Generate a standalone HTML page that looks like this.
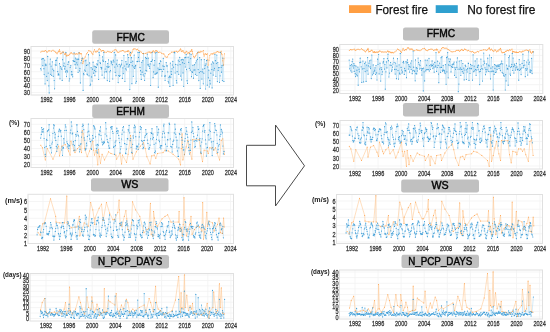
<!DOCTYPE html>
<html><head><meta charset="utf-8"><title>Forest fire vs no forest fire</title>
<style>html,body{margin:0;padding:0;background:#fff;}body{width:550px;height:332px;overflow:hidden;}svg{display:block;}</style>
</head><body>
<svg width="550" height="332" viewBox="0 0 550 332">
<rect x="349" y="5.2" width="22.2" height="7.8" fill="#ff9e42"/>
<text x="375.4" y="13.6" font-size="12.2" textLength="52.6" lengthAdjust="spacingAndGlyphs" fill="#111" stroke="#111" stroke-width="0.25" font-family='"Liberation Sans", Arial, sans-serif'>Forest fire</text>
<rect x="435.7" y="5.2" width="22.1" height="7.8" fill="#2fa0cf"/>
<text x="467.2" y="13.6" font-size="12.2" textLength="68.2" lengthAdjust="spacingAndGlyphs" fill="#111" stroke="#111" stroke-width="0.25" font-family='"Liberation Sans", Arial, sans-serif'>No forest fire</text>
<line x1="31" y1="92.5" x2="233.5" y2="92.5" stroke="#f2f2f2" stroke-width="0.8"/>
<line x1="31" y1="85.58" x2="233.5" y2="85.58" stroke="#f2f2f2" stroke-width="0.8"/>
<line x1="31" y1="78.67" x2="233.5" y2="78.67" stroke="#f2f2f2" stroke-width="0.8"/>
<line x1="31" y1="71.75" x2="233.5" y2="71.75" stroke="#f2f2f2" stroke-width="0.8"/>
<line x1="31" y1="64.83" x2="233.5" y2="64.83" stroke="#f2f2f2" stroke-width="0.8"/>
<line x1="31" y1="57.92" x2="233.5" y2="57.92" stroke="#f2f2f2" stroke-width="0.8"/>
<line x1="31" y1="51" x2="233.5" y2="51" stroke="#f2f2f2" stroke-width="0.8"/>
<line x1="46.5" y1="46.5" x2="46.5" y2="95" stroke="#f2f2f2" stroke-width="0.8"/>
<line x1="69.54" y1="46.5" x2="69.54" y2="95" stroke="#f2f2f2" stroke-width="0.8"/>
<line x1="92.59" y1="46.5" x2="92.59" y2="95" stroke="#f2f2f2" stroke-width="0.8"/>
<line x1="115.63" y1="46.5" x2="115.63" y2="95" stroke="#f2f2f2" stroke-width="0.8"/>
<line x1="138.67" y1="46.5" x2="138.67" y2="95" stroke="#f2f2f2" stroke-width="0.8"/>
<line x1="161.71" y1="46.5" x2="161.71" y2="95" stroke="#f2f2f2" stroke-width="0.8"/>
<line x1="184.76" y1="46.5" x2="184.76" y2="95" stroke="#f2f2f2" stroke-width="0.8"/>
<line x1="207.8" y1="46.5" x2="207.8" y2="95" stroke="#f2f2f2" stroke-width="0.8"/>
<line x1="230.84" y1="46.5" x2="230.84" y2="95" stroke="#f2f2f2" stroke-width="0.8"/>
<polyline points="40.7,68.6 41.2,70.0 41.8,59.2 42.3,58.6 42.8,65.7 43.4,58.6 43.9,68.7 44.2,74.6 44.7,60.0 45.1,83.9 45.4,65.1 45.8,64.1 46.2,65.1 46.6,76.3 47.3,80.6 47.7,56.4 48.2,73.1 48.8,85.8 49.2,92.9 49.9,64.0 50.3,59.1 50.7,74.3 51.1,66.1 51.7,75.5 52.3,61.8 52.8,69.2 53.3,76.3 53.7,70.7 54.2,80.5 54.6,88.8 55.3,64.8 55.7,60.3 56.1,65.2 56.6,60.2 57.2,57.9 57.7,71.6 58.1,75.0 58.4,73.8 58.9,74.9 59.5,63.6 60.0,78.8 60.6,66.6 61.2,68.2 61.8,69.5 62.2,80.4 62.6,59.7 63.1,52.4 63.6,65.9 64.1,63.1 64.6,68.9 65.1,66.5 65.5,71.9 65.9,52.4 66.5,76.6 66.9,70.7 67.4,71.9 67.9,64.3 68.3,62.1 68.8,61.8 69.2,81.0 69.7,78.8 70.2,67.5 70.8,65.7 71.4,74.8 71.7,71.7 72.2,74.7 72.7,76.8 73.1,60.6 73.6,61.2 74.1,52.8 74.7,61.4 75.1,64.7 75.5,58.0 75.9,68.2 76.3,59.0 76.7,62.8 77.3,64.8 77.7,59.2 78.1,72.5 78.6,59.2 79.0,52.6 79.4,70.9 79.9,68.3 80.4,82.9 81.0,62.9 81.5,60.6 82.0,58.7 82.6,58.0 83.1,90.4 83.5,73.3 83.9,74.7 84.5,70.0 85.1,60.8 85.6,71.1 86.0,60.0 86.5,65.4 87.0,74.1 87.5,74.8 87.9,64.8 88.5,54.7 89.0,75.8 89.6,62.9 90.1,85.6 90.6,84.2 91.1,67.7 91.6,76.9 92.1,81.0 92.5,69.2 93.1,62.2 93.6,73.2 94.1,66.1 94.5,70.3 94.9,75.7 95.3,66.7 95.8,71.7 96.4,67.4 96.9,63.8 97.5,64.8 98.0,60.7 98.6,79.5 99.1,52.4 99.6,55.2 100.1,62.7 100.5,63.5 101.0,67.4 101.3,69.0 101.7,67.9 102.1,75.2 102.5,56.8 102.9,60.2 103.3,61.4 103.8,52.4 104.3,77.9 104.7,72.0 105.2,69.0 105.6,61.6 106.1,71.5 106.5,71.8 107.0,66.3 107.3,80.6 107.7,63.5 108.1,67.4 108.5,59.8 109.0,66.7 109.6,81.3 109.9,71.8 110.5,70.6 111.0,61.0 111.3,63.1 111.8,61.9 112.3,64.7 112.7,79.0 113.3,60.2 113.9,61.9 114.3,52.4 114.8,67.1 115.2,72.3 115.6,54.9 116.0,75.7 116.5,64.2 117.1,60.1 117.6,66.0 118.2,82.6 118.7,75.5 119.2,64.3 119.6,76.5 120.0,75.5 120.4,66.8 120.9,65.6 121.4,64.2 121.9,60.3 122.4,78.4 122.9,67.8 123.3,73.6 123.9,55.5 124.3,66.0 124.9,81.5 125.4,68.8 125.9,61.6 126.4,70.0 126.7,64.2 127.1,64.1 127.7,54.7 128.1,67.1 128.6,57.5 129.0,65.9 129.5,64.5 129.8,89.6 130.5,52.4 131.0,62.4 131.5,57.7 131.9,83.7 132.3,65.7 132.7,61.2 133.3,76.3 133.7,67.0 134.2,55.0 134.7,68.4 135.1,66.7 135.6,65.4 135.8,83.1 136.4,81.3 137.0,61.3 137.5,61.6 138.0,52.4 138.5,57.4 139.1,61.3 139.4,52.4 140.0,67.4 140.5,70.7 140.9,74.4 141.3,79.4 141.8,62.3 142.2,72.2 142.8,60.7 143.2,74.9 143.5,53.4 144.1,76.1 144.6,80.3 145.1,73.6 145.5,57.3 145.9,70.3 146.4,58.4 146.7,71.0 147.3,54.1 147.8,64.8 148.2,58.2 148.6,64.9 149.2,66.4 149.7,68.3 150.2,63.8 150.6,85.5 151.0,61.5 151.6,61.3 152.1,52.4 152.5,59.9 153.1,77.7 153.6,71.9 154.1,65.2 154.6,60.5 155.0,74.2 155.4,52.9 156.0,73.8 156.4,73.2 156.9,52.4 157.4,72.8 158.0,68.0 158.3,87.2 159.0,69.7 159.4,63.4 160.0,69.3 160.4,60.8 160.8,61.3 161.2,69.5 161.8,76.0 162.3,71.5 162.9,65.9 163.3,58.3 163.7,69.3 164.1,66.4 164.5,76.1 165.1,80.5 165.6,75.9 166.2,62.6 166.7,65.9 167.3,65.9 167.7,71.8 168.2,81.5 168.7,82.9 169.0,77.4 169.5,76.2 169.9,86.4 170.4,63.1 170.8,77.2 171.2,71.3 171.6,74.4 172.0,68.8 172.4,65.0 172.8,61.3 173.1,85.5 173.6,67.2 174.2,52.4 174.8,52.8 175.2,73.0 175.7,64.4 176.4,80.6 176.8,82.9 177.2,71.7 177.8,65.0 178.3,60.1 178.7,74.3 179.2,61.5 179.7,57.3 180.1,64.6 180.7,76.1 181.2,59.9 181.6,79.9 182.2,59.3 182.6,62.7 183.0,72.9 183.4,59.8 183.7,86.3 184.3,63.5 184.9,57.7 185.3,67.0 185.8,57.4 186.2,54.4 186.5,69.6 187.1,80.7 187.5,83.3 188.1,57.2 188.7,62.3 189.3,68.3 189.7,53.6 190.3,70.2 190.7,58.6 191.1,54.3 191.5,76.7 192.0,71.7 192.5,72.5 192.9,65.3 193.5,78.2 193.9,70.0 194.4,64.7 194.9,69.9 195.4,74.3 195.8,62.8 196.4,60.8 196.9,75.5 197.4,59.4 197.8,52.4 198.2,69.6 198.8,80.6 199.3,72.6 199.7,57.6 200.2,88.4 200.8,71.5 201.3,59.7 201.9,79.1 202.3,71.9 202.8,69.1 203.3,83.8 203.8,73.2 204.3,59.5 204.7,68.6 205.2,65.4 205.6,89.0 206.0,63.9 206.6,60.4 206.9,60.6 207.3,85.2 207.8,66.9 208.4,77.8 208.8,70.2 209.3,87.0 209.8,80.4 210.3,83.9 210.8,73.2 211.4,64.0 211.8,69.6 212.1,87.9 212.7,61.9 213.2,75.1 213.6,63.1 214.0,70.2 214.5,68.3 214.9,54.3 215.4,60.7 215.9,76.3 216.4,63.5 216.8,55.0 217.4,81.6 217.8,62.6 218.2,70.5 218.7,67.6 219.1,67.6 219.5,82.3 220.1,75.8 220.6,52.4 221.2,67.3 221.5,72.2 222.0,65.6 222.4,80.6 222.8,58.1 223.3,65.0 223.9,81.4" fill="none" stroke="#b2dbf2" stroke-width="0.55" stroke-linejoin="round"/>
<polyline points="40.8,52.1 42.0,51.2 43.2,51.3 44.5,51.2 45.7,50.5 46.5,51.8 47.3,52.1 48.5,50.9 49.7,50.8 51.4,51.2 53.0,50.2 54.2,51.2 55.4,52.1 56.2,52.8 57.1,53.8 57.9,52.3 58.7,51.3 59.1,51.1 59.5,49.7 59.9,51.5 60.3,53.8 61.1,53.4 61.9,53.0 62.7,51.9 63.6,52.1 64.4,54.2 65.2,54.6 65.6,53.4 66.0,53.8 66.4,55.6 66.8,56.2 67.7,55.2 68.5,55.4 69.3,54.6 70.1,53.8 70.9,52.8 71.7,53.0 73.0,54.0 74.2,53.8 75.4,54.1 76.6,53.8 77.8,54.1 79.0,53.0 79.4,52.9 79.9,53.8 80.7,53.7 81.5,53.8 82.1,59.2 82.8,63.5 83.4,61.7 83.9,58.7 85.2,57.0 86.4,53.8 87.6,52.7 88.8,50.5 90.1,51.2 91.3,52.1 92.1,53.5 92.9,54.6 93.7,51.8 94.5,49.7 95.3,51.7 96.1,52.1 96.9,51.1 97.8,51.3 98.7,49.2 99.6,48.9 100.5,49.7 101.3,51.3 102.1,50.5 102.9,50.5 103.7,50.7 104.5,52.1 106.2,52.4 107.8,51.3 109.0,51.8 110.2,52.1 111.4,52.5 112.7,51.3 114.3,50.0 115.9,49.7 116.7,50.8 117.5,52.1 118.8,52.4 120.0,51.3 121.2,51.0 122.4,50.5 123.7,50.8 124.9,52.1 126.1,51.6 127.3,51.3 127.7,51.6 128.1,50.5 128.9,51.4 129.8,53.8 130.2,55.4 130.6,55.4 131.4,53.1 132.2,52.1 133.0,49.6 133.8,48.9 135.0,48.8 136.3,49.7 137.5,49.3 138.7,50.5 139.9,51.2 141.2,52.1 142.4,53.5 143.6,53.8 145.3,53.4 146.9,53.0 148.1,52.1 149.3,52.1 150.1,52.1 150.9,53.0 151.7,52.4 152.6,51.3 153.4,50.9 154.2,52.1 155.0,52.1 155.8,50.5 156.6,50.9 157.4,51.3 158.6,52.5 159.9,52.1 161.5,53.2 163.1,53.8 164.0,54.1 165.0,56.2 166.2,57.3 167.4,57.0 168.6,54.5 169.9,53.8 171.5,52.2 173.1,52.1 174.8,51.4 176.4,51.3 177.6,52.1 178.8,51.3 179.7,50.2 180.5,48.9 180.9,49.8 181.3,51.3 182.1,51.6 182.9,50.5 183.7,52.1 184.5,53.0 185.4,52.9 186.2,51.3 187.0,51.9 187.8,53.8 188.6,52.7 189.4,53.0 190.2,51.4 191.1,51.3 191.5,50.0 191.9,49.7 192.3,51.6 192.7,53.8 193.5,56.6 194.3,57.8 195.1,56.6 195.9,55.4 196.8,53.7 197.6,53.0 198.4,52.1 199.2,52.1 200.0,52.6 200.8,51.3 202.0,51.8 203.3,50.5 203.7,54.1 204.1,56.2 204.9,54.2 205.7,53.8 206.5,54.5 207.3,53.8 207.7,59.7 208.2,65.2 209.0,60.3 209.8,55.4 211.0,53.9 212.2,53.8 213.0,54.1 213.9,53.0 215.1,53.0 216.3,52.1 217.5,51.6 218.7,52.1 220.0,52.4 221.2,51.3 221.6,53.6 222.0,54.6 222.8,60.8 223.6,65.2 224.0,58.7 224.4,53.8" fill="none" stroke="#ffc996" stroke-width="0.6" stroke-linejoin="round"/>
<path d="M40.7 68.6h0M41.2 70.0h0M41.8 59.2h0M42.3 58.6h0M42.8 65.7h0M43.4 58.6h0M43.9 68.7h0M44.2 74.6h0M44.7 60.0h0M45.1 83.9h0M45.4 65.1h0M45.8 64.1h0M46.2 65.1h0M46.6 76.3h0M47.3 80.6h0M47.7 56.4h0M48.2 73.1h0M48.8 85.8h0M49.2 92.9h0M49.9 64.0h0M50.3 59.1h0M50.7 74.3h0M51.1 66.1h0M51.7 75.5h0M52.3 61.8h0M52.8 69.2h0M53.3 76.3h0M53.7 70.7h0M54.2 80.5h0M54.6 88.8h0M55.3 64.8h0M55.7 60.3h0M56.1 65.2h0M56.6 60.2h0M57.2 57.9h0M57.7 71.6h0M58.1 75.0h0M58.4 73.8h0M58.9 74.9h0M59.5 63.6h0M60.0 78.8h0M60.6 66.6h0M61.2 68.2h0M61.8 69.5h0M62.2 80.4h0M62.6 59.7h0M63.1 52.4h0M63.6 65.9h0M64.1 63.1h0M64.6 68.9h0M65.1 66.5h0M65.5 71.9h0M65.9 52.4h0M66.5 76.6h0M66.9 70.7h0M67.4 71.9h0M67.9 64.3h0M68.3 62.1h0M68.8 61.8h0M69.2 81.0h0M69.7 78.8h0M70.2 67.5h0M70.8 65.7h0M71.4 74.8h0M71.7 71.7h0M72.2 74.7h0M72.7 76.8h0M73.1 60.6h0M73.6 61.2h0M74.1 52.8h0M74.7 61.4h0M75.1 64.7h0M75.5 58.0h0M75.9 68.2h0M76.3 59.0h0M76.7 62.8h0M77.3 64.8h0M77.7 59.2h0M78.1 72.5h0M78.6 59.2h0M79.0 52.6h0M79.4 70.9h0M79.9 68.3h0M80.4 82.9h0M81.0 62.9h0M81.5 60.6h0M82.0 58.7h0M82.6 58.0h0M83.1 90.4h0M83.5 73.3h0M83.9 74.7h0M84.5 70.0h0M85.1 60.8h0M85.6 71.1h0M86.0 60.0h0M86.5 65.4h0M87.0 74.1h0M87.5 74.8h0M87.9 64.8h0M88.5 54.7h0M89.0 75.8h0M89.6 62.9h0M90.1 85.6h0M90.6 84.2h0M91.1 67.7h0M91.6 76.9h0M92.1 81.0h0M92.5 69.2h0M93.1 62.2h0M93.6 73.2h0M94.1 66.1h0M94.5 70.3h0M94.9 75.7h0M95.3 66.7h0M95.8 71.7h0M96.4 67.4h0M96.9 63.8h0M97.5 64.8h0M98.0 60.7h0M98.6 79.5h0M99.1 52.4h0M99.6 55.2h0M100.1 62.7h0M100.5 63.5h0M101.0 67.4h0M101.3 69.0h0M101.7 67.9h0M102.1 75.2h0M102.5 56.8h0M102.9 60.2h0M103.3 61.4h0M103.8 52.4h0M104.3 77.9h0M104.7 72.0h0M105.2 69.0h0M105.6 61.6h0M106.1 71.5h0M106.5 71.8h0M107.0 66.3h0M107.3 80.6h0M107.7 63.5h0M108.1 67.4h0M108.5 59.8h0M109.0 66.7h0M109.6 81.3h0M109.9 71.8h0M110.5 70.6h0M111.0 61.0h0M111.3 63.1h0M111.8 61.9h0M112.3 64.7h0M112.7 79.0h0M113.3 60.2h0M113.9 61.9h0M114.3 52.4h0M114.8 67.1h0M115.2 72.3h0M115.6 54.9h0M116.0 75.7h0M116.5 64.2h0M117.1 60.1h0M117.6 66.0h0M118.2 82.6h0M118.7 75.5h0M119.2 64.3h0M119.6 76.5h0M120.0 75.5h0M120.4 66.8h0M120.9 65.6h0M121.4 64.2h0M121.9 60.3h0M122.4 78.4h0M122.9 67.8h0M123.3 73.6h0M123.9 55.5h0M124.3 66.0h0M124.9 81.5h0M125.4 68.8h0M125.9 61.6h0M126.4 70.0h0M126.7 64.2h0M127.1 64.1h0M127.7 54.7h0M128.1 67.1h0M128.6 57.5h0M129.0 65.9h0M129.5 64.5h0M129.8 89.6h0M130.5 52.4h0M131.0 62.4h0M131.5 57.7h0M131.9 83.7h0M132.3 65.7h0M132.7 61.2h0M133.3 76.3h0M133.7 67.0h0M134.2 55.0h0M134.7 68.4h0M135.1 66.7h0M135.6 65.4h0M135.8 83.1h0M136.4 81.3h0M137.0 61.3h0M137.5 61.6h0M138.0 52.4h0M138.5 57.4h0M139.1 61.3h0M139.4 52.4h0M140.0 67.4h0M140.5 70.7h0M140.9 74.4h0M141.3 79.4h0M141.8 62.3h0M142.2 72.2h0M142.8 60.7h0M143.2 74.9h0M143.5 53.4h0M144.1 76.1h0M144.6 80.3h0M145.1 73.6h0M145.5 57.3h0M145.9 70.3h0M146.4 58.4h0M146.7 71.0h0M147.3 54.1h0M147.8 64.8h0M148.2 58.2h0M148.6 64.9h0M149.2 66.4h0M149.7 68.3h0M150.2 63.8h0M150.6 85.5h0M151.0 61.5h0M151.6 61.3h0M152.1 52.4h0M152.5 59.9h0M153.1 77.7h0M153.6 71.9h0M154.1 65.2h0M154.6 60.5h0M155.0 74.2h0M155.4 52.9h0M156.0 73.8h0M156.4 73.2h0M156.9 52.4h0M157.4 72.8h0M158.0 68.0h0M158.3 87.2h0M159.0 69.7h0M159.4 63.4h0M160.0 69.3h0M160.4 60.8h0M160.8 61.3h0M161.2 69.5h0M161.8 76.0h0M162.3 71.5h0M162.9 65.9h0M163.3 58.3h0M163.7 69.3h0M164.1 66.4h0M164.5 76.1h0M165.1 80.5h0M165.6 75.9h0M166.2 62.6h0M166.7 65.9h0M167.3 65.9h0M167.7 71.8h0M168.2 81.5h0M168.7 82.9h0M169.0 77.4h0M169.5 76.2h0M169.9 86.4h0M170.4 63.1h0M170.8 77.2h0M171.2 71.3h0M171.6 74.4h0M172.0 68.8h0M172.4 65.0h0M172.8 61.3h0M173.1 85.5h0M173.6 67.2h0M174.2 52.4h0M174.8 52.8h0M175.2 73.0h0M175.7 64.4h0M176.4 80.6h0M176.8 82.9h0M177.2 71.7h0M177.8 65.0h0M178.3 60.1h0M178.7 74.3h0M179.2 61.5h0M179.7 57.3h0M180.1 64.6h0M180.7 76.1h0M181.2 59.9h0M181.6 79.9h0M182.2 59.3h0M182.6 62.7h0M183.0 72.9h0M183.4 59.8h0M183.7 86.3h0M184.3 63.5h0M184.9 57.7h0M185.3 67.0h0M185.8 57.4h0M186.2 54.4h0M186.5 69.6h0M187.1 80.7h0M187.5 83.3h0M188.1 57.2h0M188.7 62.3h0M189.3 68.3h0M189.7 53.6h0M190.3 70.2h0M190.7 58.6h0M191.1 54.3h0M191.5 76.7h0M192.0 71.7h0M192.5 72.5h0M192.9 65.3h0M193.5 78.2h0M193.9 70.0h0M194.4 64.7h0M194.9 69.9h0M195.4 74.3h0M195.8 62.8h0M196.4 60.8h0M196.9 75.5h0M197.4 59.4h0M197.8 52.4h0M198.2 69.6h0M198.8 80.6h0M199.3 72.6h0M199.7 57.6h0M200.2 88.4h0M200.8 71.5h0M201.3 59.7h0M201.9 79.1h0M202.3 71.9h0M202.8 69.1h0M203.3 83.8h0M203.8 73.2h0M204.3 59.5h0M204.7 68.6h0M205.2 65.4h0M205.6 89.0h0M206.0 63.9h0M206.6 60.4h0M206.9 60.6h0M207.3 85.2h0M207.8 66.9h0M208.4 77.8h0M208.8 70.2h0M209.3 87.0h0M209.8 80.4h0M210.3 83.9h0M210.8 73.2h0M211.4 64.0h0M211.8 69.6h0M212.1 87.9h0M212.7 61.9h0M213.2 75.1h0M213.6 63.1h0M214.0 70.2h0M214.5 68.3h0M214.9 54.3h0M215.4 60.7h0M215.9 76.3h0M216.4 63.5h0M216.8 55.0h0M217.4 81.6h0M217.8 62.6h0M218.2 70.5h0M218.7 67.6h0M219.1 67.6h0M219.5 82.3h0M220.1 75.8h0M220.6 52.4h0M221.2 67.3h0M221.5 72.2h0M222.0 65.6h0M222.4 80.6h0M222.8 58.1h0M223.3 65.0h0M223.9 81.4h0" fill="none" stroke="#3f9dd6" stroke-width="1.20" stroke-linecap="round"/>
<path d="M40.8 52.1h0M42.0 51.2h0M43.2 51.3h0M44.5 51.2h0M45.7 50.5h0M46.5 51.8h0M47.3 52.1h0M48.5 50.9h0M49.7 50.8h0M51.4 51.2h0M53.0 50.2h0M54.2 51.2h0M55.4 52.1h0M56.2 52.8h0M57.1 53.8h0M57.9 52.3h0M58.7 51.3h0M59.1 51.1h0M59.5 49.7h0M59.9 51.5h0M60.3 53.8h0M61.1 53.4h0M61.9 53.0h0M62.7 51.9h0M63.6 52.1h0M64.4 54.2h0M65.2 54.6h0M65.6 53.4h0M66.0 53.8h0M66.4 55.6h0M66.8 56.2h0M67.7 55.2h0M68.5 55.4h0M69.3 54.6h0M70.1 53.8h0M70.9 52.8h0M71.7 53.0h0M73.0 54.0h0M74.2 53.8h0M75.4 54.1h0M76.6 53.8h0M77.8 54.1h0M79.0 53.0h0M79.4 52.9h0M79.9 53.8h0M80.7 53.7h0M81.5 53.8h0M82.1 59.2h0M82.8 63.5h0M83.4 61.7h0M83.9 58.7h0M85.2 57.0h0M86.4 53.8h0M87.6 52.7h0M88.8 50.5h0M90.1 51.2h0M91.3 52.1h0M92.1 53.5h0M92.9 54.6h0M93.7 51.8h0M94.5 49.7h0M95.3 51.7h0M96.1 52.1h0M96.9 51.1h0M97.8 51.3h0M98.7 49.2h0M99.6 48.9h0M100.5 49.7h0M101.3 51.3h0M102.1 50.5h0M102.9 50.5h0M103.7 50.7h0M104.5 52.1h0M106.2 52.4h0M107.8 51.3h0M109.0 51.8h0M110.2 52.1h0M111.4 52.5h0M112.7 51.3h0M114.3 50.0h0M115.9 49.7h0M116.7 50.8h0M117.5 52.1h0M118.8 52.4h0M120.0 51.3h0M121.2 51.0h0M122.4 50.5h0M123.7 50.8h0M124.9 52.1h0M126.1 51.6h0M127.3 51.3h0M127.7 51.6h0M128.1 50.5h0M128.9 51.4h0M129.8 53.8h0M130.2 55.4h0M130.6 55.4h0M131.4 53.1h0M132.2 52.1h0M133.0 49.6h0M133.8 48.9h0M135.0 48.8h0M136.3 49.7h0M137.5 49.3h0M138.7 50.5h0M139.9 51.2h0M141.2 52.1h0M142.4 53.5h0M143.6 53.8h0M145.3 53.4h0M146.9 53.0h0M148.1 52.1h0M149.3 52.1h0M150.1 52.1h0M150.9 53.0h0M151.7 52.4h0M152.6 51.3h0M153.4 50.9h0M154.2 52.1h0M155.0 52.1h0M155.8 50.5h0M156.6 50.9h0M157.4 51.3h0M158.6 52.5h0M159.9 52.1h0M161.5 53.2h0M163.1 53.8h0M164.0 54.1h0M165.0 56.2h0M166.2 57.3h0M167.4 57.0h0M168.6 54.5h0M169.9 53.8h0M171.5 52.2h0M173.1 52.1h0M174.8 51.4h0M176.4 51.3h0M177.6 52.1h0M178.8 51.3h0M179.7 50.2h0M180.5 48.9h0M180.9 49.8h0M181.3 51.3h0M182.1 51.6h0M182.9 50.5h0M183.7 52.1h0M184.5 53.0h0M185.4 52.9h0M186.2 51.3h0M187.0 51.9h0M187.8 53.8h0M188.6 52.7h0M189.4 53.0h0M190.2 51.4h0M191.1 51.3h0M191.5 50.0h0M191.9 49.7h0M192.3 51.6h0M192.7 53.8h0M193.5 56.6h0M194.3 57.8h0M195.1 56.6h0M195.9 55.4h0M196.8 53.7h0M197.6 53.0h0M198.4 52.1h0M199.2 52.1h0M200.0 52.6h0M200.8 51.3h0M202.0 51.8h0M203.3 50.5h0M203.7 54.1h0M204.1 56.2h0M204.9 54.2h0M205.7 53.8h0M206.5 54.5h0M207.3 53.8h0M207.7 59.7h0M208.2 65.2h0M209.0 60.3h0M209.8 55.4h0M211.0 53.9h0M212.2 53.8h0M213.0 54.1h0M213.9 53.0h0M215.1 53.0h0M216.3 52.1h0M217.5 51.6h0M218.7 52.1h0M220.0 52.4h0M221.2 51.3h0M221.6 53.6h0M222.0 54.6h0M222.8 60.8h0M223.6 65.2h0M224.0 58.7h0M224.4 53.8h0" fill="none" stroke="#ff9f47" stroke-width="1.00" stroke-linecap="round"/>
<rect x="31" y="46.5" width="202.5" height="48.5" fill="none" stroke="#e0e0e0" stroke-width="1"/>
<text x="0" y="0" transform="translate(30,95.35) scale(0.69,1)" text-anchor="end" font-size="8" fill="#333333" stroke="#333333" stroke-width="0.3" font-family='"Liberation Sans", Arial, sans-serif'>30</text>
<text x="0" y="0" transform="translate(30,88.43) scale(0.69,1)" text-anchor="end" font-size="8" fill="#333333" stroke="#333333" stroke-width="0.3" font-family='"Liberation Sans", Arial, sans-serif'>40</text>
<text x="0" y="0" transform="translate(30,81.52) scale(0.69,1)" text-anchor="end" font-size="8" fill="#333333" stroke="#333333" stroke-width="0.3" font-family='"Liberation Sans", Arial, sans-serif'>50</text>
<text x="0" y="0" transform="translate(30,74.6) scale(0.69,1)" text-anchor="end" font-size="8" fill="#333333" stroke="#333333" stroke-width="0.3" font-family='"Liberation Sans", Arial, sans-serif'>60</text>
<text x="0" y="0" transform="translate(30,67.68) scale(0.69,1)" text-anchor="end" font-size="8" fill="#333333" stroke="#333333" stroke-width="0.3" font-family='"Liberation Sans", Arial, sans-serif'>70</text>
<text x="0" y="0" transform="translate(30,60.77) scale(0.69,1)" text-anchor="end" font-size="8" fill="#333333" stroke="#333333" stroke-width="0.3" font-family='"Liberation Sans", Arial, sans-serif'>80</text>
<text x="0" y="0" transform="translate(30,53.85) scale(0.69,1)" text-anchor="end" font-size="8" fill="#333333" stroke="#333333" stroke-width="0.3" font-family='"Liberation Sans", Arial, sans-serif'>90</text>
<text x="0" y="0" transform="translate(46.5,102.35) scale(0.69,1)" text-anchor="middle" font-size="8" fill="#333333" stroke="#333333" stroke-width="0.3" font-family='"Liberation Sans", Arial, sans-serif'>1992</text>
<text x="0" y="0" transform="translate(69.54,102.35) scale(0.69,1)" text-anchor="middle" font-size="8" fill="#333333" stroke="#333333" stroke-width="0.3" font-family='"Liberation Sans", Arial, sans-serif'>1996</text>
<text x="0" y="0" transform="translate(92.59,102.35) scale(0.69,1)" text-anchor="middle" font-size="8" fill="#333333" stroke="#333333" stroke-width="0.3" font-family='"Liberation Sans", Arial, sans-serif'>2000</text>
<text x="0" y="0" transform="translate(115.63,102.35) scale(0.69,1)" text-anchor="middle" font-size="8" fill="#333333" stroke="#333333" stroke-width="0.3" font-family='"Liberation Sans", Arial, sans-serif'>2004</text>
<text x="0" y="0" transform="translate(138.67,102.35) scale(0.69,1)" text-anchor="middle" font-size="8" fill="#333333" stroke="#333333" stroke-width="0.3" font-family='"Liberation Sans", Arial, sans-serif'>2008</text>
<text x="0" y="0" transform="translate(161.71,102.35) scale(0.69,1)" text-anchor="middle" font-size="8" fill="#333333" stroke="#333333" stroke-width="0.3" font-family='"Liberation Sans", Arial, sans-serif'>2012</text>
<text x="0" y="0" transform="translate(184.76,102.35) scale(0.69,1)" text-anchor="middle" font-size="8" fill="#333333" stroke="#333333" stroke-width="0.3" font-family='"Liberation Sans", Arial, sans-serif'>2016</text>
<text x="0" y="0" transform="translate(207.8,102.35) scale(0.69,1)" text-anchor="middle" font-size="8" fill="#333333" stroke="#333333" stroke-width="0.3" font-family='"Liberation Sans", Arial, sans-serif'>2020</text>
<text x="0" y="0" transform="translate(230.84,102.35) scale(0.69,1)" text-anchor="middle" font-size="8" fill="#333333" stroke="#333333" stroke-width="0.3" font-family='"Liberation Sans", Arial, sans-serif'>2024</text>
<rect x="92.2" y="30.2" width="76.8" height="13.6" rx="2.2" fill="#c0c0c0"/>
<text x="130.6" y="40.6" text-anchor="middle" font-size="10.6" textLength="28.4" lengthAdjust="spacingAndGlyphs" fill="#050505" stroke="#050505" stroke-width="0.42" font-family='"Liberation Sans", Arial, sans-serif'>FFMC</text>
<line x1="31" y1="164.6" x2="233.5" y2="164.6" stroke="#f2f2f2" stroke-width="0.8"/>
<line x1="31" y1="156.54" x2="233.5" y2="156.54" stroke="#f2f2f2" stroke-width="0.8"/>
<line x1="31" y1="148.48" x2="233.5" y2="148.48" stroke="#f2f2f2" stroke-width="0.8"/>
<line x1="31" y1="140.42" x2="233.5" y2="140.42" stroke="#f2f2f2" stroke-width="0.8"/>
<line x1="31" y1="132.36" x2="233.5" y2="132.36" stroke="#f2f2f2" stroke-width="0.8"/>
<line x1="31" y1="124.3" x2="233.5" y2="124.3" stroke="#f2f2f2" stroke-width="0.8"/>
<line x1="46.5" y1="118.5" x2="46.5" y2="167.5" stroke="#f2f2f2" stroke-width="0.8"/>
<line x1="69.54" y1="118.5" x2="69.54" y2="167.5" stroke="#f2f2f2" stroke-width="0.8"/>
<line x1="92.59" y1="118.5" x2="92.59" y2="167.5" stroke="#f2f2f2" stroke-width="0.8"/>
<line x1="115.63" y1="118.5" x2="115.63" y2="167.5" stroke="#f2f2f2" stroke-width="0.8"/>
<line x1="138.67" y1="118.5" x2="138.67" y2="167.5" stroke="#f2f2f2" stroke-width="0.8"/>
<line x1="161.71" y1="118.5" x2="161.71" y2="167.5" stroke="#f2f2f2" stroke-width="0.8"/>
<line x1="184.76" y1="118.5" x2="184.76" y2="167.5" stroke="#f2f2f2" stroke-width="0.8"/>
<line x1="207.8" y1="118.5" x2="207.8" y2="167.5" stroke="#f2f2f2" stroke-width="0.8"/>
<line x1="230.84" y1="118.5" x2="230.84" y2="167.5" stroke="#f2f2f2" stroke-width="0.8"/>
<polyline points="40.7,138.1 41.3,134.4 41.7,127.6 42.1,131.9 42.6,129.5 43.1,131.9 43.6,128.8 44.1,138.5 44.7,147.6 45.2,154.4 45.6,156.5 46.2,146.4 46.6,139.3 47.0,140.3 47.4,131.2 47.9,130.6 48.2,130.6 48.7,129.5 49.1,124.7 49.6,135.1 49.9,145.6 50.3,147.9 50.9,147.3 51.5,152.8 51.9,143.9 52.3,142.1 52.9,133.5 53.5,128.0 53.8,124.7 54.2,125.7 54.6,132.3 55.0,137.9 55.3,134.1 55.8,140.4 56.3,146.4 56.8,151.3 57.2,147.9 57.7,144.7 58.3,136.3 58.8,131.2 59.3,129.0 59.8,129.9 60.3,131.8 60.8,130.5 61.3,136.2 61.7,150.0 62.1,146.8 62.5,155.3 63.0,148.5 63.4,147.7 63.8,138.7 64.2,143.0 64.8,130.5 65.3,124.8 65.8,126.9 66.3,130.3 66.9,141.8 67.4,143.7 67.8,146.9 68.3,144.8 68.8,148.7 69.2,145.9 69.7,145.7 70.3,132.9 70.8,130.1 71.3,121.9 71.8,126.1 72.2,133.9 72.7,133.0 73.1,144.6 73.4,141.7 73.9,150.7 74.5,145.3 75.0,150.2 75.3,140.6 75.8,134.4 76.3,136.1 76.7,124.8 77.1,124.8 77.5,131.4 78.0,135.1 78.6,136.0 79.0,145.4 79.5,151.8 80.0,149.3 80.6,144.1 81.1,143.8 81.5,137.1 81.9,132.2 82.3,126.3 82.9,124.1 83.3,125.5 83.8,129.7 84.2,137.9 84.7,140.1 85.2,150.1 85.5,148.9 86.0,148.9 86.5,143.2 86.8,145.8 87.4,136.4 87.8,132.0 88.4,124.0 88.8,131.2 89.2,135.1 89.7,138.9 90.2,141.6 90.7,141.6 91.1,148.6 91.5,149.3 92.1,140.2 92.6,135.5 93.2,138.4 93.7,125.7 94.2,126.6 94.7,127.9 95.0,129.1 95.6,136.8 96.1,145.1 96.4,148.7 96.9,152.1 97.4,144.3 97.7,153.1 98.3,145.2 98.9,134.0 99.3,134.8 99.7,130.6 100.1,131.2 100.5,126.9 101.0,135.5 101.5,139.0 102.0,142.0 102.6,144.8 103.1,142.3 103.6,143.7 104.0,141.5 104.5,142.6 105.1,134.0 105.7,122.7 106.2,128.8 106.7,135.9 107.2,139.5 107.7,141.9 108.2,142.6 108.7,145.8 109.1,148.2 109.7,148.1 110.1,138.3 110.7,127.3 111.3,126.9 111.7,128.9 112.1,126.6 112.6,131.5 113.0,133.3 113.5,147.3 114.0,146.4 114.5,154.3 115.1,142.0 115.5,145.7 115.9,140.8 116.5,131.3 116.8,128.2 117.2,133.3 117.8,130.7 118.2,130.9 118.7,135.5 119.0,138.3 119.6,142.6 120.0,152.9 120.5,149.0 121.0,146.5 121.6,139.0 122.0,134.2 122.4,130.1 123.0,127.5 123.5,126.5 124.0,132.0 124.5,143.5 125.0,143.8 125.5,153.1 125.9,153.7 126.4,149.1 126.8,144.5 127.3,138.6 127.8,138.9 128.2,129.7 128.7,131.0 129.1,125.4 129.7,132.8 130.2,140.7 130.7,138.5 131.1,147.3 131.7,152.3 132.2,153.1 132.6,144.3 133.1,135.8 133.5,138.0 134.0,127.7 134.6,125.2 134.9,132.1 135.3,126.9 135.8,136.7 136.3,148.9 136.6,146.2 137.1,146.9 137.7,146.0 138.2,149.5 138.8,144.0 139.2,136.9 139.7,132.4 140.3,126.4 140.8,129.5 141.3,127.7 141.7,140.5 142.2,141.3 142.7,144.2 143.0,148.7 143.5,147.3 143.9,140.5 144.3,140.5 144.8,137.2 145.3,135.6 145.8,129.6 146.4,134.5 146.9,133.5 147.4,140.1 147.9,143.4 148.5,149.0 149.1,149.1 149.6,147.6 150.1,145.1 150.6,138.8 151.1,132.6 151.5,133.4 152.0,128.7 152.5,139.1 152.9,133.9 153.5,137.6 154.1,144.3 154.6,152.5 155.1,153.0 155.5,151.1 155.9,143.1 156.5,139.3 156.9,126.7 157.5,135.0 158.0,132.7 158.6,129.2 159.0,140.2 159.5,141.7 160.1,147.5 160.5,145.9 160.9,148.8 161.2,145.6 161.8,145.8 162.3,137.2 162.6,133.8 163.1,131.3 163.6,125.9 164.0,124.1 164.5,133.2 164.9,137.1 165.5,144.2 166.1,150.9 166.5,150.4 167.1,146.3 167.5,139.7 167.9,139.8 168.2,132.7 168.7,133.0 169.2,123.2 169.6,124.4 170.2,138.9 170.8,146.6 171.2,146.8 171.8,147.0 172.2,152.0 172.7,144.4 173.1,141.5 173.7,140.2 174.3,132.9 174.9,124.2 175.4,129.2 175.7,134.2 176.1,137.2 176.7,147.0 177.0,140.2 177.4,150.9 178.0,156.5 178.5,156.4 178.9,147.8 179.4,133.6 179.9,134.5 180.5,129.5 180.9,130.2 181.3,128.5 181.7,137.3 182.1,140.2 182.5,144.6 182.9,147.2 183.3,150.0 183.8,149.8 184.4,154.6 184.8,141.2 185.2,138.5 185.6,133.8 186.1,127.5 186.7,131.2 187.1,134.4 187.7,137.2 188.2,141.7 188.6,147.3 189.0,150.6 189.5,154.0 189.9,144.3 190.4,150.4 190.9,140.0 191.4,132.3 191.8,121.9 192.3,131.2 192.9,127.3 193.3,133.5 193.8,136.7 194.2,141.2 194.8,147.2 195.4,146.5 195.8,140.5 196.4,138.3 196.9,141.1 197.5,135.2 198.0,126.6 198.5,129.4 198.9,128.8 199.4,140.2 199.9,138.3 200.4,145.9 200.8,152.2 201.2,153.6 201.7,142.1 202.2,138.8 202.7,131.1 203.1,126.3 203.5,125.4 204.0,124.6 204.5,132.1 204.9,130.5 205.5,139.8 205.9,143.9 206.4,156.1 207.0,147.8 207.4,147.4 208.0,135.0 208.4,134.7 209.0,139.9 209.3,130.1 209.9,122.6 210.3,131.3 210.8,138.6 211.4,141.9 211.8,148.8 212.2,155.6 212.6,147.5 213.2,141.3 213.6,149.8 214.2,132.6 214.7,123.6 215.1,125.9 215.7,130.1 216.3,130.5 216.9,134.9 217.2,143.3 217.7,152.6 218.1,149.6 218.7,145.9 219.2,144.5 219.6,139.6 220.0,136.2 220.4,124.9 220.8,134.5 221.3,129.4 221.9,131.0 222.4,132.8 222.9,146.0 223.4,153.9 224.0,151.4" fill="none" stroke="#b2dbf2" stroke-width="0.55" stroke-linejoin="round"/>
<polyline points="40.8,145.3 42.4,147.8 45.3,160.0 47.3,148.6 53.0,159.2 58.7,146.1 59.5,155.9 61.9,146.1 65.2,144.5 68.5,151.0 70.1,155.1 70.9,141.2 74.2,150.2 75.0,152.6 77.4,148.6 79.9,146.1 81.5,152.6 82.3,130.7 83.1,133.9 84.7,148.6 87.2,156.7 89.6,151.0 92.9,141.4 93.7,150.2 94.5,155.1 96.1,150.2 97.8,164.9 98.6,149.4 99.6,156.7 100.4,163.2 102.1,154.3 104.5,160.0 108.6,151.8 111.0,153.5 115.9,155.1 116.7,159.2 120.0,153.5 121.6,164.0 122.4,155.1 126.5,162.4 128.1,154.3 130.6,135.5 132.2,153.5 133.0,159.2 136.3,151.8 140.3,146.1 143.6,142.9 145.2,148.6 146.9,156.7 150.1,164.0 151.7,155.9 154.2,155.1 155.8,158.3 157.4,153.5 163.1,152.6 165.0,150.2 168.3,151.0 173.1,154.3 178.8,159.2 180.5,164.9 181.3,148.6 182.1,133.9 182.9,160.0 184.5,154.3 186.2,146.9 187.8,140.4 190.2,152.6 191.9,159.2 192.7,139.6 199.2,139.6 200.8,153.5 202.5,161.6 204.1,150.2 207.3,151.0 208.2,153.5 209.8,147.8 212.2,147.8 213.9,150.2 215.5,147.8 217.1,153.5 219.6,160.0 221.2,140.4 222.8,138.8 224.4,154.3" fill="none" stroke="#ffc996" stroke-width="0.6" stroke-linejoin="round"/>
<path d="M40.7 138.1h0M41.3 134.4h0M41.7 127.6h0M42.1 131.9h0M42.6 129.5h0M43.1 131.9h0M43.6 128.8h0M44.1 138.5h0M44.7 147.6h0M45.2 154.4h0M45.6 156.5h0M46.2 146.4h0M46.6 139.3h0M47.0 140.3h0M47.4 131.2h0M47.9 130.6h0M48.2 130.6h0M48.7 129.5h0M49.1 124.7h0M49.6 135.1h0M49.9 145.6h0M50.3 147.9h0M50.9 147.3h0M51.5 152.8h0M51.9 143.9h0M52.3 142.1h0M52.9 133.5h0M53.5 128.0h0M53.8 124.7h0M54.2 125.7h0M54.6 132.3h0M55.0 137.9h0M55.3 134.1h0M55.8 140.4h0M56.3 146.4h0M56.8 151.3h0M57.2 147.9h0M57.7 144.7h0M58.3 136.3h0M58.8 131.2h0M59.3 129.0h0M59.8 129.9h0M60.3 131.8h0M60.8 130.5h0M61.3 136.2h0M61.7 150.0h0M62.1 146.8h0M62.5 155.3h0M63.0 148.5h0M63.4 147.7h0M63.8 138.7h0M64.2 143.0h0M64.8 130.5h0M65.3 124.8h0M65.8 126.9h0M66.3 130.3h0M66.9 141.8h0M67.4 143.7h0M67.8 146.9h0M68.3 144.8h0M68.8 148.7h0M69.2 145.9h0M69.7 145.7h0M70.3 132.9h0M70.8 130.1h0M71.3 121.9h0M71.8 126.1h0M72.2 133.9h0M72.7 133.0h0M73.1 144.6h0M73.4 141.7h0M73.9 150.7h0M74.5 145.3h0M75.0 150.2h0M75.3 140.6h0M75.8 134.4h0M76.3 136.1h0M76.7 124.8h0M77.1 124.8h0M77.5 131.4h0M78.0 135.1h0M78.6 136.0h0M79.0 145.4h0M79.5 151.8h0M80.0 149.3h0M80.6 144.1h0M81.1 143.8h0M81.5 137.1h0M81.9 132.2h0M82.3 126.3h0M82.9 124.1h0M83.3 125.5h0M83.8 129.7h0M84.2 137.9h0M84.7 140.1h0M85.2 150.1h0M85.5 148.9h0M86.0 148.9h0M86.5 143.2h0M86.8 145.8h0M87.4 136.4h0M87.8 132.0h0M88.4 124.0h0M88.8 131.2h0M89.2 135.1h0M89.7 138.9h0M90.2 141.6h0M90.7 141.6h0M91.1 148.6h0M91.5 149.3h0M92.1 140.2h0M92.6 135.5h0M93.2 138.4h0M93.7 125.7h0M94.2 126.6h0M94.7 127.9h0M95.0 129.1h0M95.6 136.8h0M96.1 145.1h0M96.4 148.7h0M96.9 152.1h0M97.4 144.3h0M97.7 153.1h0M98.3 145.2h0M98.9 134.0h0M99.3 134.8h0M99.7 130.6h0M100.1 131.2h0M100.5 126.9h0M101.0 135.5h0M101.5 139.0h0M102.0 142.0h0M102.6 144.8h0M103.1 142.3h0M103.6 143.7h0M104.0 141.5h0M104.5 142.6h0M105.1 134.0h0M105.7 122.7h0M106.2 128.8h0M106.7 135.9h0M107.2 139.5h0M107.7 141.9h0M108.2 142.6h0M108.7 145.8h0M109.1 148.2h0M109.7 148.1h0M110.1 138.3h0M110.7 127.3h0M111.3 126.9h0M111.7 128.9h0M112.1 126.6h0M112.6 131.5h0M113.0 133.3h0M113.5 147.3h0M114.0 146.4h0M114.5 154.3h0M115.1 142.0h0M115.5 145.7h0M115.9 140.8h0M116.5 131.3h0M116.8 128.2h0M117.2 133.3h0M117.8 130.7h0M118.2 130.9h0M118.7 135.5h0M119.0 138.3h0M119.6 142.6h0M120.0 152.9h0M120.5 149.0h0M121.0 146.5h0M121.6 139.0h0M122.0 134.2h0M122.4 130.1h0M123.0 127.5h0M123.5 126.5h0M124.0 132.0h0M124.5 143.5h0M125.0 143.8h0M125.5 153.1h0M125.9 153.7h0M126.4 149.1h0M126.8 144.5h0M127.3 138.6h0M127.8 138.9h0M128.2 129.7h0M128.7 131.0h0M129.1 125.4h0M129.7 132.8h0M130.2 140.7h0M130.7 138.5h0M131.1 147.3h0M131.7 152.3h0M132.2 153.1h0M132.6 144.3h0M133.1 135.8h0M133.5 138.0h0M134.0 127.7h0M134.6 125.2h0M134.9 132.1h0M135.3 126.9h0M135.8 136.7h0M136.3 148.9h0M136.6 146.2h0M137.1 146.9h0M137.7 146.0h0M138.2 149.5h0M138.8 144.0h0M139.2 136.9h0M139.7 132.4h0M140.3 126.4h0M140.8 129.5h0M141.3 127.7h0M141.7 140.5h0M142.2 141.3h0M142.7 144.2h0M143.0 148.7h0M143.5 147.3h0M143.9 140.5h0M144.3 140.5h0M144.8 137.2h0M145.3 135.6h0M145.8 129.6h0M146.4 134.5h0M146.9 133.5h0M147.4 140.1h0M147.9 143.4h0M148.5 149.0h0M149.1 149.1h0M149.6 147.6h0M150.1 145.1h0M150.6 138.8h0M151.1 132.6h0M151.5 133.4h0M152.0 128.7h0M152.5 139.1h0M152.9 133.9h0M153.5 137.6h0M154.1 144.3h0M154.6 152.5h0M155.1 153.0h0M155.5 151.1h0M155.9 143.1h0M156.5 139.3h0M156.9 126.7h0M157.5 135.0h0M158.0 132.7h0M158.6 129.2h0M159.0 140.2h0M159.5 141.7h0M160.1 147.5h0M160.5 145.9h0M160.9 148.8h0M161.2 145.6h0M161.8 145.8h0M162.3 137.2h0M162.6 133.8h0M163.1 131.3h0M163.6 125.9h0M164.0 124.1h0M164.5 133.2h0M164.9 137.1h0M165.5 144.2h0M166.1 150.9h0M166.5 150.4h0M167.1 146.3h0M167.5 139.7h0M167.9 139.8h0M168.2 132.7h0M168.7 133.0h0M169.2 123.2h0M169.6 124.4h0M170.2 138.9h0M170.8 146.6h0M171.2 146.8h0M171.8 147.0h0M172.2 152.0h0M172.7 144.4h0M173.1 141.5h0M173.7 140.2h0M174.3 132.9h0M174.9 124.2h0M175.4 129.2h0M175.7 134.2h0M176.1 137.2h0M176.7 147.0h0M177.0 140.2h0M177.4 150.9h0M178.0 156.5h0M178.5 156.4h0M178.9 147.8h0M179.4 133.6h0M179.9 134.5h0M180.5 129.5h0M180.9 130.2h0M181.3 128.5h0M181.7 137.3h0M182.1 140.2h0M182.5 144.6h0M182.9 147.2h0M183.3 150.0h0M183.8 149.8h0M184.4 154.6h0M184.8 141.2h0M185.2 138.5h0M185.6 133.8h0M186.1 127.5h0M186.7 131.2h0M187.1 134.4h0M187.7 137.2h0M188.2 141.7h0M188.6 147.3h0M189.0 150.6h0M189.5 154.0h0M189.9 144.3h0M190.4 150.4h0M190.9 140.0h0M191.4 132.3h0M191.8 121.9h0M192.3 131.2h0M192.9 127.3h0M193.3 133.5h0M193.8 136.7h0M194.2 141.2h0M194.8 147.2h0M195.4 146.5h0M195.8 140.5h0M196.4 138.3h0M196.9 141.1h0M197.5 135.2h0M198.0 126.6h0M198.5 129.4h0M198.9 128.8h0M199.4 140.2h0M199.9 138.3h0M200.4 145.9h0M200.8 152.2h0M201.2 153.6h0M201.7 142.1h0M202.2 138.8h0M202.7 131.1h0M203.1 126.3h0M203.5 125.4h0M204.0 124.6h0M204.5 132.1h0M204.9 130.5h0M205.5 139.8h0M205.9 143.9h0M206.4 156.1h0M207.0 147.8h0M207.4 147.4h0M208.0 135.0h0M208.4 134.7h0M209.0 139.9h0M209.3 130.1h0M209.9 122.6h0M210.3 131.3h0M210.8 138.6h0M211.4 141.9h0M211.8 148.8h0M212.2 155.6h0M212.6 147.5h0M213.2 141.3h0M213.6 149.8h0M214.2 132.6h0M214.7 123.6h0M215.1 125.9h0M215.7 130.1h0M216.3 130.5h0M216.9 134.9h0M217.2 143.3h0M217.7 152.6h0M218.1 149.6h0M218.7 145.9h0M219.2 144.5h0M219.6 139.6h0M220.0 136.2h0M220.4 124.9h0M220.8 134.5h0M221.3 129.4h0M221.9 131.0h0M222.4 132.8h0M222.9 146.0h0M223.4 153.9h0M224.0 151.4h0" fill="none" stroke="#3f9dd6" stroke-width="1.20" stroke-linecap="round"/>
<path d="M40.8 145.3h0M42.4 147.8h0M45.3 160.0h0M47.3 148.6h0M53.0 159.2h0M58.7 146.1h0M59.5 155.9h0M61.9 146.1h0M65.2 144.5h0M68.5 151.0h0M70.1 155.1h0M70.9 141.2h0M74.2 150.2h0M75.0 152.6h0M77.4 148.6h0M79.9 146.1h0M81.5 152.6h0M82.3 130.7h0M83.1 133.9h0M84.7 148.6h0M87.2 156.7h0M89.6 151.0h0M92.9 141.4h0M93.7 150.2h0M94.5 155.1h0M96.1 150.2h0M97.8 164.9h0M98.6 149.4h0M99.6 156.7h0M100.4 163.2h0M102.1 154.3h0M104.5 160.0h0M108.6 151.8h0M111.0 153.5h0M115.9 155.1h0M116.7 159.2h0M120.0 153.5h0M121.6 164.0h0M122.4 155.1h0M126.5 162.4h0M128.1 154.3h0M130.6 135.5h0M132.2 153.5h0M133.0 159.2h0M136.3 151.8h0M140.3 146.1h0M143.6 142.9h0M145.2 148.6h0M146.9 156.7h0M150.1 164.0h0M151.7 155.9h0M154.2 155.1h0M155.8 158.3h0M157.4 153.5h0M163.1 152.6h0M165.0 150.2h0M168.3 151.0h0M173.1 154.3h0M178.8 159.2h0M180.5 164.9h0M181.3 148.6h0M182.1 133.9h0M182.9 160.0h0M184.5 154.3h0M186.2 146.9h0M187.8 140.4h0M190.2 152.6h0M191.9 159.2h0M192.7 139.6h0M199.2 139.6h0M200.8 153.5h0M202.5 161.6h0M204.1 150.2h0M207.3 151.0h0M208.2 153.5h0M209.8 147.8h0M212.2 147.8h0M213.9 150.2h0M215.5 147.8h0M217.1 153.5h0M219.6 160.0h0M221.2 140.4h0M222.8 138.8h0M224.4 154.3h0" fill="none" stroke="#ff9f47" stroke-width="1.00" stroke-linecap="round"/>
<rect x="31" y="118.5" width="202.5" height="49" fill="none" stroke="#e0e0e0" stroke-width="1"/>
<text x="0" y="0" transform="translate(30,167.45) scale(0.69,1)" text-anchor="end" font-size="8" fill="#333333" stroke="#333333" stroke-width="0.3" font-family='"Liberation Sans", Arial, sans-serif'>20</text>
<text x="0" y="0" transform="translate(30,159.39) scale(0.69,1)" text-anchor="end" font-size="8" fill="#333333" stroke="#333333" stroke-width="0.3" font-family='"Liberation Sans", Arial, sans-serif'>30</text>
<text x="0" y="0" transform="translate(30,151.33) scale(0.69,1)" text-anchor="end" font-size="8" fill="#333333" stroke="#333333" stroke-width="0.3" font-family='"Liberation Sans", Arial, sans-serif'>40</text>
<text x="0" y="0" transform="translate(30,143.27) scale(0.69,1)" text-anchor="end" font-size="8" fill="#333333" stroke="#333333" stroke-width="0.3" font-family='"Liberation Sans", Arial, sans-serif'>50</text>
<text x="0" y="0" transform="translate(30,135.21) scale(0.69,1)" text-anchor="end" font-size="8" fill="#333333" stroke="#333333" stroke-width="0.3" font-family='"Liberation Sans", Arial, sans-serif'>60</text>
<text x="0" y="0" transform="translate(30,127.15) scale(0.69,1)" text-anchor="end" font-size="8" fill="#333333" stroke="#333333" stroke-width="0.3" font-family='"Liberation Sans", Arial, sans-serif'>70</text>
<text x="0" y="0" transform="translate(46.5,174.85) scale(0.69,1)" text-anchor="middle" font-size="8" fill="#333333" stroke="#333333" stroke-width="0.3" font-family='"Liberation Sans", Arial, sans-serif'>1992</text>
<text x="0" y="0" transform="translate(69.54,174.85) scale(0.69,1)" text-anchor="middle" font-size="8" fill="#333333" stroke="#333333" stroke-width="0.3" font-family='"Liberation Sans", Arial, sans-serif'>1996</text>
<text x="0" y="0" transform="translate(92.59,174.85) scale(0.69,1)" text-anchor="middle" font-size="8" fill="#333333" stroke="#333333" stroke-width="0.3" font-family='"Liberation Sans", Arial, sans-serif'>2000</text>
<text x="0" y="0" transform="translate(115.63,174.85) scale(0.69,1)" text-anchor="middle" font-size="8" fill="#333333" stroke="#333333" stroke-width="0.3" font-family='"Liberation Sans", Arial, sans-serif'>2004</text>
<text x="0" y="0" transform="translate(138.67,174.85) scale(0.69,1)" text-anchor="middle" font-size="8" fill="#333333" stroke="#333333" stroke-width="0.3" font-family='"Liberation Sans", Arial, sans-serif'>2008</text>
<text x="0" y="0" transform="translate(161.71,174.85) scale(0.69,1)" text-anchor="middle" font-size="8" fill="#333333" stroke="#333333" stroke-width="0.3" font-family='"Liberation Sans", Arial, sans-serif'>2012</text>
<text x="0" y="0" transform="translate(184.76,174.85) scale(0.69,1)" text-anchor="middle" font-size="8" fill="#333333" stroke="#333333" stroke-width="0.3" font-family='"Liberation Sans", Arial, sans-serif'>2016</text>
<text x="0" y="0" transform="translate(207.8,174.85) scale(0.69,1)" text-anchor="middle" font-size="8" fill="#333333" stroke="#333333" stroke-width="0.3" font-family='"Liberation Sans", Arial, sans-serif'>2020</text>
<text x="0" y="0" transform="translate(230.84,174.85) scale(0.69,1)" text-anchor="middle" font-size="8" fill="#333333" stroke="#333333" stroke-width="0.3" font-family='"Liberation Sans", Arial, sans-serif'>2024</text>
<rect x="92.2" y="104.5" width="76.8" height="13.5" rx="2.2" fill="#c0c0c0"/>
<text x="130.6" y="114.8" text-anchor="middle" font-size="10.6" textLength="28.6" lengthAdjust="spacingAndGlyphs" fill="#050505" stroke="#050505" stroke-width="0.42" font-family='"Liberation Sans", Arial, sans-serif'>EFHM</text>
<text x="9" y="125.3" textLength="10.4" lengthAdjust="spacingAndGlyphs" font-size="7.8" font-weight="bold" fill="#1a1a1a" font-family='"Liberation Sans", Arial, sans-serif'>(%)</text>
<line x1="28" y1="235.1" x2="233.5" y2="235.1" stroke="#f2f2f2" stroke-width="0.8"/>
<line x1="28" y1="226.7" x2="233.5" y2="226.7" stroke="#f2f2f2" stroke-width="0.8"/>
<line x1="28" y1="218.3" x2="233.5" y2="218.3" stroke="#f2f2f2" stroke-width="0.8"/>
<line x1="28" y1="209.9" x2="233.5" y2="209.9" stroke="#f2f2f2" stroke-width="0.8"/>
<line x1="28" y1="201.5" x2="233.5" y2="201.5" stroke="#f2f2f2" stroke-width="0.8"/>
<line x1="43" y1="194.3" x2="43" y2="243.5" stroke="#f2f2f2" stroke-width="0.8"/>
<line x1="66.43" y1="194.3" x2="66.43" y2="243.5" stroke="#f2f2f2" stroke-width="0.8"/>
<line x1="89.86" y1="194.3" x2="89.86" y2="243.5" stroke="#f2f2f2" stroke-width="0.8"/>
<line x1="113.29" y1="194.3" x2="113.29" y2="243.5" stroke="#f2f2f2" stroke-width="0.8"/>
<line x1="136.71" y1="194.3" x2="136.71" y2="243.5" stroke="#f2f2f2" stroke-width="0.8"/>
<line x1="160.14" y1="194.3" x2="160.14" y2="243.5" stroke="#f2f2f2" stroke-width="0.8"/>
<line x1="183.57" y1="194.3" x2="183.57" y2="243.5" stroke="#f2f2f2" stroke-width="0.8"/>
<line x1="207" y1="194.3" x2="207" y2="243.5" stroke="#f2f2f2" stroke-width="0.8"/>
<line x1="230.43" y1="194.3" x2="230.43" y2="243.5" stroke="#f2f2f2" stroke-width="0.8"/>
<polyline points="37.1,234.8 37.6,229.4 38.1,227.3 38.5,227.0 39.0,227.0 39.4,226.1 39.9,225.7 40.5,232.0 41.0,232.6 41.6,238.1 42.1,238.7 42.6,237.4 43.1,232.1 43.6,229.6 44.2,223.8 44.7,223.0 45.0,222.7 45.6,223.1 46.2,226.3 46.8,233.9 47.3,234.2 47.9,233.9 48.3,234.8 48.8,233.6 49.2,231.7 49.6,231.3 50.1,227.9 50.6,222.5 51.1,224.8 51.8,227.3 52.3,228.7 52.9,236.2 53.4,236.1 53.9,240.1 54.2,236.7 54.7,236.2 55.3,231.4 55.7,228.5 56.3,223.1 56.8,225.2 57.3,225.7 57.9,228.0 58.4,233.6 58.8,234.1 59.2,236.0 59.6,239.3 60.1,236.3 60.5,233.6 61.1,227.3 61.4,227.7 61.9,226.2 62.4,222.6 63.0,222.5 63.4,226.3 63.8,228.3 64.2,232.8 64.6,231.7 65.2,235.8 65.6,237.8 66.2,236.7 66.8,230.7 67.4,224.0 67.9,221.7 68.5,223.1 69.0,225.5 69.4,225.9 69.7,228.3 70.2,234.1 70.6,233.0 71.1,239.4 71.6,235.9 72.0,234.7 72.3,233.1 72.7,224.9 73.1,224.9 73.6,221.2 74.2,219.6 74.5,220.4 75.1,227.0 75.7,232.5 76.2,236.8 76.7,235.5 77.1,239.2 77.6,235.8 78.2,226.2 78.6,229.0 79.1,227.3 79.6,221.6 80.1,219.5 80.6,222.3 81.1,227.9 81.6,231.6 82.0,229.4 82.5,235.1 82.9,235.1 83.3,236.1 83.8,231.5 84.3,229.7 84.8,227.3 85.3,215.2 85.8,219.1 86.3,217.2 86.8,224.0 87.2,226.9 87.6,231.1 88.1,235.2 88.7,239.4 89.2,239.6 89.6,236.2 90.2,229.9 90.6,225.3 91.1,222.3 91.6,218.9 92.0,218.6 92.3,223.5 92.9,222.5 93.4,234.3 93.9,235.2 94.4,234.8 95.0,236.5 95.5,235.5 95.9,229.5 96.4,224.2 96.8,220.7 97.2,220.3 97.8,220.8 98.2,217.2 98.7,222.8 99.1,230.0 99.6,236.0 100.0,233.0 100.4,237.1 100.8,234.9 101.3,235.3 101.8,227.5 102.2,225.3 102.6,219.8 103.1,217.7 103.6,219.0 104.0,220.4 104.5,222.8 105.0,225.7 105.6,229.5 106.2,236.6 106.8,233.3 107.3,228.1 107.8,230.9 108.3,224.4 108.9,219.1 109.5,214.9 110.1,222.1 110.6,227.2 111.1,234.0 111.5,236.4 112.0,238.0 112.5,237.4 112.9,237.0 113.4,230.4 114.0,223.0 114.7,219.4 115.2,221.2 115.7,214.8 116.3,226.8 116.6,230.2 117.2,229.7 117.8,235.5 118.2,237.1 118.7,237.1 119.2,229.0 119.7,223.4 120.3,225.6 120.9,222.9 121.4,225.0 121.8,222.0 122.3,229.7 122.8,234.6 123.3,235.9 123.8,240.1 124.4,237.4 125.0,232.2 125.6,225.5 125.9,222.7 126.4,224.8 126.8,220.9 127.3,223.9 127.8,225.8 128.2,229.7 128.6,231.6 129.0,237.4 129.4,234.0 130.0,234.9 130.4,237.2 130.9,233.0 131.4,229.0 131.9,225.0 132.4,219.5 132.8,220.4 133.4,220.8 133.9,225.4 134.4,233.5 134.9,234.4 135.5,240.1 135.9,237.3 136.4,234.0 136.8,225.2 137.3,228.8 137.8,226.7 138.2,220.5 138.7,222.8 139.3,219.8 139.8,225.1 140.3,234.4 140.7,236.0 141.1,235.3 141.7,237.7 142.1,237.4 142.5,232.4 143.1,230.7 143.7,225.9 144.2,222.3 144.6,222.0 145.1,223.9 145.5,227.6 145.9,229.0 146.3,234.0 146.9,231.2 147.5,238.1 148.1,232.2 148.5,235.4 149.0,229.1 149.3,230.1 149.8,222.7 150.4,225.0 151.0,222.2 151.5,229.5 151.9,230.7 152.3,234.6 152.7,236.0 153.3,238.6 153.7,235.0 154.2,231.1 154.7,232.8 155.2,226.4 155.7,226.8 156.1,221.5 156.6,223.3 157.0,227.6 157.4,228.9 158.0,236.6 158.3,234.6 158.8,236.6 159.3,235.3 159.8,238.2 160.4,234.1 161.0,226.6 161.6,222.7 162.1,226.3 162.6,223.9 163.2,231.6 163.6,232.2 164.1,235.7 164.6,235.7 165.1,239.5 165.6,234.1 166.1,231.9 166.6,230.4 167.2,226.0 167.8,227.0 168.2,225.5 168.7,221.7 169.3,232.4 169.8,231.0 170.2,237.6 170.7,236.0 171.2,235.6 171.8,230.9 172.2,234.2 172.6,227.5 173.2,221.0 173.6,223.7 174.2,225.3 174.6,227.2 175.0,228.4 175.5,234.8 176.0,238.2 176.4,240.1 177.0,235.7 177.5,237.3 177.9,230.2 178.4,227.4 178.9,229.1 179.5,224.2 179.9,224.3 180.3,228.4 180.8,231.4 181.4,229.9 181.9,237.5 182.5,240.1 182.8,234.2 183.3,239.8 183.7,234.7 184.2,229.0 184.7,227.4 185.2,221.5 185.7,222.3 186.2,229.5 186.7,231.1 187.1,228.8 187.8,231.0 188.1,236.6 188.6,240.1 189.1,233.8 189.5,231.8 189.9,229.1 190.5,223.4 191.0,226.3 191.4,227.2 191.9,226.6 192.3,228.5 192.9,226.3 193.5,235.7 193.9,237.1 194.4,236.6 194.9,237.9 195.3,234.1 195.8,232.8 196.3,227.3 196.7,223.1 197.3,222.0 197.8,226.5 198.3,225.2 198.9,232.3 199.2,235.6 199.8,237.2 200.1,234.9 200.7,238.2 201.2,231.8 201.6,227.7 202.0,225.1 202.4,224.3 203.0,227.5 203.6,226.0 203.9,228.0 204.3,229.0 204.9,231.9 205.3,235.3 205.7,237.0 206.1,238.8 206.6,233.3 207.2,230.8 207.6,228.6 208.1,224.1 208.5,222.8 208.9,221.1 209.4,224.8 210.0,228.7 210.5,232.5 211.1,234.5 211.5,237.3 212.0,239.7 212.6,228.7 212.9,232.3 213.3,228.2 213.8,226.9 214.3,225.2 214.8,222.5 215.2,223.6 215.6,228.4 216.0,230.2 216.5,234.7 217.1,237.1 217.7,237.1 218.1,240.1 218.5,233.4 219.1,233.1 219.7,224.9 220.0,223.6 220.6,223.0 221.0,225.0 221.4,229.7 221.9,228.6 222.5,233.4 222.9,226.3 223.4,237.8" fill="none" stroke="#b2dbf2" stroke-width="0.55" stroke-linejoin="round"/>
<polyline points="38.1,232.7 40.2,235.2 42.7,223.8 44.3,222.9 50.5,198.8 55.7,216.4 56.0,222.1 59.8,222.9 64.6,222.9 66.8,196.1 67.1,222.9 71.2,227.8 76.9,227.0 79.3,216.4 79.8,236.0 84.2,222.9 88.3,226.2 90.7,202.6 92.8,209.9 94.8,224.6 95.0,218.1 99.1,208.3 101.5,204.2 103.1,220.5 106.4,202.6 109.7,213.2 112.9,219.7 114.5,219.7 117.8,212.4 119.1,200.1 119.4,209.9 120.2,224.6 121.9,226.2 124.3,216.4 125.9,210.7 126.8,218.9 127.6,229.5 130.0,231.1 131.6,222.9 132.5,201.8 135.7,209.9 139.8,216.4 143.9,232.7 147.1,229.5 148.7,228.6 150.4,203.4 151.2,234.3 152.8,236.0 153.6,211.5 154.4,218.1 155.6,224.6 157.7,226.2 162.0,218.9 165.0,216.4 167.7,214.8 171.0,222.1 178.3,222.1 179.1,211.5 179.9,231.1 181.2,227.8 182.4,236.0 183.2,224.6 184.0,197.7 184.8,219.7 186.4,236.0 188.1,229.5 189.7,224.6 191.0,216.4 192.1,234.3 194.6,229.5 197.0,226.2 199.5,227.0 201.9,231.1 202.7,202.6 203.5,239.2 205.2,229.5 206.8,212.4 207.6,226.2 209.2,221.3 212.5,222.9 214.1,231.1 217.4,224.6 219.0,218.1 219.8,223.8 220.6,232.7 222.3,233.5 223.6,218.1 224.2,227.0" fill="none" stroke="#ffc996" stroke-width="0.6" stroke-linejoin="round"/>
<path d="M37.1 234.8h0M37.6 229.4h0M38.1 227.3h0M38.5 227.0h0M39.0 227.0h0M39.4 226.1h0M39.9 225.7h0M40.5 232.0h0M41.0 232.6h0M41.6 238.1h0M42.1 238.7h0M42.6 237.4h0M43.1 232.1h0M43.6 229.6h0M44.2 223.8h0M44.7 223.0h0M45.0 222.7h0M45.6 223.1h0M46.2 226.3h0M46.8 233.9h0M47.3 234.2h0M47.9 233.9h0M48.3 234.8h0M48.8 233.6h0M49.2 231.7h0M49.6 231.3h0M50.1 227.9h0M50.6 222.5h0M51.1 224.8h0M51.8 227.3h0M52.3 228.7h0M52.9 236.2h0M53.4 236.1h0M53.9 240.1h0M54.2 236.7h0M54.7 236.2h0M55.3 231.4h0M55.7 228.5h0M56.3 223.1h0M56.8 225.2h0M57.3 225.7h0M57.9 228.0h0M58.4 233.6h0M58.8 234.1h0M59.2 236.0h0M59.6 239.3h0M60.1 236.3h0M60.5 233.6h0M61.1 227.3h0M61.4 227.7h0M61.9 226.2h0M62.4 222.6h0M63.0 222.5h0M63.4 226.3h0M63.8 228.3h0M64.2 232.8h0M64.6 231.7h0M65.2 235.8h0M65.6 237.8h0M66.2 236.7h0M66.8 230.7h0M67.4 224.0h0M67.9 221.7h0M68.5 223.1h0M69.0 225.5h0M69.4 225.9h0M69.7 228.3h0M70.2 234.1h0M70.6 233.0h0M71.1 239.4h0M71.6 235.9h0M72.0 234.7h0M72.3 233.1h0M72.7 224.9h0M73.1 224.9h0M73.6 221.2h0M74.2 219.6h0M74.5 220.4h0M75.1 227.0h0M75.7 232.5h0M76.2 236.8h0M76.7 235.5h0M77.1 239.2h0M77.6 235.8h0M78.2 226.2h0M78.6 229.0h0M79.1 227.3h0M79.6 221.6h0M80.1 219.5h0M80.6 222.3h0M81.1 227.9h0M81.6 231.6h0M82.0 229.4h0M82.5 235.1h0M82.9 235.1h0M83.3 236.1h0M83.8 231.5h0M84.3 229.7h0M84.8 227.3h0M85.3 215.2h0M85.8 219.1h0M86.3 217.2h0M86.8 224.0h0M87.2 226.9h0M87.6 231.1h0M88.1 235.2h0M88.7 239.4h0M89.2 239.6h0M89.6 236.2h0M90.2 229.9h0M90.6 225.3h0M91.1 222.3h0M91.6 218.9h0M92.0 218.6h0M92.3 223.5h0M92.9 222.5h0M93.4 234.3h0M93.9 235.2h0M94.4 234.8h0M95.0 236.5h0M95.5 235.5h0M95.9 229.5h0M96.4 224.2h0M96.8 220.7h0M97.2 220.3h0M97.8 220.8h0M98.2 217.2h0M98.7 222.8h0M99.1 230.0h0M99.6 236.0h0M100.0 233.0h0M100.4 237.1h0M100.8 234.9h0M101.3 235.3h0M101.8 227.5h0M102.2 225.3h0M102.6 219.8h0M103.1 217.7h0M103.6 219.0h0M104.0 220.4h0M104.5 222.8h0M105.0 225.7h0M105.6 229.5h0M106.2 236.6h0M106.8 233.3h0M107.3 228.1h0M107.8 230.9h0M108.3 224.4h0M108.9 219.1h0M109.5 214.9h0M110.1 222.1h0M110.6 227.2h0M111.1 234.0h0M111.5 236.4h0M112.0 238.0h0M112.5 237.4h0M112.9 237.0h0M113.4 230.4h0M114.0 223.0h0M114.7 219.4h0M115.2 221.2h0M115.7 214.8h0M116.3 226.8h0M116.6 230.2h0M117.2 229.7h0M117.8 235.5h0M118.2 237.1h0M118.7 237.1h0M119.2 229.0h0M119.7 223.4h0M120.3 225.6h0M120.9 222.9h0M121.4 225.0h0M121.8 222.0h0M122.3 229.7h0M122.8 234.6h0M123.3 235.9h0M123.8 240.1h0M124.4 237.4h0M125.0 232.2h0M125.6 225.5h0M125.9 222.7h0M126.4 224.8h0M126.8 220.9h0M127.3 223.9h0M127.8 225.8h0M128.2 229.7h0M128.6 231.6h0M129.0 237.4h0M129.4 234.0h0M130.0 234.9h0M130.4 237.2h0M130.9 233.0h0M131.4 229.0h0M131.9 225.0h0M132.4 219.5h0M132.8 220.4h0M133.4 220.8h0M133.9 225.4h0M134.4 233.5h0M134.9 234.4h0M135.5 240.1h0M135.9 237.3h0M136.4 234.0h0M136.8 225.2h0M137.3 228.8h0M137.8 226.7h0M138.2 220.5h0M138.7 222.8h0M139.3 219.8h0M139.8 225.1h0M140.3 234.4h0M140.7 236.0h0M141.1 235.3h0M141.7 237.7h0M142.1 237.4h0M142.5 232.4h0M143.1 230.7h0M143.7 225.9h0M144.2 222.3h0M144.6 222.0h0M145.1 223.9h0M145.5 227.6h0M145.9 229.0h0M146.3 234.0h0M146.9 231.2h0M147.5 238.1h0M148.1 232.2h0M148.5 235.4h0M149.0 229.1h0M149.3 230.1h0M149.8 222.7h0M150.4 225.0h0M151.0 222.2h0M151.5 229.5h0M151.9 230.7h0M152.3 234.6h0M152.7 236.0h0M153.3 238.6h0M153.7 235.0h0M154.2 231.1h0M154.7 232.8h0M155.2 226.4h0M155.7 226.8h0M156.1 221.5h0M156.6 223.3h0M157.0 227.6h0M157.4 228.9h0M158.0 236.6h0M158.3 234.6h0M158.8 236.6h0M159.3 235.3h0M159.8 238.2h0M160.4 234.1h0M161.0 226.6h0M161.6 222.7h0M162.1 226.3h0M162.6 223.9h0M163.2 231.6h0M163.6 232.2h0M164.1 235.7h0M164.6 235.7h0M165.1 239.5h0M165.6 234.1h0M166.1 231.9h0M166.6 230.4h0M167.2 226.0h0M167.8 227.0h0M168.2 225.5h0M168.7 221.7h0M169.3 232.4h0M169.8 231.0h0M170.2 237.6h0M170.7 236.0h0M171.2 235.6h0M171.8 230.9h0M172.2 234.2h0M172.6 227.5h0M173.2 221.0h0M173.6 223.7h0M174.2 225.3h0M174.6 227.2h0M175.0 228.4h0M175.5 234.8h0M176.0 238.2h0M176.4 240.1h0M177.0 235.7h0M177.5 237.3h0M177.9 230.2h0M178.4 227.4h0M178.9 229.1h0M179.5 224.2h0M179.9 224.3h0M180.3 228.4h0M180.8 231.4h0M181.4 229.9h0M181.9 237.5h0M182.5 240.1h0M182.8 234.2h0M183.3 239.8h0M183.7 234.7h0M184.2 229.0h0M184.7 227.4h0M185.2 221.5h0M185.7 222.3h0M186.2 229.5h0M186.7 231.1h0M187.1 228.8h0M187.8 231.0h0M188.1 236.6h0M188.6 240.1h0M189.1 233.8h0M189.5 231.8h0M189.9 229.1h0M190.5 223.4h0M191.0 226.3h0M191.4 227.2h0M191.9 226.6h0M192.3 228.5h0M192.9 226.3h0M193.5 235.7h0M193.9 237.1h0M194.4 236.6h0M194.9 237.9h0M195.3 234.1h0M195.8 232.8h0M196.3 227.3h0M196.7 223.1h0M197.3 222.0h0M197.8 226.5h0M198.3 225.2h0M198.9 232.3h0M199.2 235.6h0M199.8 237.2h0M200.1 234.9h0M200.7 238.2h0M201.2 231.8h0M201.6 227.7h0M202.0 225.1h0M202.4 224.3h0M203.0 227.5h0M203.6 226.0h0M203.9 228.0h0M204.3 229.0h0M204.9 231.9h0M205.3 235.3h0M205.7 237.0h0M206.1 238.8h0M206.6 233.3h0M207.2 230.8h0M207.6 228.6h0M208.1 224.1h0M208.5 222.8h0M208.9 221.1h0M209.4 224.8h0M210.0 228.7h0M210.5 232.5h0M211.1 234.5h0M211.5 237.3h0M212.0 239.7h0M212.6 228.7h0M212.9 232.3h0M213.3 228.2h0M213.8 226.9h0M214.3 225.2h0M214.8 222.5h0M215.2 223.6h0M215.6 228.4h0M216.0 230.2h0M216.5 234.7h0M217.1 237.1h0M217.7 237.1h0M218.1 240.1h0M218.5 233.4h0M219.1 233.1h0M219.7 224.9h0M220.0 223.6h0M220.6 223.0h0M221.0 225.0h0M221.4 229.7h0M221.9 228.6h0M222.5 233.4h0M222.9 226.3h0M223.4 237.8h0" fill="none" stroke="#3f9dd6" stroke-width="1.20" stroke-linecap="round"/>
<path d="M38.1 232.7h0M40.2 235.2h0M42.7 223.8h0M44.3 222.9h0M50.5 198.8h0M55.7 216.4h0M56.0 222.1h0M59.8 222.9h0M64.6 222.9h0M66.8 196.1h0M67.1 222.9h0M71.2 227.8h0M76.9 227.0h0M79.3 216.4h0M79.8 236.0h0M84.2 222.9h0M88.3 226.2h0M90.7 202.6h0M92.8 209.9h0M94.8 224.6h0M95.0 218.1h0M99.1 208.3h0M101.5 204.2h0M103.1 220.5h0M106.4 202.6h0M109.7 213.2h0M112.9 219.7h0M114.5 219.7h0M117.8 212.4h0M119.1 200.1h0M119.4 209.9h0M120.2 224.6h0M121.9 226.2h0M124.3 216.4h0M125.9 210.7h0M126.8 218.9h0M127.6 229.5h0M130.0 231.1h0M131.6 222.9h0M132.5 201.8h0M135.7 209.9h0M139.8 216.4h0M143.9 232.7h0M147.1 229.5h0M148.7 228.6h0M150.4 203.4h0M151.2 234.3h0M152.8 236.0h0M153.6 211.5h0M154.4 218.1h0M155.6 224.6h0M157.7 226.2h0M162.0 218.9h0M165.0 216.4h0M167.7 214.8h0M171.0 222.1h0M178.3 222.1h0M179.1 211.5h0M179.9 231.1h0M181.2 227.8h0M182.4 236.0h0M183.2 224.6h0M184.0 197.7h0M184.8 219.7h0M186.4 236.0h0M188.1 229.5h0M189.7 224.6h0M191.0 216.4h0M192.1 234.3h0M194.6 229.5h0M197.0 226.2h0M199.5 227.0h0M201.9 231.1h0M202.7 202.6h0M203.5 239.2h0M205.2 229.5h0M206.8 212.4h0M207.6 226.2h0M209.2 221.3h0M212.5 222.9h0M214.1 231.1h0M217.4 224.6h0M219.0 218.1h0M219.8 223.8h0M220.6 232.7h0M222.3 233.5h0M223.6 218.1h0M224.2 227.0h0" fill="none" stroke="#ff9f47" stroke-width="1.00" stroke-linecap="round"/>
<rect x="28" y="194.3" width="205.5" height="49.2" fill="none" stroke="#e0e0e0" stroke-width="1"/>
<text x="0" y="0" transform="translate(27,246.35) scale(0.69,1)" text-anchor="end" font-size="8" fill="#333333" stroke="#333333" stroke-width="0.3" font-family='"Liberation Sans", Arial, sans-serif'>1</text>
<text x="0" y="0" transform="translate(27,237.95) scale(0.69,1)" text-anchor="end" font-size="8" fill="#333333" stroke="#333333" stroke-width="0.3" font-family='"Liberation Sans", Arial, sans-serif'>2</text>
<text x="0" y="0" transform="translate(27,229.55) scale(0.69,1)" text-anchor="end" font-size="8" fill="#333333" stroke="#333333" stroke-width="0.3" font-family='"Liberation Sans", Arial, sans-serif'>3</text>
<text x="0" y="0" transform="translate(27,221.15) scale(0.69,1)" text-anchor="end" font-size="8" fill="#333333" stroke="#333333" stroke-width="0.3" font-family='"Liberation Sans", Arial, sans-serif'>4</text>
<text x="0" y="0" transform="translate(27,212.75) scale(0.69,1)" text-anchor="end" font-size="8" fill="#333333" stroke="#333333" stroke-width="0.3" font-family='"Liberation Sans", Arial, sans-serif'>5</text>
<text x="0" y="0" transform="translate(27,204.35) scale(0.69,1)" text-anchor="end" font-size="8" fill="#333333" stroke="#333333" stroke-width="0.3" font-family='"Liberation Sans", Arial, sans-serif'>6</text>
<text x="0" y="0" transform="translate(43,250.85) scale(0.69,1)" text-anchor="middle" font-size="8" fill="#333333" stroke="#333333" stroke-width="0.3" font-family='"Liberation Sans", Arial, sans-serif'>1992</text>
<text x="0" y="0" transform="translate(66.43,250.85) scale(0.69,1)" text-anchor="middle" font-size="8" fill="#333333" stroke="#333333" stroke-width="0.3" font-family='"Liberation Sans", Arial, sans-serif'>1996</text>
<text x="0" y="0" transform="translate(89.86,250.85) scale(0.69,1)" text-anchor="middle" font-size="8" fill="#333333" stroke="#333333" stroke-width="0.3" font-family='"Liberation Sans", Arial, sans-serif'>2000</text>
<text x="0" y="0" transform="translate(113.29,250.85) scale(0.69,1)" text-anchor="middle" font-size="8" fill="#333333" stroke="#333333" stroke-width="0.3" font-family='"Liberation Sans", Arial, sans-serif'>2004</text>
<text x="0" y="0" transform="translate(136.71,250.85) scale(0.69,1)" text-anchor="middle" font-size="8" fill="#333333" stroke="#333333" stroke-width="0.3" font-family='"Liberation Sans", Arial, sans-serif'>2008</text>
<text x="0" y="0" transform="translate(160.14,250.85) scale(0.69,1)" text-anchor="middle" font-size="8" fill="#333333" stroke="#333333" stroke-width="0.3" font-family='"Liberation Sans", Arial, sans-serif'>2012</text>
<text x="0" y="0" transform="translate(183.57,250.85) scale(0.69,1)" text-anchor="middle" font-size="8" fill="#333333" stroke="#333333" stroke-width="0.3" font-family='"Liberation Sans", Arial, sans-serif'>2016</text>
<text x="0" y="0" transform="translate(207,250.85) scale(0.69,1)" text-anchor="middle" font-size="8" fill="#333333" stroke="#333333" stroke-width="0.3" font-family='"Liberation Sans", Arial, sans-serif'>2020</text>
<text x="0" y="0" transform="translate(230.43,250.85) scale(0.69,1)" text-anchor="middle" font-size="8" fill="#333333" stroke="#333333" stroke-width="0.3" font-family='"Liberation Sans", Arial, sans-serif'>2024</text>
<rect x="91" y="178.2" width="77.5" height="13.3" rx="2.2" fill="#c0c0c0"/>
<text x="129.75" y="188.3" text-anchor="middle" font-size="10.6" textLength="17.2" lengthAdjust="spacingAndGlyphs" fill="#050505" stroke="#050505" stroke-width="0.42" font-family='"Liberation Sans", Arial, sans-serif'>WS</text>
<text x="5" y="203.3" textLength="17.5" lengthAdjust="spacingAndGlyphs" font-size="7.8" font-weight="bold" fill="#1a1a1a" font-family='"Liberation Sans", Arial, sans-serif'>(m/s)</text>
<line x1="30" y1="318.5" x2="233.5" y2="318.5" stroke="#f2f2f2" stroke-width="0.8"/>
<line x1="30" y1="313.06" x2="233.5" y2="313.06" stroke="#f2f2f2" stroke-width="0.8"/>
<line x1="30" y1="307.62" x2="233.5" y2="307.62" stroke="#f2f2f2" stroke-width="0.8"/>
<line x1="30" y1="302.19" x2="233.5" y2="302.19" stroke="#f2f2f2" stroke-width="0.8"/>
<line x1="30" y1="296.75" x2="233.5" y2="296.75" stroke="#f2f2f2" stroke-width="0.8"/>
<line x1="30" y1="291.31" x2="233.5" y2="291.31" stroke="#f2f2f2" stroke-width="0.8"/>
<line x1="30" y1="285.88" x2="233.5" y2="285.88" stroke="#f2f2f2" stroke-width="0.8"/>
<line x1="30" y1="280.44" x2="233.5" y2="280.44" stroke="#f2f2f2" stroke-width="0.8"/>
<line x1="30" y1="275" x2="233.5" y2="275" stroke="#f2f2f2" stroke-width="0.8"/>
<line x1="46" y1="273.5" x2="46" y2="321" stroke="#f2f2f2" stroke-width="0.8"/>
<line x1="69.11" y1="273.5" x2="69.11" y2="321" stroke="#f2f2f2" stroke-width="0.8"/>
<line x1="92.23" y1="273.5" x2="92.23" y2="321" stroke="#f2f2f2" stroke-width="0.8"/>
<line x1="115.34" y1="273.5" x2="115.34" y2="321" stroke="#f2f2f2" stroke-width="0.8"/>
<line x1="138.46" y1="273.5" x2="138.46" y2="321" stroke="#f2f2f2" stroke-width="0.8"/>
<line x1="161.57" y1="273.5" x2="161.57" y2="321" stroke="#f2f2f2" stroke-width="0.8"/>
<line x1="184.69" y1="273.5" x2="184.69" y2="321" stroke="#f2f2f2" stroke-width="0.8"/>
<line x1="207.8" y1="273.5" x2="207.8" y2="321" stroke="#f2f2f2" stroke-width="0.8"/>
<line x1="230.91" y1="273.5" x2="230.91" y2="321" stroke="#f2f2f2" stroke-width="0.8"/>
<polyline points="40.2,316.6 40.7,310.7 41.1,311.6 41.6,313.6 42.1,312.1 42.5,312.8 43.1,315.1 43.5,317.6 43.9,314.8 44.3,314.2 44.8,311.3 45.0,298.5 45.5,311.9 45.9,315.5 46.5,312.7 47.0,315.5 47.4,313.7 47.9,316.8 48.5,313.0 49.0,312.9 49.6,311.8 50.0,309.2 50.4,314.9 50.9,315.1 51.4,313.2 51.8,313.4 52.3,314.9 52.8,314.0 53.4,314.5 53.9,316.2 54.3,315.2 54.7,314.5 55.2,314.7 55.8,313.7 56.1,308.3 56.9,310.9 57.4,314.0 57.9,314.2 58.4,315.6 59.0,311.8 59.6,315.5 60.0,309.3 60.5,311.6 61.0,313.0 61.3,310.2 61.9,316.3 62.4,313.0 62.7,311.6 63.2,316.0 63.8,313.6 64.3,311.3 64.8,314.2 65.2,317.1 65.6,311.3 66.2,315.5 66.5,314.1 66.9,315.5 67.3,315.2 67.9,311.0 68.4,313.3 68.8,308.6 69.1,304.2 69.7,314.5 70.2,312.1 70.5,311.2 70.9,317.4 71.5,317.7 71.9,314.9 72.5,312.9 72.9,312.8 73.5,317.8 73.9,311.0 74.5,318.4 75.0,312.0 75.4,311.4 76.0,313.2 76.4,314.7 77.0,315.7 77.5,313.7 77.9,313.0 78.2,313.9 78.7,313.8 79.3,318.2 79.9,306.7 80.4,316.7 80.8,308.2 81.3,312.3 81.8,316.4 82.3,314.3 82.7,315.1 83.3,311.7 83.8,316.5 84.4,312.0 84.8,315.5 85.3,318.0 85.8,311.6 86.2,288.7 86.8,316.3 87.2,309.0 87.8,317.6 88.3,315.0 88.7,315.3 89.2,318.1 89.7,314.5 90.3,310.1 90.7,316.2 91.1,318.4 91.9,301.0 92.2,314.2 92.6,311.4 93.1,312.3 93.5,312.2 93.9,317.8 94.5,315.0 94.9,316.7 95.4,313.6 95.8,314.2 96.2,318.4 96.6,317.0 97.2,309.7 97.5,316.1 98.0,314.4 98.4,314.8 99.0,312.0 99.6,308.5 100.0,315.0 100.6,312.3 100.9,313.8 101.5,313.7 102.1,315.6 102.5,309.9 103.1,317.8 103.6,318.4 104.0,312.2 104.4,317.2 105.0,312.3 105.4,313.9 105.9,314.6 106.4,312.5 106.8,313.8 107.4,312.5 108.0,308.7 108.4,296.1 109.0,313.6 109.5,314.8 109.9,315.4 110.4,312.8 110.7,315.8 111.2,312.4 111.6,310.4 112.0,315.2 112.5,316.6 113.0,316.7 113.4,313.9 113.9,315.7 114.5,315.6 115.2,296.1 115.5,313.4 115.9,317.3 116.2,312.5 116.7,314.1 117.1,311.1 117.7,314.1 118.1,313.4 118.6,315.9 119.1,316.0 119.4,311.1 120.0,318.5 120.4,316.3 120.7,309.3 121.1,315.0 121.6,311.8 122.0,313.5 122.6,314.4 123.2,314.5 123.5,316.5 123.9,308.3 124.4,313.6 124.8,314.2 125.4,311.5 126.0,300.9 126.2,311.2 126.7,318.2 127.2,318.0 127.5,310.5 128.1,315.7 128.7,315.3 129.1,311.4 129.7,315.0 130.0,313.5 130.5,315.4 131.0,312.8 131.6,311.2 132.1,315.1 132.6,312.9 132.9,317.0 133.4,315.5 133.9,313.5 134.4,311.9 134.8,314.9 135.2,313.4 135.6,312.7 136.2,310.6 136.8,317.1 137.3,314.8 137.7,300.1 138.3,315.4 138.7,315.0 139.3,313.9 139.9,315.1 140.5,310.3 141.0,315.6 141.5,310.9 141.9,312.4 142.3,310.8 142.8,316.4 143.4,315.9 143.8,316.9 144.2,293.6 144.8,315.1 145.3,314.3 145.8,310.2 146.4,312.7 146.9,314.2 147.4,315.6 147.8,316.6 148.3,318.5 148.7,315.2 149.3,309.4 149.9,309.6 150.5,311.8 150.9,318.0 151.3,314.0 151.8,315.0 152.2,317.2 152.8,316.8 153.1,314.6 153.5,311.7 154.0,309.7 154.6,309.5 155.1,314.8 155.6,302.6 156.1,314.0 156.5,315.9 156.9,313.4 157.4,318.0 158.0,313.1 158.4,315.4 158.9,312.4 159.4,315.3 159.8,311.5 160.3,310.6 160.7,314.2 161.1,313.9 161.8,308.3 162.0,315.2 162.5,313.9 163.1,312.4 163.7,313.0 164.0,314.7 164.6,317.2 165.1,316.6 165.6,312.5 166.1,318.0 166.4,313.6 166.9,307.2 167.3,313.3 167.7,315.7 168.2,316.4 168.7,316.2 169.3,314.2 169.8,318.4 170.3,314.8 170.6,316.3 171.1,314.9 171.7,316.3 172.1,311.4 172.5,311.1 173.1,316.9 173.6,314.4 174.0,316.3 174.4,315.6 175.0,315.6 175.4,315.1 176.0,311.2 176.6,315.6 177.2,314.6 177.5,314.8 177.9,317.4 178.3,314.3 178.7,299.3 179.2,314.2 179.6,311.4 180.2,313.8 180.7,316.9 181.3,312.1 181.8,308.7 182.2,315.0 182.6,316.5 183.1,311.9 183.5,312.9 184.0,312.6 184.4,291.2 184.8,312.6 185.3,315.6 185.8,313.1 186.3,313.6 186.7,315.2 187.1,314.2 187.5,313.7 188.0,315.5 188.5,316.8 189.0,314.1 189.5,317.1 190.0,307.4 190.5,314.1 190.9,312.5 191.3,311.5 191.7,313.1 192.2,313.0 192.8,315.5 193.4,311.8 193.9,313.6 194.4,314.5 194.8,311.4 195.3,318.2 195.8,294.4 196.1,312.2 196.6,310.8 197.2,317.0 197.6,314.3 198.2,297.7 198.7,314.0 199.1,315.2 199.6,309.3 200.2,310.9 200.8,313.9 201.2,313.0 201.5,305.0 202.1,315.0 202.6,309.4 203.1,315.6 203.5,313.7 203.9,310.6 204.4,315.9 204.9,311.6 205.4,314.2 205.9,309.2 206.3,313.5 206.7,315.0 207.2,315.5 207.7,316.9 208.1,314.6 208.6,311.0 209.2,318.3 209.6,307.9 210.0,311.5 210.4,315.5 211.0,312.5 211.5,312.3 212.0,314.1 212.5,290.4 213.1,312.3 213.7,314.6 214.2,316.2 214.6,314.1 215.2,313.5 215.8,309.4 216.2,315.5 216.7,311.6 217.1,318.0 217.5,313.5 218.1,314.7 218.7,312.0 219.1,315.0 219.4,299.3 220.0,316.3 220.5,313.8 221.0,318.4 221.4,314.8 222.0,316.0 222.5,310.7 222.9,312.7 223.3,314.5 223.8,318.0 224.6,299.3" fill="none" stroke="#b2dbf2" stroke-width="0.55" stroke-linejoin="round"/>
<polyline points="40.6,309.9 42.2,302.6 44.7,298.5 46.3,312.3 47.9,314.0 51.2,312.7 54.4,312.0 56.9,313.2 59.3,310.7 61.8,314.0 64.2,309.1 65.5,302.6 66.6,314.0 69.1,310.7 69.6,287.1 70.4,310.7 72.3,314.0 75.6,309.1 78.9,296.9 80.5,302.6 82.1,309.1 84.6,314.0 87.0,296.9 88.6,307.5 91.1,309.1 91.9,296.9 92.7,302.6 94.3,312.3 96.0,309.1 97.0,304.2 98.6,309.1 99.4,315.6 101.1,313.2 103.5,312.3 104.3,288.7 105.1,312.3 106.8,311.5 108.4,300.1 110.0,301.8 114.9,305.0 116.2,293.6 117.4,309.1 119.0,314.0 121.4,305.0 123.1,309.9 126.3,299.3 127.9,302.6 129.6,312.3 132.8,309.1 134.5,310.7 139.3,307.5 144.2,305.0 145.9,312.3 149.1,298.5 150.7,302.6 153.2,311.5 155.6,286.3 156.4,302.6 158.1,309.1 160.5,310.7 163.8,314.0 167.3,313.2 172.1,310.7 175.4,300.1 178.7,276.5 180.3,312.3 181.1,292.8 181.9,307.5 183.2,309.1 184.4,274.9 185.2,307.5 186.8,295.2 188.4,310.7 190.1,305.8 191.7,309.1 192.5,303.4 193.3,313.2 196.6,314.0 201.5,314.8 203.9,313.2 207.2,303.4 208.8,318.0 209.6,311.5 212.9,307.5 213.7,292.0 216.1,313.2 217.7,310.7 219.4,283.8 220.2,307.5 221.3,287.9 222.6,313.2 224.3,314.0" fill="none" stroke="#ffc996" stroke-width="0.6" stroke-linejoin="round"/>
<path d="M40.2 316.6h0M40.7 310.7h0M41.1 311.6h0M41.6 313.6h0M42.1 312.1h0M42.5 312.8h0M43.1 315.1h0M43.5 317.6h0M43.9 314.8h0M44.3 314.2h0M44.8 311.3h0M45.0 298.5h0M45.5 311.9h0M45.9 315.5h0M46.5 312.7h0M47.0 315.5h0M47.4 313.7h0M47.9 316.8h0M48.5 313.0h0M49.0 312.9h0M49.6 311.8h0M50.0 309.2h0M50.4 314.9h0M50.9 315.1h0M51.4 313.2h0M51.8 313.4h0M52.3 314.9h0M52.8 314.0h0M53.4 314.5h0M53.9 316.2h0M54.3 315.2h0M54.7 314.5h0M55.2 314.7h0M55.8 313.7h0M56.1 308.3h0M56.9 310.9h0M57.4 314.0h0M57.9 314.2h0M58.4 315.6h0M59.0 311.8h0M59.6 315.5h0M60.0 309.3h0M60.5 311.6h0M61.0 313.0h0M61.3 310.2h0M61.9 316.3h0M62.4 313.0h0M62.7 311.6h0M63.2 316.0h0M63.8 313.6h0M64.3 311.3h0M64.8 314.2h0M65.2 317.1h0M65.6 311.3h0M66.2 315.5h0M66.5 314.1h0M66.9 315.5h0M67.3 315.2h0M67.9 311.0h0M68.4 313.3h0M68.8 308.6h0M69.1 304.2h0M69.7 314.5h0M70.2 312.1h0M70.5 311.2h0M70.9 317.4h0M71.5 317.7h0M71.9 314.9h0M72.5 312.9h0M72.9 312.8h0M73.5 317.8h0M73.9 311.0h0M74.5 318.4h0M75.0 312.0h0M75.4 311.4h0M76.0 313.2h0M76.4 314.7h0M77.0 315.7h0M77.5 313.7h0M77.9 313.0h0M78.2 313.9h0M78.7 313.8h0M79.3 318.2h0M79.9 306.7h0M80.4 316.7h0M80.8 308.2h0M81.3 312.3h0M81.8 316.4h0M82.3 314.3h0M82.7 315.1h0M83.3 311.7h0M83.8 316.5h0M84.4 312.0h0M84.8 315.5h0M85.3 318.0h0M85.8 311.6h0M86.2 288.7h0M86.8 316.3h0M87.2 309.0h0M87.8 317.6h0M88.3 315.0h0M88.7 315.3h0M89.2 318.1h0M89.7 314.5h0M90.3 310.1h0M90.7 316.2h0M91.1 318.4h0M91.9 301.0h0M92.2 314.2h0M92.6 311.4h0M93.1 312.3h0M93.5 312.2h0M93.9 317.8h0M94.5 315.0h0M94.9 316.7h0M95.4 313.6h0M95.8 314.2h0M96.2 318.4h0M96.6 317.0h0M97.2 309.7h0M97.5 316.1h0M98.0 314.4h0M98.4 314.8h0M99.0 312.0h0M99.6 308.5h0M100.0 315.0h0M100.6 312.3h0M100.9 313.8h0M101.5 313.7h0M102.1 315.6h0M102.5 309.9h0M103.1 317.8h0M103.6 318.4h0M104.0 312.2h0M104.4 317.2h0M105.0 312.3h0M105.4 313.9h0M105.9 314.6h0M106.4 312.5h0M106.8 313.8h0M107.4 312.5h0M108.0 308.7h0M108.4 296.1h0M109.0 313.6h0M109.5 314.8h0M109.9 315.4h0M110.4 312.8h0M110.7 315.8h0M111.2 312.4h0M111.6 310.4h0M112.0 315.2h0M112.5 316.6h0M113.0 316.7h0M113.4 313.9h0M113.9 315.7h0M114.5 315.6h0M115.2 296.1h0M115.5 313.4h0M115.9 317.3h0M116.2 312.5h0M116.7 314.1h0M117.1 311.1h0M117.7 314.1h0M118.1 313.4h0M118.6 315.9h0M119.1 316.0h0M119.4 311.1h0M120.0 318.5h0M120.4 316.3h0M120.7 309.3h0M121.1 315.0h0M121.6 311.8h0M122.0 313.5h0M122.6 314.4h0M123.2 314.5h0M123.5 316.5h0M123.9 308.3h0M124.4 313.6h0M124.8 314.2h0M125.4 311.5h0M126.0 300.9h0M126.2 311.2h0M126.7 318.2h0M127.2 318.0h0M127.5 310.5h0M128.1 315.7h0M128.7 315.3h0M129.1 311.4h0M129.7 315.0h0M130.0 313.5h0M130.5 315.4h0M131.0 312.8h0M131.6 311.2h0M132.1 315.1h0M132.6 312.9h0M132.9 317.0h0M133.4 315.5h0M133.9 313.5h0M134.4 311.9h0M134.8 314.9h0M135.2 313.4h0M135.6 312.7h0M136.2 310.6h0M136.8 317.1h0M137.3 314.8h0M137.7 300.1h0M138.3 315.4h0M138.7 315.0h0M139.3 313.9h0M139.9 315.1h0M140.5 310.3h0M141.0 315.6h0M141.5 310.9h0M141.9 312.4h0M142.3 310.8h0M142.8 316.4h0M143.4 315.9h0M143.8 316.9h0M144.2 293.6h0M144.8 315.1h0M145.3 314.3h0M145.8 310.2h0M146.4 312.7h0M146.9 314.2h0M147.4 315.6h0M147.8 316.6h0M148.3 318.5h0M148.7 315.2h0M149.3 309.4h0M149.9 309.6h0M150.5 311.8h0M150.9 318.0h0M151.3 314.0h0M151.8 315.0h0M152.2 317.2h0M152.8 316.8h0M153.1 314.6h0M153.5 311.7h0M154.0 309.7h0M154.6 309.5h0M155.1 314.8h0M155.6 302.6h0M156.1 314.0h0M156.5 315.9h0M156.9 313.4h0M157.4 318.0h0M158.0 313.1h0M158.4 315.4h0M158.9 312.4h0M159.4 315.3h0M159.8 311.5h0M160.3 310.6h0M160.7 314.2h0M161.1 313.9h0M161.8 308.3h0M162.0 315.2h0M162.5 313.9h0M163.1 312.4h0M163.7 313.0h0M164.0 314.7h0M164.6 317.2h0M165.1 316.6h0M165.6 312.5h0M166.1 318.0h0M166.4 313.6h0M166.9 307.2h0M167.3 313.3h0M167.7 315.7h0M168.2 316.4h0M168.7 316.2h0M169.3 314.2h0M169.8 318.4h0M170.3 314.8h0M170.6 316.3h0M171.1 314.9h0M171.7 316.3h0M172.1 311.4h0M172.5 311.1h0M173.1 316.9h0M173.6 314.4h0M174.0 316.3h0M174.4 315.6h0M175.0 315.6h0M175.4 315.1h0M176.0 311.2h0M176.6 315.6h0M177.2 314.6h0M177.5 314.8h0M177.9 317.4h0M178.3 314.3h0M178.7 299.3h0M179.2 314.2h0M179.6 311.4h0M180.2 313.8h0M180.7 316.9h0M181.3 312.1h0M181.8 308.7h0M182.2 315.0h0M182.6 316.5h0M183.1 311.9h0M183.5 312.9h0M184.0 312.6h0M184.4 291.2h0M184.8 312.6h0M185.3 315.6h0M185.8 313.1h0M186.3 313.6h0M186.7 315.2h0M187.1 314.2h0M187.5 313.7h0M188.0 315.5h0M188.5 316.8h0M189.0 314.1h0M189.5 317.1h0M190.0 307.4h0M190.5 314.1h0M190.9 312.5h0M191.3 311.5h0M191.7 313.1h0M192.2 313.0h0M192.8 315.5h0M193.4 311.8h0M193.9 313.6h0M194.4 314.5h0M194.8 311.4h0M195.3 318.2h0M195.8 294.4h0M196.1 312.2h0M196.6 310.8h0M197.2 317.0h0M197.6 314.3h0M198.2 297.7h0M198.7 314.0h0M199.1 315.2h0M199.6 309.3h0M200.2 310.9h0M200.8 313.9h0M201.2 313.0h0M201.5 305.0h0M202.1 315.0h0M202.6 309.4h0M203.1 315.6h0M203.5 313.7h0M203.9 310.6h0M204.4 315.9h0M204.9 311.6h0M205.4 314.2h0M205.9 309.2h0M206.3 313.5h0M206.7 315.0h0M207.2 315.5h0M207.7 316.9h0M208.1 314.6h0M208.6 311.0h0M209.2 318.3h0M209.6 307.9h0M210.0 311.5h0M210.4 315.5h0M211.0 312.5h0M211.5 312.3h0M212.0 314.1h0M212.5 290.4h0M213.1 312.3h0M213.7 314.6h0M214.2 316.2h0M214.6 314.1h0M215.2 313.5h0M215.8 309.4h0M216.2 315.5h0M216.7 311.6h0M217.1 318.0h0M217.5 313.5h0M218.1 314.7h0M218.7 312.0h0M219.1 315.0h0M219.4 299.3h0M220.0 316.3h0M220.5 313.8h0M221.0 318.4h0M221.4 314.8h0M222.0 316.0h0M222.5 310.7h0M222.9 312.7h0M223.3 314.5h0M223.8 318.0h0M224.6 299.3h0" fill="none" stroke="#3f9dd6" stroke-width="1.20" stroke-linecap="round"/>
<path d="M40.6 309.9h0M42.2 302.6h0M44.7 298.5h0M46.3 312.3h0M47.9 314.0h0M51.2 312.7h0M54.4 312.0h0M56.9 313.2h0M59.3 310.7h0M61.8 314.0h0M64.2 309.1h0M65.5 302.6h0M66.6 314.0h0M69.1 310.7h0M69.6 287.1h0M70.4 310.7h0M72.3 314.0h0M75.6 309.1h0M78.9 296.9h0M80.5 302.6h0M82.1 309.1h0M84.6 314.0h0M87.0 296.9h0M88.6 307.5h0M91.1 309.1h0M91.9 296.9h0M92.7 302.6h0M94.3 312.3h0M96.0 309.1h0M97.0 304.2h0M98.6 309.1h0M99.4 315.6h0M101.1 313.2h0M103.5 312.3h0M104.3 288.7h0M105.1 312.3h0M106.8 311.5h0M108.4 300.1h0M110.0 301.8h0M114.9 305.0h0M116.2 293.6h0M117.4 309.1h0M119.0 314.0h0M121.4 305.0h0M123.1 309.9h0M126.3 299.3h0M127.9 302.6h0M129.6 312.3h0M132.8 309.1h0M134.5 310.7h0M139.3 307.5h0M144.2 305.0h0M145.9 312.3h0M149.1 298.5h0M150.7 302.6h0M153.2 311.5h0M155.6 286.3h0M156.4 302.6h0M158.1 309.1h0M160.5 310.7h0M163.8 314.0h0M167.3 313.2h0M172.1 310.7h0M175.4 300.1h0M178.7 276.5h0M180.3 312.3h0M181.1 292.8h0M181.9 307.5h0M183.2 309.1h0M184.4 274.9h0M185.2 307.5h0M186.8 295.2h0M188.4 310.7h0M190.1 305.8h0M191.7 309.1h0M192.5 303.4h0M193.3 313.2h0M196.6 314.0h0M201.5 314.8h0M203.9 313.2h0M207.2 303.4h0M208.8 318.0h0M209.6 311.5h0M212.9 307.5h0M213.7 292.0h0M216.1 313.2h0M217.7 310.7h0M219.4 283.8h0M220.2 307.5h0M221.3 287.9h0M222.6 313.2h0M224.3 314.0h0" fill="none" stroke="#ff9f47" stroke-width="1.00" stroke-linecap="round"/>
<rect x="30" y="273.5" width="203.5" height="47.5" fill="none" stroke="#e0e0e0" stroke-width="1"/>
<text x="0" y="0" transform="translate(29,321.35) scale(0.69,1)" text-anchor="end" font-size="8" fill="#333333" stroke="#333333" stroke-width="0.3" font-family='"Liberation Sans", Arial, sans-serif'>0</text>
<text x="0" y="0" transform="translate(29,315.91) scale(0.69,1)" text-anchor="end" font-size="8" fill="#333333" stroke="#333333" stroke-width="0.3" font-family='"Liberation Sans", Arial, sans-serif'>5</text>
<text x="0" y="0" transform="translate(29,310.48) scale(0.69,1)" text-anchor="end" font-size="8" fill="#333333" stroke="#333333" stroke-width="0.3" font-family='"Liberation Sans", Arial, sans-serif'>10</text>
<text x="0" y="0" transform="translate(29,305.04) scale(0.69,1)" text-anchor="end" font-size="8" fill="#333333" stroke="#333333" stroke-width="0.3" font-family='"Liberation Sans", Arial, sans-serif'>15</text>
<text x="0" y="0" transform="translate(29,299.6) scale(0.69,1)" text-anchor="end" font-size="8" fill="#333333" stroke="#333333" stroke-width="0.3" font-family='"Liberation Sans", Arial, sans-serif'>20</text>
<text x="0" y="0" transform="translate(29,294.16) scale(0.69,1)" text-anchor="end" font-size="8" fill="#333333" stroke="#333333" stroke-width="0.3" font-family='"Liberation Sans", Arial, sans-serif'>25</text>
<text x="0" y="0" transform="translate(29,288.73) scale(0.69,1)" text-anchor="end" font-size="8" fill="#333333" stroke="#333333" stroke-width="0.3" font-family='"Liberation Sans", Arial, sans-serif'>30</text>
<text x="0" y="0" transform="translate(29,283.29) scale(0.69,1)" text-anchor="end" font-size="8" fill="#333333" stroke="#333333" stroke-width="0.3" font-family='"Liberation Sans", Arial, sans-serif'>35</text>
<text x="0" y="0" transform="translate(29,277.85) scale(0.69,1)" text-anchor="end" font-size="8" fill="#333333" stroke="#333333" stroke-width="0.3" font-family='"Liberation Sans", Arial, sans-serif'>40</text>
<text x="0" y="0" transform="translate(46,327.85) scale(0.69,1)" text-anchor="middle" font-size="8" fill="#333333" stroke="#333333" stroke-width="0.3" font-family='"Liberation Sans", Arial, sans-serif'>1992</text>
<text x="0" y="0" transform="translate(69.11,327.85) scale(0.69,1)" text-anchor="middle" font-size="8" fill="#333333" stroke="#333333" stroke-width="0.3" font-family='"Liberation Sans", Arial, sans-serif'>1996</text>
<text x="0" y="0" transform="translate(92.23,327.85) scale(0.69,1)" text-anchor="middle" font-size="8" fill="#333333" stroke="#333333" stroke-width="0.3" font-family='"Liberation Sans", Arial, sans-serif'>2000</text>
<text x="0" y="0" transform="translate(115.34,327.85) scale(0.69,1)" text-anchor="middle" font-size="8" fill="#333333" stroke="#333333" stroke-width="0.3" font-family='"Liberation Sans", Arial, sans-serif'>2004</text>
<text x="0" y="0" transform="translate(138.46,327.85) scale(0.69,1)" text-anchor="middle" font-size="8" fill="#333333" stroke="#333333" stroke-width="0.3" font-family='"Liberation Sans", Arial, sans-serif'>2008</text>
<text x="0" y="0" transform="translate(161.57,327.85) scale(0.69,1)" text-anchor="middle" font-size="8" fill="#333333" stroke="#333333" stroke-width="0.3" font-family='"Liberation Sans", Arial, sans-serif'>2012</text>
<text x="0" y="0" transform="translate(184.69,327.85) scale(0.69,1)" text-anchor="middle" font-size="8" fill="#333333" stroke="#333333" stroke-width="0.3" font-family='"Liberation Sans", Arial, sans-serif'>2016</text>
<text x="0" y="0" transform="translate(207.8,327.85) scale(0.69,1)" text-anchor="middle" font-size="8" fill="#333333" stroke="#333333" stroke-width="0.3" font-family='"Liberation Sans", Arial, sans-serif'>2020</text>
<text x="0" y="0" transform="translate(230.91,327.85) scale(0.69,1)" text-anchor="middle" font-size="8" fill="#333333" stroke="#333333" stroke-width="0.3" font-family='"Liberation Sans", Arial, sans-serif'>2024</text>
<rect x="91.2" y="255" width="77.8" height="13.5" rx="2.2" fill="#c0c0c0"/>
<text x="130.1" y="265.3" text-anchor="middle" font-size="10.6" textLength="64.2" lengthAdjust="spacingAndGlyphs" fill="#050505" stroke="#050505" stroke-width="0.42" font-family='"Liberation Sans", Arial, sans-serif'>N_PCP_DAYS</text>
<text x="3" y="276.8" textLength="18.5" lengthAdjust="spacingAndGlyphs" font-size="7.8" font-weight="bold" fill="#1a1a1a" font-family='"Liberation Sans", Arial, sans-serif'>(days)</text>
<line x1="339.8" y1="90.5" x2="542.8" y2="90.5" stroke="#f2f2f2" stroke-width="0.8"/>
<line x1="339.8" y1="84.64" x2="542.8" y2="84.64" stroke="#f2f2f2" stroke-width="0.8"/>
<line x1="339.8" y1="78.79" x2="542.8" y2="78.79" stroke="#f2f2f2" stroke-width="0.8"/>
<line x1="339.8" y1="72.93" x2="542.8" y2="72.93" stroke="#f2f2f2" stroke-width="0.8"/>
<line x1="339.8" y1="67.07" x2="542.8" y2="67.07" stroke="#f2f2f2" stroke-width="0.8"/>
<line x1="339.8" y1="61.21" x2="542.8" y2="61.21" stroke="#f2f2f2" stroke-width="0.8"/>
<line x1="339.8" y1="55.36" x2="542.8" y2="55.36" stroke="#f2f2f2" stroke-width="0.8"/>
<line x1="339.8" y1="49.5" x2="542.8" y2="49.5" stroke="#f2f2f2" stroke-width="0.8"/>
<line x1="355" y1="44.5" x2="355" y2="93.5" stroke="#f2f2f2" stroke-width="0.8"/>
<line x1="378.07" y1="44.5" x2="378.07" y2="93.5" stroke="#f2f2f2" stroke-width="0.8"/>
<line x1="401.14" y1="44.5" x2="401.14" y2="93.5" stroke="#f2f2f2" stroke-width="0.8"/>
<line x1="424.21" y1="44.5" x2="424.21" y2="93.5" stroke="#f2f2f2" stroke-width="0.8"/>
<line x1="447.29" y1="44.5" x2="447.29" y2="93.5" stroke="#f2f2f2" stroke-width="0.8"/>
<line x1="470.36" y1="44.5" x2="470.36" y2="93.5" stroke="#f2f2f2" stroke-width="0.8"/>
<line x1="493.43" y1="44.5" x2="493.43" y2="93.5" stroke="#f2f2f2" stroke-width="0.8"/>
<line x1="516.5" y1="44.5" x2="516.5" y2="93.5" stroke="#f2f2f2" stroke-width="0.8"/>
<line x1="539.57" y1="44.5" x2="539.57" y2="93.5" stroke="#f2f2f2" stroke-width="0.8"/>
<polyline points="349.2,60.1 349.7,68.8 350.3,65.5 350.8,70.8 351.4,64.6 351.9,72.1 352.2,61.6 352.7,59.0 353.0,65.9 353.5,68.0 353.9,63.6 354.2,71.4 354.8,65.3 355.2,73.7 355.6,76.6 356.0,66.1 356.5,74.8 356.9,70.2 357.5,75.8 357.9,67.1 358.2,85.2 359.0,69.2 359.4,71.8 359.8,62.6 360.2,58.2 360.7,62.2 361.2,66.8 361.8,82.4 362.3,68.9 362.9,61.0 363.6,81.9 364.0,68.6 364.6,63.3 365.2,71.6 365.6,62.0 366.1,81.4 366.6,65.0 367.1,70.8 367.6,57.6 368.1,74.2 368.4,65.9 369.0,63.2 369.6,60.8 370.1,66.9 370.5,68.6 370.9,60.0 371.3,78.6 371.8,55.0 372.6,74.8 373.2,64.9 373.6,73.2 374.1,71.5 374.6,70.2 375.0,67.8 375.5,74.5 376.0,65.5 376.6,72.9 377.0,80.0 377.6,59.2 378.0,64.5 378.6,54.5 379.1,73.9 379.6,69.0 380.0,63.2 380.7,81.1 381.1,67.7 381.6,69.5 382.0,74.6 382.6,71.8 383.1,62.9 383.4,61.7 383.9,58.6 384.5,69.1 384.9,64.5 385.3,89.2 385.9,71.8 386.4,61.9 386.9,67.9 387.4,58.6 388.0,54.2 388.5,60.7 388.9,77.0 389.5,73.1 390.0,65.1 390.6,62.5 391.2,65.3 391.6,71.2 392.1,69.8 392.5,67.1 392.9,64.0 393.5,58.2 394.1,62.5 394.6,69.3 395.2,74.1 395.6,63.0 396.1,69.3 396.5,78.7 396.9,66.1 397.5,58.7 398.0,70.6 398.5,79.1 399.1,64.8 399.5,73.1 400.0,74.2 400.3,53.4 401.1,67.4 401.6,70.0 402.0,73.1 402.4,71.8 403.0,62.5 403.5,61.4 403.8,63.0 404.3,74.4 404.6,68.3 405.1,70.7 405.6,70.9 406.0,61.7 406.5,77.7 407.0,62.9 407.4,59.9 407.7,62.5 408.3,69.1 408.8,64.7 409.2,66.3 409.6,72.1 410.2,67.1 410.7,63.0 411.2,69.5 411.7,60.8 412.2,73.7 412.7,70.9 413.2,51.0 413.6,67.2 414.0,70.4 414.6,71.5 415.2,80.8 415.5,59.9 415.9,73.6 416.3,67.6 416.7,73.9 417.1,68.3 417.5,71.0 418.1,58.0 418.6,62.6 419.1,64.3 419.6,69.0 420.0,65.5 420.5,60.7 421.1,68.4 421.5,70.2 421.9,75.1 422.5,68.7 423.3,90.9 423.6,68.1 424.1,71.8 424.6,80.9 425.2,60.1 425.8,70.9 426.3,69.6 426.6,65.2 427.2,60.2 427.7,69.6 428.3,69.6 429.0,58.3 429.3,71.1 429.8,65.5 430.4,69.5 431.0,64.3 431.5,65.9 432.1,60.9 432.5,65.4 432.9,68.6 433.4,64.0 433.8,67.0 434.2,72.2 434.8,62.4 435.2,67.0 435.7,65.9 436.0,52.6 436.6,71.4 437.2,67.5 437.6,61.2 438.1,65.4 438.5,74.1 438.8,82.7 439.6,63.1 440.1,67.3 440.6,72.3 441.1,57.7 441.5,67.4 442.0,56.7 442.3,70.2 442.7,71.3 443.2,65.3 443.6,70.2 444.2,70.4 444.6,71.9 445.1,73.6 445.4,64.7 446.1,84.3 446.5,57.6 446.9,71.9 447.3,56.9 447.7,52.6 448.2,77.8 448.6,64.9 448.9,58.8 449.4,61.6 450.0,65.6 450.5,59.0 451.0,71.9 451.6,66.7 452.2,64.7 452.7,67.4 453.1,63.8 453.7,64.2 454.1,62.0 454.5,75.3 455.0,67.7 455.5,69.3 456.1,77.4 456.5,62.0 456.9,67.3 457.4,57.9 458.0,69.2 458.3,91.7 458.9,84.1 459.3,61.0 459.9,69.3 460.3,67.9 460.8,75.5 461.2,60.6 461.7,69.4 462.3,71.7 462.8,63.5 463.3,73.2 463.8,68.1 464.2,79.9 464.8,70.0 465.2,65.2 465.7,66.2 466.4,79.5 466.7,69.8 467.2,72.0 467.6,68.7 468.2,63.0 468.5,63.4 469.0,80.4 469.5,68.1 470.0,73.5 470.6,64.4 470.9,68.6 471.5,68.7 472.0,65.3 472.5,80.2 473.1,54.8 473.7,71.7 474.2,66.1 474.8,70.8 475.2,60.9 475.5,69.5 476.1,75.3 476.6,70.0 477.0,58.8 477.4,67.4 477.8,65.8 478.2,69.8 478.6,65.1 479.2,71.8 479.7,84.6 480.2,71.4 480.6,69.6 480.9,59.1 481.3,66.0 481.8,68.3 482.5,81.1 482.8,69.1 483.2,64.8 483.7,53.0 484.1,61.2 484.6,63.2 485.0,67.8 485.5,74.7 485.9,69.4 486.3,71.8 486.6,63.9 487.2,69.8 487.7,58.2 488.3,71.3 488.7,65.1 489.2,65.9 489.5,55.0 490.0,71.6 490.5,78.9 490.9,68.2 491.4,57.7 491.8,71.6 492.2,71.2 492.8,66.8 493.2,90.0 493.6,71.2 494.1,74.4 494.5,64.5 494.9,68.3 495.4,72.5 495.8,65.2 496.3,72.0 496.7,66.2 497.1,69.6 497.7,65.8 498.1,64.8 498.5,66.2 499.1,68.6 499.5,66.0 499.9,64.5 500.4,70.7 500.8,64.0 501.2,63.3 501.7,61.1 502.2,72.6 502.7,63.8 503.1,73.5 503.7,75.2 504.2,76.2 504.9,54.2 505.3,90.0 505.7,74.7 506.1,80.9 506.6,65.1 507.2,68.9 507.6,68.4 507.9,69.1 508.2,85.2 508.7,57.5 509.1,66.2 509.5,55.9 510.1,74.0 510.5,75.3 510.8,67.5 511.4,66.4 511.8,64.4 512.3,53.4 512.7,70.5 513.1,58.0 513.6,66.6 513.9,73.1 514.4,64.2 514.9,65.7 515.4,70.1 515.9,67.8 516.4,63.4 516.9,66.9 517.4,69.4 517.8,70.0 518.2,69.0 518.7,80.2 519.2,59.6 519.6,70.5 520.0,64.6 520.5,69.2 521.1,74.6 521.6,68.0 522.1,63.4 522.9,54.2 523.2,67.7 523.7,65.7 524.2,60.5 524.8,65.0 525.3,76.7 525.8,68.6 526.3,70.2 526.7,62.0 527.3,68.8 527.7,75.1 528.1,60.0 528.6,51.8 528.8,64.2 529.3,62.2 529.8,72.0 530.2,69.9 530.6,72.2 531.2,70.7 531.6,58.3 532.1,73.6 533.4,51.8" fill="none" stroke="#b2dbf2" stroke-width="0.55" stroke-linejoin="round"/>
<polyline points="349.3,50.4 350.5,49.6 351.7,49.8 352.9,49.7 354.2,49.1 355.0,50.1 355.8,50.4 357.0,49.4 358.2,49.3 359.9,49.7 361.5,48.8 362.7,49.7 363.9,50.4 364.8,51.1 365.6,51.9 366.4,50.6 367.2,49.8 367.6,49.6 368.0,48.4 368.4,49.9 368.8,51.9 369.6,51.5 370.4,51.2 371.3,50.3 372.1,50.4 372.9,52.1 373.7,52.4 374.1,51.5 374.5,51.9 374.9,52.6 375.3,52.4 376.2,52.0 377.0,52.4 377.8,52.1 378.6,51.9 379.4,51.0 380.2,51.2 381.5,52.0 382.7,51.9 383.9,52.1 385.1,51.9 386.3,52.2 387.5,51.2 388.0,51.1 388.4,51.9 389.2,51.8 390.0,51.9 390.7,52.6 391.3,52.4 391.9,52.9 392.4,52.4 393.7,52.8 394.9,51.9 396.2,50.9 397.4,49.1 398.6,49.7 399.9,50.4 400.7,51.5 401.5,52.4 402.3,50.1 403.1,48.4 403.9,50.1 404.7,50.4 405.5,49.6 406.4,49.8 407.3,48.0 408.2,47.7 409.0,48.4 409.9,49.8 410.7,49.0 411.5,49.1 412.3,49.2 413.1,50.4 414.7,50.7 416.4,49.8 417.6,50.2 418.8,50.4 420.0,50.7 421.3,49.8 422.9,48.6 424.5,48.4 425.3,49.4 426.1,50.4 427.3,50.7 428.6,49.8 429.8,49.5 431.0,49.1 432.2,49.3 433.5,50.4 434.7,50.0 435.9,49.8 436.3,50.0 436.7,49.1 437.6,49.8 438.4,51.9 438.8,52.8 439.2,52.4 440.0,50.9 440.8,50.4 441.6,48.4 442.4,47.7 443.7,47.7 444.9,48.4 446.1,48.1 447.3,49.1 448.6,49.7 449.8,50.4 451.0,51.6 452.2,51.9 453.9,51.6 455.5,51.2 456.7,50.4 457.9,50.4 458.7,50.4 459.5,51.2 460.4,50.6 461.2,49.8 462.0,49.4 462.8,50.4 463.6,50.5 464.4,49.1 465.2,49.4 466.0,49.8 467.3,50.8 468.5,50.4 470.1,51.4 471.7,51.9 472.7,51.4 473.6,52.4 474.8,53.0 476.0,52.4 477.3,51.4 478.6,51.9 480.2,50.5 481.8,50.4 483.4,49.8 485.1,49.8 486.3,50.4 487.5,49.8 488.3,48.8 489.2,47.7 489.6,48.4 490.0,49.8 490.8,50.0 491.6,49.1 492.4,50.4 493.2,51.2 494.0,51.1 494.9,49.8 495.7,50.3 496.5,51.9 497.3,50.9 498.1,51.2 498.9,49.8 499.8,49.8 500.2,48.7 500.6,48.4 501.0,50.0 501.4,51.9 502.2,52.8 503.0,52.4 503.8,52.5 504.6,52.4 505.4,51.4 506.3,51.2 507.1,50.4 507.9,50.4 508.7,50.8 509.5,49.8 510.7,50.2 512.0,49.1 512.4,51.4 512.8,52.4 513.6,51.5 514.4,51.9 515.2,52.5 516.0,51.9 516.4,52.3 516.9,52.4 517.7,52.5 518.5,52.4 519.7,51.6 520.9,51.9 521.8,52.1 522.6,51.2 523.8,51.2 525.0,50.4 526.2,50.0 527.4,50.4 528.7,50.7 529.9,49.8 530.3,51.6 530.7,52.4 531.5,53.2 532.3,52.4 532.7,51.5 533.1,51.9" fill="none" stroke="#ffc996" stroke-width="0.6" stroke-linejoin="round"/>
<path d="M349.2 60.1h0M349.7 68.8h0M350.3 65.5h0M350.8 70.8h0M351.4 64.6h0M351.9 72.1h0M352.2 61.6h0M352.7 59.0h0M353.0 65.9h0M353.5 68.0h0M353.9 63.6h0M354.2 71.4h0M354.8 65.3h0M355.2 73.7h0M355.6 76.6h0M356.0 66.1h0M356.5 74.8h0M356.9 70.2h0M357.5 75.8h0M357.9 67.1h0M358.2 85.2h0M359.0 69.2h0M359.4 71.8h0M359.8 62.6h0M360.2 58.2h0M360.7 62.2h0M361.2 66.8h0M361.8 82.4h0M362.3 68.9h0M362.9 61.0h0M363.6 81.9h0M364.0 68.6h0M364.6 63.3h0M365.2 71.6h0M365.6 62.0h0M366.1 81.4h0M366.6 65.0h0M367.1 70.8h0M367.6 57.6h0M368.1 74.2h0M368.4 65.9h0M369.0 63.2h0M369.6 60.8h0M370.1 66.9h0M370.5 68.6h0M370.9 60.0h0M371.3 78.6h0M371.8 55.0h0M372.6 74.8h0M373.2 64.9h0M373.6 73.2h0M374.1 71.5h0M374.6 70.2h0M375.0 67.8h0M375.5 74.5h0M376.0 65.5h0M376.6 72.9h0M377.0 80.0h0M377.6 59.2h0M378.0 64.5h0M378.6 54.5h0M379.1 73.9h0M379.6 69.0h0M380.0 63.2h0M380.7 81.1h0M381.1 67.7h0M381.6 69.5h0M382.0 74.6h0M382.6 71.8h0M383.1 62.9h0M383.4 61.7h0M383.9 58.6h0M384.5 69.1h0M384.9 64.5h0M385.3 89.2h0M385.9 71.8h0M386.4 61.9h0M386.9 67.9h0M387.4 58.6h0M388.0 54.2h0M388.5 60.7h0M388.9 77.0h0M389.5 73.1h0M390.0 65.1h0M390.6 62.5h0M391.2 65.3h0M391.6 71.2h0M392.1 69.8h0M392.5 67.1h0M392.9 64.0h0M393.5 58.2h0M394.1 62.5h0M394.6 69.3h0M395.2 74.1h0M395.6 63.0h0M396.1 69.3h0M396.5 78.7h0M396.9 66.1h0M397.5 58.7h0M398.0 70.6h0M398.5 79.1h0M399.1 64.8h0M399.5 73.1h0M400.0 74.2h0M400.3 53.4h0M401.1 67.4h0M401.6 70.0h0M402.0 73.1h0M402.4 71.8h0M403.0 62.5h0M403.5 61.4h0M403.8 63.0h0M404.3 74.4h0M404.6 68.3h0M405.1 70.7h0M405.6 70.9h0M406.0 61.7h0M406.5 77.7h0M407.0 62.9h0M407.4 59.9h0M407.7 62.5h0M408.3 69.1h0M408.8 64.7h0M409.2 66.3h0M409.6 72.1h0M410.2 67.1h0M410.7 63.0h0M411.2 69.5h0M411.7 60.8h0M412.2 73.7h0M412.7 70.9h0M413.2 51.0h0M413.6 67.2h0M414.0 70.4h0M414.6 71.5h0M415.2 80.8h0M415.5 59.9h0M415.9 73.6h0M416.3 67.6h0M416.7 73.9h0M417.1 68.3h0M417.5 71.0h0M418.1 58.0h0M418.6 62.6h0M419.1 64.3h0M419.6 69.0h0M420.0 65.5h0M420.5 60.7h0M421.1 68.4h0M421.5 70.2h0M421.9 75.1h0M422.5 68.7h0M423.3 90.9h0M423.6 68.1h0M424.1 71.8h0M424.6 80.9h0M425.2 60.1h0M425.8 70.9h0M426.3 69.6h0M426.6 65.2h0M427.2 60.2h0M427.7 69.6h0M428.3 69.6h0M429.0 58.3h0M429.3 71.1h0M429.8 65.5h0M430.4 69.5h0M431.0 64.3h0M431.5 65.9h0M432.1 60.9h0M432.5 65.4h0M432.9 68.6h0M433.4 64.0h0M433.8 67.0h0M434.2 72.2h0M434.8 62.4h0M435.2 67.0h0M435.7 65.9h0M436.0 52.6h0M436.6 71.4h0M437.2 67.5h0M437.6 61.2h0M438.1 65.4h0M438.5 74.1h0M438.8 82.7h0M439.6 63.1h0M440.1 67.3h0M440.6 72.3h0M441.1 57.7h0M441.5 67.4h0M442.0 56.7h0M442.3 70.2h0M442.7 71.3h0M443.2 65.3h0M443.6 70.2h0M444.2 70.4h0M444.6 71.9h0M445.1 73.6h0M445.4 64.7h0M446.1 84.3h0M446.5 57.6h0M446.9 71.9h0M447.3 56.9h0M447.7 52.6h0M448.2 77.8h0M448.6 64.9h0M448.9 58.8h0M449.4 61.6h0M450.0 65.6h0M450.5 59.0h0M451.0 71.9h0M451.6 66.7h0M452.2 64.7h0M452.7 67.4h0M453.1 63.8h0M453.7 64.2h0M454.1 62.0h0M454.5 75.3h0M455.0 67.7h0M455.5 69.3h0M456.1 77.4h0M456.5 62.0h0M456.9 67.3h0M457.4 57.9h0M458.0 69.2h0M458.3 91.7h0M458.9 84.1h0M459.3 61.0h0M459.9 69.3h0M460.3 67.9h0M460.8 75.5h0M461.2 60.6h0M461.7 69.4h0M462.3 71.7h0M462.8 63.5h0M463.3 73.2h0M463.8 68.1h0M464.2 79.9h0M464.8 70.0h0M465.2 65.2h0M465.7 66.2h0M466.4 79.5h0M466.7 69.8h0M467.2 72.0h0M467.6 68.7h0M468.2 63.0h0M468.5 63.4h0M469.0 80.4h0M469.5 68.1h0M470.0 73.5h0M470.6 64.4h0M470.9 68.6h0M471.5 68.7h0M472.0 65.3h0M472.5 80.2h0M473.1 54.8h0M473.7 71.7h0M474.2 66.1h0M474.8 70.8h0M475.2 60.9h0M475.5 69.5h0M476.1 75.3h0M476.6 70.0h0M477.0 58.8h0M477.4 67.4h0M477.8 65.8h0M478.2 69.8h0M478.6 65.1h0M479.2 71.8h0M479.7 84.6h0M480.2 71.4h0M480.6 69.6h0M480.9 59.1h0M481.3 66.0h0M481.8 68.3h0M482.5 81.1h0M482.8 69.1h0M483.2 64.8h0M483.7 53.0h0M484.1 61.2h0M484.6 63.2h0M485.0 67.8h0M485.5 74.7h0M485.9 69.4h0M486.3 71.8h0M486.6 63.9h0M487.2 69.8h0M487.7 58.2h0M488.3 71.3h0M488.7 65.1h0M489.2 65.9h0M489.5 55.0h0M490.0 71.6h0M490.5 78.9h0M490.9 68.2h0M491.4 57.7h0M491.8 71.6h0M492.2 71.2h0M492.8 66.8h0M493.2 90.0h0M493.6 71.2h0M494.1 74.4h0M494.5 64.5h0M494.9 68.3h0M495.4 72.5h0M495.8 65.2h0M496.3 72.0h0M496.7 66.2h0M497.1 69.6h0M497.7 65.8h0M498.1 64.8h0M498.5 66.2h0M499.1 68.6h0M499.5 66.0h0M499.9 64.5h0M500.4 70.7h0M500.8 64.0h0M501.2 63.3h0M501.7 61.1h0M502.2 72.6h0M502.7 63.8h0M503.1 73.5h0M503.7 75.2h0M504.2 76.2h0M504.9 54.2h0M505.3 90.0h0M505.7 74.7h0M506.1 80.9h0M506.6 65.1h0M507.2 68.9h0M507.6 68.4h0M507.9 69.1h0M508.2 85.2h0M508.7 57.5h0M509.1 66.2h0M509.5 55.9h0M510.1 74.0h0M510.5 75.3h0M510.8 67.5h0M511.4 66.4h0M511.8 64.4h0M512.3 53.4h0M512.7 70.5h0M513.1 58.0h0M513.6 66.6h0M513.9 73.1h0M514.4 64.2h0M514.9 65.7h0M515.4 70.1h0M515.9 67.8h0M516.4 63.4h0M516.9 66.9h0M517.4 69.4h0M517.8 70.0h0M518.2 69.0h0M518.7 80.2h0M519.2 59.6h0M519.6 70.5h0M520.0 64.6h0M520.5 69.2h0M521.1 74.6h0M521.6 68.0h0M522.1 63.4h0M522.9 54.2h0M523.2 67.7h0M523.7 65.7h0M524.2 60.5h0M524.8 65.0h0M525.3 76.7h0M525.8 68.6h0M526.3 70.2h0M526.7 62.0h0M527.3 68.8h0M527.7 75.1h0M528.1 60.0h0M528.6 51.8h0M528.8 64.2h0M529.3 62.2h0M529.8 72.0h0M530.2 69.9h0M530.6 72.2h0M531.2 70.7h0M531.6 58.3h0M532.1 73.6h0M533.4 51.8h0" fill="none" stroke="#3f9dd6" stroke-width="1.20" stroke-linecap="round"/>
<path d="M349.3 50.4h0M350.5 49.6h0M351.7 49.8h0M352.9 49.7h0M354.2 49.1h0M355.0 50.1h0M355.8 50.4h0M357.0 49.4h0M358.2 49.3h0M359.9 49.7h0M361.5 48.8h0M362.7 49.7h0M363.9 50.4h0M364.8 51.1h0M365.6 51.9h0M366.4 50.6h0M367.2 49.8h0M367.6 49.6h0M368.0 48.4h0M368.4 49.9h0M368.8 51.9h0M369.6 51.5h0M370.4 51.2h0M371.3 50.3h0M372.1 50.4h0M372.9 52.1h0M373.7 52.4h0M374.1 51.5h0M374.5 51.9h0M374.9 52.6h0M375.3 52.4h0M376.2 52.0h0M377.0 52.4h0M377.8 52.1h0M378.6 51.9h0M379.4 51.0h0M380.2 51.2h0M381.5 52.0h0M382.7 51.9h0M383.9 52.1h0M385.1 51.9h0M386.3 52.2h0M387.5 51.2h0M388.0 51.1h0M388.4 51.9h0M389.2 51.8h0M390.0 51.9h0M390.7 52.6h0M391.3 52.4h0M391.9 52.9h0M392.4 52.4h0M393.7 52.8h0M394.9 51.9h0M396.2 50.9h0M397.4 49.1h0M398.6 49.7h0M399.9 50.4h0M400.7 51.5h0M401.5 52.4h0M402.3 50.1h0M403.1 48.4h0M403.9 50.1h0M404.7 50.4h0M405.5 49.6h0M406.4 49.8h0M407.3 48.0h0M408.2 47.7h0M409.0 48.4h0M409.9 49.8h0M410.7 49.0h0M411.5 49.1h0M412.3 49.2h0M413.1 50.4h0M414.7 50.7h0M416.4 49.8h0M417.6 50.2h0M418.8 50.4h0M420.0 50.7h0M421.3 49.8h0M422.9 48.6h0M424.5 48.4h0M425.3 49.4h0M426.1 50.4h0M427.3 50.7h0M428.6 49.8h0M429.8 49.5h0M431.0 49.1h0M432.2 49.3h0M433.5 50.4h0M434.7 50.0h0M435.9 49.8h0M436.3 50.0h0M436.7 49.1h0M437.6 49.8h0M438.4 51.9h0M438.8 52.8h0M439.2 52.4h0M440.0 50.9h0M440.8 50.4h0M441.6 48.4h0M442.4 47.7h0M443.7 47.7h0M444.9 48.4h0M446.1 48.1h0M447.3 49.1h0M448.6 49.7h0M449.8 50.4h0M451.0 51.6h0M452.2 51.9h0M453.9 51.6h0M455.5 51.2h0M456.7 50.4h0M457.9 50.4h0M458.7 50.4h0M459.5 51.2h0M460.4 50.6h0M461.2 49.8h0M462.0 49.4h0M462.8 50.4h0M463.6 50.5h0M464.4 49.1h0M465.2 49.4h0M466.0 49.8h0M467.3 50.8h0M468.5 50.4h0M470.1 51.4h0M471.7 51.9h0M472.7 51.4h0M473.6 52.4h0M474.8 53.0h0M476.0 52.4h0M477.3 51.4h0M478.6 51.9h0M480.2 50.5h0M481.8 50.4h0M483.4 49.8h0M485.1 49.8h0M486.3 50.4h0M487.5 49.8h0M488.3 48.8h0M489.2 47.7h0M489.6 48.4h0M490.0 49.8h0M490.8 50.0h0M491.6 49.1h0M492.4 50.4h0M493.2 51.2h0M494.0 51.1h0M494.9 49.8h0M495.7 50.3h0M496.5 51.9h0M497.3 50.9h0M498.1 51.2h0M498.9 49.8h0M499.8 49.8h0M500.2 48.7h0M500.6 48.4h0M501.0 50.0h0M501.4 51.9h0M502.2 52.8h0M503.0 52.4h0M503.8 52.5h0M504.6 52.4h0M505.4 51.4h0M506.3 51.2h0M507.1 50.4h0M507.9 50.4h0M508.7 50.8h0M509.5 49.8h0M510.7 50.2h0M512.0 49.1h0M512.4 51.4h0M512.8 52.4h0M513.6 51.5h0M514.4 51.9h0M515.2 52.5h0M516.0 51.9h0M516.4 52.3h0M516.9 52.4h0M517.7 52.5h0M518.5 52.4h0M519.7 51.6h0M520.9 51.9h0M521.8 52.1h0M522.6 51.2h0M523.8 51.2h0M525.0 50.4h0M526.2 50.0h0M527.4 50.4h0M528.7 50.7h0M529.9 49.8h0M530.3 51.6h0M530.7 52.4h0M531.5 53.2h0M532.3 52.4h0M532.7 51.5h0M533.1 51.9h0" fill="none" stroke="#ff9f47" stroke-width="1.00" stroke-linecap="round"/>
<rect x="339.8" y="44.5" width="203" height="49" fill="none" stroke="#e0e0e0" stroke-width="1"/>
<text x="0" y="0" transform="translate(338.8,93.35) scale(0.69,1)" text-anchor="end" font-size="8" fill="#333333" stroke="#333333" stroke-width="0.3" font-family='"Liberation Sans", Arial, sans-serif'>20</text>
<text x="0" y="0" transform="translate(338.8,87.49) scale(0.69,1)" text-anchor="end" font-size="8" fill="#333333" stroke="#333333" stroke-width="0.3" font-family='"Liberation Sans", Arial, sans-serif'>30</text>
<text x="0" y="0" transform="translate(338.8,81.64) scale(0.69,1)" text-anchor="end" font-size="8" fill="#333333" stroke="#333333" stroke-width="0.3" font-family='"Liberation Sans", Arial, sans-serif'>40</text>
<text x="0" y="0" transform="translate(338.8,75.78) scale(0.69,1)" text-anchor="end" font-size="8" fill="#333333" stroke="#333333" stroke-width="0.3" font-family='"Liberation Sans", Arial, sans-serif'>50</text>
<text x="0" y="0" transform="translate(338.8,69.92) scale(0.69,1)" text-anchor="end" font-size="8" fill="#333333" stroke="#333333" stroke-width="0.3" font-family='"Liberation Sans", Arial, sans-serif'>60</text>
<text x="0" y="0" transform="translate(338.8,64.06) scale(0.69,1)" text-anchor="end" font-size="8" fill="#333333" stroke="#333333" stroke-width="0.3" font-family='"Liberation Sans", Arial, sans-serif'>70</text>
<text x="0" y="0" transform="translate(338.8,58.21) scale(0.69,1)" text-anchor="end" font-size="8" fill="#333333" stroke="#333333" stroke-width="0.3" font-family='"Liberation Sans", Arial, sans-serif'>80</text>
<text x="0" y="0" transform="translate(338.8,52.35) scale(0.69,1)" text-anchor="end" font-size="8" fill="#333333" stroke="#333333" stroke-width="0.3" font-family='"Liberation Sans", Arial, sans-serif'>90</text>
<text x="0" y="0" transform="translate(355,100.65) scale(0.69,1)" text-anchor="middle" font-size="8" fill="#333333" stroke="#333333" stroke-width="0.3" font-family='"Liberation Sans", Arial, sans-serif'>1992</text>
<text x="0" y="0" transform="translate(378.07,100.65) scale(0.69,1)" text-anchor="middle" font-size="8" fill="#333333" stroke="#333333" stroke-width="0.3" font-family='"Liberation Sans", Arial, sans-serif'>1996</text>
<text x="0" y="0" transform="translate(401.14,100.65) scale(0.69,1)" text-anchor="middle" font-size="8" fill="#333333" stroke="#333333" stroke-width="0.3" font-family='"Liberation Sans", Arial, sans-serif'>2000</text>
<text x="0" y="0" transform="translate(424.21,100.65) scale(0.69,1)" text-anchor="middle" font-size="8" fill="#333333" stroke="#333333" stroke-width="0.3" font-family='"Liberation Sans", Arial, sans-serif'>2004</text>
<text x="0" y="0" transform="translate(447.29,100.65) scale(0.69,1)" text-anchor="middle" font-size="8" fill="#333333" stroke="#333333" stroke-width="0.3" font-family='"Liberation Sans", Arial, sans-serif'>2008</text>
<text x="0" y="0" transform="translate(470.36,100.65) scale(0.69,1)" text-anchor="middle" font-size="8" fill="#333333" stroke="#333333" stroke-width="0.3" font-family='"Liberation Sans", Arial, sans-serif'>2012</text>
<text x="0" y="0" transform="translate(493.43,100.65) scale(0.69,1)" text-anchor="middle" font-size="8" fill="#333333" stroke="#333333" stroke-width="0.3" font-family='"Liberation Sans", Arial, sans-serif'>2016</text>
<text x="0" y="0" transform="translate(516.5,100.65) scale(0.69,1)" text-anchor="middle" font-size="8" fill="#333333" stroke="#333333" stroke-width="0.3" font-family='"Liberation Sans", Arial, sans-serif'>2020</text>
<text x="0" y="0" transform="translate(539.57,100.65) scale(0.69,1)" text-anchor="middle" font-size="8" fill="#333333" stroke="#333333" stroke-width="0.3" font-family='"Liberation Sans", Arial, sans-serif'>2024</text>
<rect x="403" y="27.5" width="76" height="13" rx="2.2" fill="#c0c0c0"/>
<text x="441" y="37.3" text-anchor="middle" font-size="10.6" textLength="28.4" lengthAdjust="spacingAndGlyphs" fill="#050505" stroke="#050505" stroke-width="0.42" font-family='"Liberation Sans", Arial, sans-serif'>FFMC</text>
<line x1="340" y1="166" x2="542.5" y2="166" stroke="#f2f2f2" stroke-width="0.8"/>
<line x1="340" y1="157.8" x2="542.5" y2="157.8" stroke="#f2f2f2" stroke-width="0.8"/>
<line x1="340" y1="149.6" x2="542.5" y2="149.6" stroke="#f2f2f2" stroke-width="0.8"/>
<line x1="340" y1="141.4" x2="542.5" y2="141.4" stroke="#f2f2f2" stroke-width="0.8"/>
<line x1="340" y1="133.2" x2="542.5" y2="133.2" stroke="#f2f2f2" stroke-width="0.8"/>
<line x1="340" y1="125" x2="542.5" y2="125" stroke="#f2f2f2" stroke-width="0.8"/>
<line x1="355" y1="120.5" x2="355" y2="169" stroke="#f2f2f2" stroke-width="0.8"/>
<line x1="378.07" y1="120.5" x2="378.07" y2="169" stroke="#f2f2f2" stroke-width="0.8"/>
<line x1="401.14" y1="120.5" x2="401.14" y2="169" stroke="#f2f2f2" stroke-width="0.8"/>
<line x1="424.21" y1="120.5" x2="424.21" y2="169" stroke="#f2f2f2" stroke-width="0.8"/>
<line x1="447.29" y1="120.5" x2="447.29" y2="169" stroke="#f2f2f2" stroke-width="0.8"/>
<line x1="470.36" y1="120.5" x2="470.36" y2="169" stroke="#f2f2f2" stroke-width="0.8"/>
<line x1="493.43" y1="120.5" x2="493.43" y2="169" stroke="#f2f2f2" stroke-width="0.8"/>
<line x1="516.5" y1="120.5" x2="516.5" y2="169" stroke="#f2f2f2" stroke-width="0.8"/>
<line x1="539.57" y1="120.5" x2="539.57" y2="169" stroke="#f2f2f2" stroke-width="0.8"/>
<polyline points="349.2,135.1 349.8,135.1 350.3,126.5 350.8,127.0 351.3,129.2 351.8,130.7 352.4,136.1 352.8,140.5 353.3,141.9 353.7,141.7 354.1,140.5 354.7,138.0 355.2,138.4 355.8,129.6 356.3,130.0 356.9,127.3 357.4,127.0 357.9,133.8 358.4,138.6 358.9,135.5 359.5,142.6 360.0,143.1 360.4,139.1 360.8,142.8 361.4,137.9 361.9,130.0 362.3,130.2 362.6,127.2 363.0,122.5 363.5,127.9 363.9,134.8 364.3,135.7 364.8,143.9 365.3,142.2 365.7,144.8 366.3,139.1 366.7,135.5 367.1,127.2 367.6,131.9 368.1,133.1 368.6,127.5 369.2,128.9 369.7,133.1 370.3,139.7 370.6,136.9 371.1,141.9 371.6,139.4 372.2,139.5 372.7,137.4 373.3,129.2 373.7,128.1 374.3,128.4 374.8,130.6 375.4,129.3 375.9,134.8 376.5,140.2 377.0,140.7 377.4,138.8 378.0,134.7 378.4,131.7 378.9,131.2 379.3,129.1 379.9,128.8 380.3,129.6 380.8,129.8 381.3,135.7 381.8,138.7 382.2,141.9 382.7,142.3 383.1,142.0 383.6,143.8 384.1,134.6 384.6,126.7 385.0,132.4 385.5,122.8 386.1,124.0 386.6,132.6 387.1,131.7 387.7,137.6 388.1,139.2 388.5,145.8 389.0,139.9 389.5,142.8 390.1,144.3 390.6,127.6 391.0,129.3 391.5,126.0 392.1,128.1 392.5,134.9 393.0,137.2 393.6,139.5 393.9,143.8 394.4,146.7 395.0,143.2 395.6,139.1 396.0,131.5 396.5,126.8 397.0,126.7 397.3,124.0 397.9,126.2 398.4,139.3 398.7,137.4 399.2,140.9 399.6,136.6 400.0,143.1 400.4,142.8 400.8,141.8 401.2,141.1 401.6,135.7 402.1,130.4 402.6,134.0 403.2,131.6 403.8,135.7 404.3,139.4 404.8,138.9 405.3,135.7 405.9,143.4 406.4,144.9 406.9,140.0 407.3,128.5 407.8,130.5 408.2,127.0 408.7,123.9 409.1,130.4 409.6,132.8 410.1,133.1 410.5,140.0 410.9,141.6 411.5,139.3 411.9,144.1 412.4,141.6 412.9,138.1 413.4,128.4 413.8,137.2 414.2,129.0 414.6,125.5 415.1,128.0 415.6,130.9 416.0,132.8 416.6,140.8 417.1,142.0 417.5,142.5 418.1,139.8 418.5,136.5 419.1,129.3 419.6,133.6 420.2,123.1 420.6,125.8 421.0,130.9 421.5,132.5 421.9,130.4 422.5,138.3 423.1,139.8 423.6,146.2 424.0,137.9 424.5,133.7 425.0,132.6 425.6,127.9 426.0,129.3 426.4,131.2 426.8,129.3 427.3,137.6 427.8,136.9 428.4,141.4 428.7,138.4 429.2,139.6 429.8,139.7 430.2,138.5 430.6,134.0 431.1,122.5 431.5,123.5 432.0,125.9 432.5,129.3 432.9,127.3 433.2,136.8 433.7,135.8 434.2,147.5 434.8,142.2 435.4,138.8 436.0,135.9 436.3,136.5 436.9,128.7 437.4,123.9 437.9,127.8 438.5,127.5 439.1,134.5 439.7,133.4 440.2,142.1 440.6,148.0 441.2,142.0 441.7,134.2 442.1,129.7 442.5,125.2 443.1,126.2 443.5,127.6 444.1,131.9 444.7,128.0 445.3,139.4 445.8,142.2 446.2,143.8 446.6,148.0 447.2,136.4 447.6,136.5 448.2,133.4 448.7,127.3 449.0,129.6 449.5,127.5 450.0,131.2 450.6,136.0 451.1,140.4 451.5,145.0 452.0,142.3 452.5,141.6 452.9,137.3 453.5,133.2 454.0,128.3 454.4,130.2 455.0,123.9 455.5,131.1 456.0,131.4 456.5,134.4 457.0,140.3 457.5,143.3 457.8,148.0 458.3,143.5 458.7,142.3 459.3,133.9 459.8,131.5 460.2,122.6 460.8,127.1 461.3,126.1 461.6,134.2 462.2,137.0 462.6,141.8 463.0,142.8 463.6,142.4 464.1,143.7 464.6,135.3 465.2,128.3 465.5,134.5 466.0,122.5 466.4,132.3 466.8,128.9 467.2,125.1 467.7,138.8 468.1,137.1 468.5,146.9 468.9,142.6 469.4,143.1 470.0,144.8 470.5,137.2 471.0,136.3 471.6,128.2 472.0,127.6 472.4,122.5 472.9,129.4 473.3,127.8 473.7,139.0 474.2,143.4 474.7,139.6 475.3,148.0 475.7,144.4 476.1,140.2 476.6,139.2 477.0,135.3 477.5,123.4 478.1,124.0 478.7,131.0 479.1,130.7 479.5,139.1 480.0,142.3 480.5,142.6 480.9,138.2 481.5,141.1 481.9,140.0 482.5,131.3 483.1,129.1 483.6,126.3 484.1,125.9 484.6,128.3 485.2,132.2 485.7,139.3 486.1,143.0 486.6,140.2 487.2,146.9 487.8,139.3 488.1,134.7 488.7,134.3 489.2,127.7 489.7,130.3 490.3,127.3 490.7,136.1 491.1,141.5 491.5,142.9 492.0,142.8 492.4,146.2 492.8,140.5 493.3,135.8 493.6,131.2 494.0,132.9 494.6,126.1 495.0,130.0 495.4,128.3 495.8,128.5 496.2,130.9 496.8,134.2 497.3,137.2 497.6,136.6 498.2,146.0 498.6,141.4 499.1,137.7 499.5,133.2 500.0,134.8 500.4,128.5 500.9,122.5 501.3,127.5 501.8,129.5 502.4,135.7 502.7,141.9 503.4,143.7 503.8,141.6 504.4,141.2 504.8,137.2 505.2,138.4 505.6,133.9 506.2,127.4 506.8,131.6 507.3,130.0 507.8,134.1 508.4,143.1 508.9,135.3 509.4,141.6 509.9,145.9 510.4,137.3 511.0,135.2 511.5,132.1 512.0,129.6 512.4,127.8 512.9,129.2 513.4,129.9 514.0,131.6 514.6,137.9 515.2,146.0 515.8,138.4 516.2,140.5 516.7,142.2 517.3,134.0 517.6,131.4 518.0,122.9 518.6,128.3 519.1,131.3 519.7,134.2 520.1,141.4 520.4,137.5 521.0,145.2 521.5,143.0 522.0,137.7 522.6,140.4 522.9,134.0 523.3,131.0 523.7,126.6 524.3,129.8 524.7,131.1 525.0,126.8 525.5,132.3 526.0,138.7 526.5,137.9 527.0,144.2 527.4,138.5 527.9,134.7 528.5,136.2 528.9,130.2 529.3,128.5 529.6,123.8 530.2,124.4 530.7,130.6 531.3,136.8 531.8,138.3 532.4,142.8" fill="none" stroke="#b2dbf2" stroke-width="0.55" stroke-linejoin="round"/>
<polyline points="349.3,146.4 350.9,148.9 353.8,161.3 355.8,149.7 361.5,160.5 367.2,147.2 368.0,157.1 370.4,147.2 373.7,145.6 377.0,152.2 378.6,156.3 379.4,142.2 382.7,151.3 383.5,153.8 385.9,149.7 388.4,147.2 390.0,153.8 393.2,149.7 395.8,158.0 398.2,152.2 401.5,142.4 402.3,151.3 403.1,156.3 404.7,151.3 406.4,166.3 407.2,150.5 408.2,158.0 409.0,164.6 410.7,155.5 413.1,161.3 417.2,153.0 419.6,154.7 424.5,156.3 425.3,160.5 428.6,154.7 430.2,165.4 431.0,156.3 435.1,163.8 436.7,155.5 440.8,154.7 441.6,160.5 444.9,153.0 448.9,147.2 452.2,143.9 453.8,149.7 455.5,158.0 458.7,165.4 460.3,157.1 462.8,156.3 464.4,159.6 466.0,154.7 471.7,153.8 473.6,151.3 477.0,152.2 481.8,155.5 487.5,160.5 489.2,166.3 490.0,149.7 490.8,134.8 491.6,161.3 493.2,155.5 494.9,148.0 496.5,141.4 498.9,153.8 500.6,160.5 501.4,140.6 507.9,140.6 509.5,154.7 511.2,162.9 512.8,151.3 516.0,152.2 516.9,154.7 518.5,148.9 520.9,148.9 522.6,151.3 524.2,148.9 525.8,154.7 528.3,161.3 529.9,141.4 531.5,139.8 533.1,155.5" fill="none" stroke="#ffc996" stroke-width="0.6" stroke-linejoin="round"/>
<path d="M349.2 135.1h0M349.8 135.1h0M350.3 126.5h0M350.8 127.0h0M351.3 129.2h0M351.8 130.7h0M352.4 136.1h0M352.8 140.5h0M353.3 141.9h0M353.7 141.7h0M354.1 140.5h0M354.7 138.0h0M355.2 138.4h0M355.8 129.6h0M356.3 130.0h0M356.9 127.3h0M357.4 127.0h0M357.9 133.8h0M358.4 138.6h0M358.9 135.5h0M359.5 142.6h0M360.0 143.1h0M360.4 139.1h0M360.8 142.8h0M361.4 137.9h0M361.9 130.0h0M362.3 130.2h0M362.6 127.2h0M363.0 122.5h0M363.5 127.9h0M363.9 134.8h0M364.3 135.7h0M364.8 143.9h0M365.3 142.2h0M365.7 144.8h0M366.3 139.1h0M366.7 135.5h0M367.1 127.2h0M367.6 131.9h0M368.1 133.1h0M368.6 127.5h0M369.2 128.9h0M369.7 133.1h0M370.3 139.7h0M370.6 136.9h0M371.1 141.9h0M371.6 139.4h0M372.2 139.5h0M372.7 137.4h0M373.3 129.2h0M373.7 128.1h0M374.3 128.4h0M374.8 130.6h0M375.4 129.3h0M375.9 134.8h0M376.5 140.2h0M377.0 140.7h0M377.4 138.8h0M378.0 134.7h0M378.4 131.7h0M378.9 131.2h0M379.3 129.1h0M379.9 128.8h0M380.3 129.6h0M380.8 129.8h0M381.3 135.7h0M381.8 138.7h0M382.2 141.9h0M382.7 142.3h0M383.1 142.0h0M383.6 143.8h0M384.1 134.6h0M384.6 126.7h0M385.0 132.4h0M385.5 122.8h0M386.1 124.0h0M386.6 132.6h0M387.1 131.7h0M387.7 137.6h0M388.1 139.2h0M388.5 145.8h0M389.0 139.9h0M389.5 142.8h0M390.1 144.3h0M390.6 127.6h0M391.0 129.3h0M391.5 126.0h0M392.1 128.1h0M392.5 134.9h0M393.0 137.2h0M393.6 139.5h0M393.9 143.8h0M394.4 146.7h0M395.0 143.2h0M395.6 139.1h0M396.0 131.5h0M396.5 126.8h0M397.0 126.7h0M397.3 124.0h0M397.9 126.2h0M398.4 139.3h0M398.7 137.4h0M399.2 140.9h0M399.6 136.6h0M400.0 143.1h0M400.4 142.8h0M400.8 141.8h0M401.2 141.1h0M401.6 135.7h0M402.1 130.4h0M402.6 134.0h0M403.2 131.6h0M403.8 135.7h0M404.3 139.4h0M404.8 138.9h0M405.3 135.7h0M405.9 143.4h0M406.4 144.9h0M406.9 140.0h0M407.3 128.5h0M407.8 130.5h0M408.2 127.0h0M408.7 123.9h0M409.1 130.4h0M409.6 132.8h0M410.1 133.1h0M410.5 140.0h0M410.9 141.6h0M411.5 139.3h0M411.9 144.1h0M412.4 141.6h0M412.9 138.1h0M413.4 128.4h0M413.8 137.2h0M414.2 129.0h0M414.6 125.5h0M415.1 128.0h0M415.6 130.9h0M416.0 132.8h0M416.6 140.8h0M417.1 142.0h0M417.5 142.5h0M418.1 139.8h0M418.5 136.5h0M419.1 129.3h0M419.6 133.6h0M420.2 123.1h0M420.6 125.8h0M421.0 130.9h0M421.5 132.5h0M421.9 130.4h0M422.5 138.3h0M423.1 139.8h0M423.6 146.2h0M424.0 137.9h0M424.5 133.7h0M425.0 132.6h0M425.6 127.9h0M426.0 129.3h0M426.4 131.2h0M426.8 129.3h0M427.3 137.6h0M427.8 136.9h0M428.4 141.4h0M428.7 138.4h0M429.2 139.6h0M429.8 139.7h0M430.2 138.5h0M430.6 134.0h0M431.1 122.5h0M431.5 123.5h0M432.0 125.9h0M432.5 129.3h0M432.9 127.3h0M433.2 136.8h0M433.7 135.8h0M434.2 147.5h0M434.8 142.2h0M435.4 138.8h0M436.0 135.9h0M436.3 136.5h0M436.9 128.7h0M437.4 123.9h0M437.9 127.8h0M438.5 127.5h0M439.1 134.5h0M439.7 133.4h0M440.2 142.1h0M440.6 148.0h0M441.2 142.0h0M441.7 134.2h0M442.1 129.7h0M442.5 125.2h0M443.1 126.2h0M443.5 127.6h0M444.1 131.9h0M444.7 128.0h0M445.3 139.4h0M445.8 142.2h0M446.2 143.8h0M446.6 148.0h0M447.2 136.4h0M447.6 136.5h0M448.2 133.4h0M448.7 127.3h0M449.0 129.6h0M449.5 127.5h0M450.0 131.2h0M450.6 136.0h0M451.1 140.4h0M451.5 145.0h0M452.0 142.3h0M452.5 141.6h0M452.9 137.3h0M453.5 133.2h0M454.0 128.3h0M454.4 130.2h0M455.0 123.9h0M455.5 131.1h0M456.0 131.4h0M456.5 134.4h0M457.0 140.3h0M457.5 143.3h0M457.8 148.0h0M458.3 143.5h0M458.7 142.3h0M459.3 133.9h0M459.8 131.5h0M460.2 122.6h0M460.8 127.1h0M461.3 126.1h0M461.6 134.2h0M462.2 137.0h0M462.6 141.8h0M463.0 142.8h0M463.6 142.4h0M464.1 143.7h0M464.6 135.3h0M465.2 128.3h0M465.5 134.5h0M466.0 122.5h0M466.4 132.3h0M466.8 128.9h0M467.2 125.1h0M467.7 138.8h0M468.1 137.1h0M468.5 146.9h0M468.9 142.6h0M469.4 143.1h0M470.0 144.8h0M470.5 137.2h0M471.0 136.3h0M471.6 128.2h0M472.0 127.6h0M472.4 122.5h0M472.9 129.4h0M473.3 127.8h0M473.7 139.0h0M474.2 143.4h0M474.7 139.6h0M475.3 148.0h0M475.7 144.4h0M476.1 140.2h0M476.6 139.2h0M477.0 135.3h0M477.5 123.4h0M478.1 124.0h0M478.7 131.0h0M479.1 130.7h0M479.5 139.1h0M480.0 142.3h0M480.5 142.6h0M480.9 138.2h0M481.5 141.1h0M481.9 140.0h0M482.5 131.3h0M483.1 129.1h0M483.6 126.3h0M484.1 125.9h0M484.6 128.3h0M485.2 132.2h0M485.7 139.3h0M486.1 143.0h0M486.6 140.2h0M487.2 146.9h0M487.8 139.3h0M488.1 134.7h0M488.7 134.3h0M489.2 127.7h0M489.7 130.3h0M490.3 127.3h0M490.7 136.1h0M491.1 141.5h0M491.5 142.9h0M492.0 142.8h0M492.4 146.2h0M492.8 140.5h0M493.3 135.8h0M493.6 131.2h0M494.0 132.9h0M494.6 126.1h0M495.0 130.0h0M495.4 128.3h0M495.8 128.5h0M496.2 130.9h0M496.8 134.2h0M497.3 137.2h0M497.6 136.6h0M498.2 146.0h0M498.6 141.4h0M499.1 137.7h0M499.5 133.2h0M500.0 134.8h0M500.4 128.5h0M500.9 122.5h0M501.3 127.5h0M501.8 129.5h0M502.4 135.7h0M502.7 141.9h0M503.4 143.7h0M503.8 141.6h0M504.4 141.2h0M504.8 137.2h0M505.2 138.4h0M505.6 133.9h0M506.2 127.4h0M506.8 131.6h0M507.3 130.0h0M507.8 134.1h0M508.4 143.1h0M508.9 135.3h0M509.4 141.6h0M509.9 145.9h0M510.4 137.3h0M511.0 135.2h0M511.5 132.1h0M512.0 129.6h0M512.4 127.8h0M512.9 129.2h0M513.4 129.9h0M514.0 131.6h0M514.6 137.9h0M515.2 146.0h0M515.8 138.4h0M516.2 140.5h0M516.7 142.2h0M517.3 134.0h0M517.6 131.4h0M518.0 122.9h0M518.6 128.3h0M519.1 131.3h0M519.7 134.2h0M520.1 141.4h0M520.4 137.5h0M521.0 145.2h0M521.5 143.0h0M522.0 137.7h0M522.6 140.4h0M522.9 134.0h0M523.3 131.0h0M523.7 126.6h0M524.3 129.8h0M524.7 131.1h0M525.0 126.8h0M525.5 132.3h0M526.0 138.7h0M526.5 137.9h0M527.0 144.2h0M527.4 138.5h0M527.9 134.7h0M528.5 136.2h0M528.9 130.2h0M529.3 128.5h0M529.6 123.8h0M530.2 124.4h0M530.7 130.6h0M531.3 136.8h0M531.8 138.3h0M532.4 142.8h0" fill="none" stroke="#3f9dd6" stroke-width="1.20" stroke-linecap="round"/>
<path d="M349.3 146.4h0M350.9 148.9h0M353.8 161.3h0M355.8 149.7h0M361.5 160.5h0M367.2 147.2h0M368.0 157.1h0M370.4 147.2h0M373.7 145.6h0M377.0 152.2h0M378.6 156.3h0M379.4 142.2h0M382.7 151.3h0M383.5 153.8h0M385.9 149.7h0M388.4 147.2h0M390.0 153.8h0M393.2 149.7h0M395.8 158.0h0M398.2 152.2h0M401.5 142.4h0M402.3 151.3h0M403.1 156.3h0M404.7 151.3h0M406.4 166.3h0M407.2 150.5h0M408.2 158.0h0M409.0 164.6h0M410.7 155.5h0M413.1 161.3h0M417.2 153.0h0M419.6 154.7h0M424.5 156.3h0M425.3 160.5h0M428.6 154.7h0M430.2 165.4h0M431.0 156.3h0M435.1 163.8h0M436.7 155.5h0M440.8 154.7h0M441.6 160.5h0M444.9 153.0h0M448.9 147.2h0M452.2 143.9h0M453.8 149.7h0M455.5 158.0h0M458.7 165.4h0M460.3 157.1h0M462.8 156.3h0M464.4 159.6h0M466.0 154.7h0M471.7 153.8h0M473.6 151.3h0M477.0 152.2h0M481.8 155.5h0M487.5 160.5h0M489.2 166.3h0M490.0 149.7h0M490.8 134.8h0M491.6 161.3h0M493.2 155.5h0M494.9 148.0h0M496.5 141.4h0M498.9 153.8h0M500.6 160.5h0M501.4 140.6h0M507.9 140.6h0M509.5 154.7h0M511.2 162.9h0M512.8 151.3h0M516.0 152.2h0M516.9 154.7h0M518.5 148.9h0M520.9 148.9h0M522.6 151.3h0M524.2 148.9h0M525.8 154.7h0M528.3 161.3h0M529.9 141.4h0M531.5 139.8h0M533.1 155.5h0" fill="none" stroke="#ff9f47" stroke-width="1.00" stroke-linecap="round"/>
<rect x="340" y="120.5" width="202.5" height="48.5" fill="none" stroke="#e0e0e0" stroke-width="1"/>
<text x="0" y="0" transform="translate(339,168.85) scale(0.69,1)" text-anchor="end" font-size="8" fill="#333333" stroke="#333333" stroke-width="0.3" font-family='"Liberation Sans", Arial, sans-serif'>20</text>
<text x="0" y="0" transform="translate(339,160.65) scale(0.69,1)" text-anchor="end" font-size="8" fill="#333333" stroke="#333333" stroke-width="0.3" font-family='"Liberation Sans", Arial, sans-serif'>30</text>
<text x="0" y="0" transform="translate(339,152.45) scale(0.69,1)" text-anchor="end" font-size="8" fill="#333333" stroke="#333333" stroke-width="0.3" font-family='"Liberation Sans", Arial, sans-serif'>40</text>
<text x="0" y="0" transform="translate(339,144.25) scale(0.69,1)" text-anchor="end" font-size="8" fill="#333333" stroke="#333333" stroke-width="0.3" font-family='"Liberation Sans", Arial, sans-serif'>50</text>
<text x="0" y="0" transform="translate(339,136.05) scale(0.69,1)" text-anchor="end" font-size="8" fill="#333333" stroke="#333333" stroke-width="0.3" font-family='"Liberation Sans", Arial, sans-serif'>60</text>
<text x="0" y="0" transform="translate(339,127.85) scale(0.69,1)" text-anchor="end" font-size="8" fill="#333333" stroke="#333333" stroke-width="0.3" font-family='"Liberation Sans", Arial, sans-serif'>70</text>
<text x="0" y="0" transform="translate(355,175.85) scale(0.69,1)" text-anchor="middle" font-size="8" fill="#333333" stroke="#333333" stroke-width="0.3" font-family='"Liberation Sans", Arial, sans-serif'>1992</text>
<text x="0" y="0" transform="translate(378.07,175.85) scale(0.69,1)" text-anchor="middle" font-size="8" fill="#333333" stroke="#333333" stroke-width="0.3" font-family='"Liberation Sans", Arial, sans-serif'>1996</text>
<text x="0" y="0" transform="translate(401.14,175.85) scale(0.69,1)" text-anchor="middle" font-size="8" fill="#333333" stroke="#333333" stroke-width="0.3" font-family='"Liberation Sans", Arial, sans-serif'>2000</text>
<text x="0" y="0" transform="translate(424.21,175.85) scale(0.69,1)" text-anchor="middle" font-size="8" fill="#333333" stroke="#333333" stroke-width="0.3" font-family='"Liberation Sans", Arial, sans-serif'>2004</text>
<text x="0" y="0" transform="translate(447.29,175.85) scale(0.69,1)" text-anchor="middle" font-size="8" fill="#333333" stroke="#333333" stroke-width="0.3" font-family='"Liberation Sans", Arial, sans-serif'>2008</text>
<text x="0" y="0" transform="translate(470.36,175.85) scale(0.69,1)" text-anchor="middle" font-size="8" fill="#333333" stroke="#333333" stroke-width="0.3" font-family='"Liberation Sans", Arial, sans-serif'>2012</text>
<text x="0" y="0" transform="translate(493.43,175.85) scale(0.69,1)" text-anchor="middle" font-size="8" fill="#333333" stroke="#333333" stroke-width="0.3" font-family='"Liberation Sans", Arial, sans-serif'>2016</text>
<text x="0" y="0" transform="translate(516.5,175.85) scale(0.69,1)" text-anchor="middle" font-size="8" fill="#333333" stroke="#333333" stroke-width="0.3" font-family='"Liberation Sans", Arial, sans-serif'>2020</text>
<text x="0" y="0" transform="translate(539.57,175.85) scale(0.69,1)" text-anchor="middle" font-size="8" fill="#333333" stroke="#333333" stroke-width="0.3" font-family='"Liberation Sans", Arial, sans-serif'>2024</text>
<rect x="403" y="103" width="76" height="13.5" rx="2.2" fill="#c0c0c0"/>
<text x="441" y="113.3" text-anchor="middle" font-size="10.6" textLength="28.6" lengthAdjust="spacingAndGlyphs" fill="#050505" stroke="#050505" stroke-width="0.42" font-family='"Liberation Sans", Arial, sans-serif'>EFHM</text>
<text x="315" y="126.3" textLength="10.5" lengthAdjust="spacingAndGlyphs" font-size="7.8" font-weight="bold" fill="#1a1a1a" font-family='"Liberation Sans", Arial, sans-serif'>(%)</text>
<line x1="336.5" y1="242" x2="542.5" y2="242" stroke="#f2f2f2" stroke-width="0.8"/>
<line x1="336.5" y1="233.8" x2="542.5" y2="233.8" stroke="#f2f2f2" stroke-width="0.8"/>
<line x1="336.5" y1="225.6" x2="542.5" y2="225.6" stroke="#f2f2f2" stroke-width="0.8"/>
<line x1="336.5" y1="217.4" x2="542.5" y2="217.4" stroke="#f2f2f2" stroke-width="0.8"/>
<line x1="336.5" y1="209.2" x2="542.5" y2="209.2" stroke="#f2f2f2" stroke-width="0.8"/>
<line x1="336.5" y1="201" x2="542.5" y2="201" stroke="#f2f2f2" stroke-width="0.8"/>
<line x1="352" y1="194.5" x2="352" y2="243.5" stroke="#f2f2f2" stroke-width="0.8"/>
<line x1="375.5" y1="194.5" x2="375.5" y2="243.5" stroke="#f2f2f2" stroke-width="0.8"/>
<line x1="399" y1="194.5" x2="399" y2="243.5" stroke="#f2f2f2" stroke-width="0.8"/>
<line x1="422.5" y1="194.5" x2="422.5" y2="243.5" stroke="#f2f2f2" stroke-width="0.8"/>
<line x1="446" y1="194.5" x2="446" y2="243.5" stroke="#f2f2f2" stroke-width="0.8"/>
<line x1="469.5" y1="194.5" x2="469.5" y2="243.5" stroke="#f2f2f2" stroke-width="0.8"/>
<line x1="493" y1="194.5" x2="493" y2="243.5" stroke="#f2f2f2" stroke-width="0.8"/>
<line x1="516.5" y1="194.5" x2="516.5" y2="243.5" stroke="#f2f2f2" stroke-width="0.8"/>
<line x1="540" y1="194.5" x2="540" y2="243.5" stroke="#f2f2f2" stroke-width="0.8"/>
<polyline points="346.1,232.9 346.6,223.9 347.1,227.0 347.4,226.9 347.9,225.2 348.4,219.9 348.8,225.4 349.2,234.0 349.7,232.0 350.2,236.7 350.7,238.1 351.1,238.5 351.6,238.7 352.1,232.8 352.8,228.8 353.1,225.3 353.7,223.8 354.3,224.7 354.7,225.2 355.2,230.5 355.5,232.9 356.0,233.6 356.4,236.2 356.8,237.9 357.3,235.8 357.8,233.0 358.2,230.8 358.6,227.4 359.2,225.8 359.7,221.3 360.2,223.4 360.6,224.7 361.2,227.6 361.7,233.4 362.2,236.6 362.7,235.7 363.3,233.4 363.9,234.7 364.3,229.0 364.9,228.0 365.3,225.0 365.7,223.2 366.3,227.1 366.7,229.5 367.1,231.3 367.5,234.0 368.1,238.0 368.5,237.0 369.0,237.9 369.3,235.0 369.9,228.0 370.4,227.3 371.0,224.0 371.4,222.8 371.9,224.1 372.3,225.4 372.7,226.8 373.3,235.5 373.7,234.2 374.2,235.8 374.6,234.4 375.2,230.6 375.5,232.1 376.0,228.4 376.5,225.1 377.2,229.5 377.6,223.2 378.1,225.5 378.7,229.5 379.1,232.3 379.7,234.3 380.3,234.7 380.9,236.9 381.5,231.1 381.9,226.1 382.4,226.2 382.9,221.3 383.3,224.3 383.9,227.0 384.3,228.2 384.8,233.9 385.3,233.3 385.9,234.5 386.3,237.5 386.9,236.8 387.4,233.2 387.9,227.5 388.3,224.7 388.7,225.5 389.3,224.0 389.8,227.0 390.4,226.5 390.8,230.8 391.2,237.5 391.6,233.7 392.1,235.3 392.5,232.8 393.0,233.9 393.4,231.5 393.9,224.0 394.5,226.4 395.0,221.7 395.4,222.0 395.8,223.5 396.2,228.3 396.7,234.6 397.3,235.8 397.7,238.7 398.2,229.6 398.6,234.6 399.2,233.2 399.6,219.9 400.0,224.6 400.5,226.8 400.9,223.5 401.5,224.7 401.9,228.7 402.3,229.8 402.9,233.5 403.3,236.3 403.9,237.2 404.3,236.6 404.9,231.1 405.5,231.0 405.9,224.4 406.2,224.6 406.8,225.6 407.2,224.4 407.8,229.2 408.4,229.1 408.8,230.6 409.2,232.5 409.6,236.8 410.2,234.3 410.7,231.4 411.2,230.6 411.6,227.9 412.0,224.6 412.5,223.7 413.1,223.6 413.7,227.0 414.0,228.9 414.6,232.2 414.9,233.3 415.4,237.2 415.8,234.6 416.3,233.6 416.8,231.3 417.2,224.8 417.6,223.2 418.2,220.9 418.6,222.0 419.0,222.2 419.4,225.5 420.0,231.4 420.5,233.3 421.0,234.6 421.6,233.8 422.0,233.7 422.4,234.5 422.8,232.6 423.2,225.0 423.6,225.4 424.1,224.2 424.5,221.5 424.9,228.1 425.5,231.3 426.1,232.0 426.5,233.3 426.9,233.3 427.4,236.7 428.0,233.1 428.5,224.6 429.1,230.0 429.7,226.5 430.1,223.0 430.6,225.5 431.0,227.6 431.6,229.2 432.0,226.8 432.5,236.0 432.9,237.2 433.3,236.0 433.7,233.4 434.2,232.9 434.7,228.3 435.0,227.8 435.5,226.5 435.9,224.3 436.2,222.6 436.7,224.6 437.3,230.0 437.8,231.8 438.3,230.4 438.9,236.8 439.4,236.9 439.7,234.3 440.3,232.7 440.8,230.6 441.4,229.1 441.9,222.9 442.5,225.3 443.1,228.2 443.6,229.0 444.1,235.0 444.7,234.2 445.3,234.5 445.8,232.5 446.2,230.6 446.8,228.9 447.2,224.2 447.7,227.0 448.3,225.1 448.7,225.8 449.2,230.0 449.7,231.4 450.0,232.3 450.4,235.2 451.0,235.5 451.4,234.3 451.8,230.5 452.3,228.2 452.8,223.8 453.3,224.7 453.9,223.4 454.4,225.6 454.9,227.9 455.4,229.4 456.0,232.6 456.6,238.7 457.0,234.6 457.4,237.6 457.9,232.3 458.4,228.3 459.0,223.2 459.6,226.7 460.1,223.4 460.5,224.7 460.9,231.4 461.3,230.7 461.6,233.4 462.2,235.5 462.7,235.6 463.2,235.6 463.8,231.6 464.2,227.6 464.7,229.3 465.3,225.5 465.7,224.2 466.2,229.3 466.6,227.7 467.0,230.8 467.5,234.7 467.9,238.7 468.4,236.8 468.8,235.5 469.4,235.2 469.8,234.0 470.4,227.8 470.8,224.1 471.3,226.9 471.8,223.1 472.2,224.5 472.7,229.2 473.1,235.6 473.6,234.6 474.1,238.7 474.7,238.7 475.2,230.9 475.6,230.8 476.0,227.7 476.4,225.8 476.9,224.7 477.4,222.8 477.8,222.2 478.4,230.0 478.8,232.7 479.2,236.3 479.7,236.0 480.1,235.8 480.6,234.5 481.1,234.8 481.6,230.8 482.2,227.1 482.6,225.0 483.2,225.1 483.7,225.5 484.3,231.0 484.7,228.6 485.3,234.3 485.8,237.9 486.3,238.7 486.7,235.7 487.2,232.3 487.8,230.8 488.4,226.3 488.9,222.1 489.5,222.9 490.0,226.6 490.3,231.4 490.9,232.0 491.5,238.6 491.9,234.8 492.4,236.2 492.8,234.6 493.4,231.9 493.8,228.5 494.4,221.8 494.8,224.2 495.4,224.9 495.9,226.9 496.3,230.4 496.9,231.5 497.5,237.4 498.0,228.5 498.5,226.4 499.1,230.1 499.7,229.8 500.2,224.4 500.5,226.1 500.9,222.6 501.3,224.9 501.7,224.5 502.3,232.4 502.8,232.9 503.3,235.5 503.7,234.9 504.2,236.3 504.5,234.2 505.0,229.2 505.5,227.6 505.9,223.8 506.4,228.9 506.9,225.9 507.5,224.5 508.0,229.4 508.5,232.0 509.0,235.8 509.4,234.9 510.0,229.6 510.6,235.7 511.0,228.8 511.4,226.6 511.8,227.1 512.2,223.8 512.7,224.7 513.2,228.7 513.7,229.5 514.3,231.0 514.9,233.6 515.3,233.4 515.9,235.2 516.4,238.7 517.0,232.6 517.4,226.1 517.8,224.7 518.2,220.8 518.7,226.3 519.3,226.0 519.7,229.9 520.0,229.8 520.4,230.4 520.9,237.6 521.4,234.8 521.9,234.9 522.4,234.5 523.0,228.9 523.5,227.0 524.1,221.6 524.5,226.4 524.9,229.2 525.3,227.3 525.8,230.3 526.2,234.7 526.6,234.6 527.0,238.7 527.4,238.4 527.8,235.1 528.4,231.0 528.9,226.6 529.2,227.9 529.8,225.7 530.3,222.5 530.6,223.5 531.0,225.9 531.4,231.3 531.8,234.1 532.3,235.0 532.8,237.0" fill="none" stroke="#b2dbf2" stroke-width="0.55" stroke-linejoin="round"/>
<polyline points="347.1,231.5 349.2,233.9 351.7,222.8 353.3,221.9 359.5,198.4 364.7,215.5 365.0,221.1 368.9,221.9 373.7,221.9 375.9,195.7 376.2,221.9 380.3,226.7 386.0,225.9 388.4,215.5 388.9,234.7 393.3,221.9 397.4,225.1 399.8,202.1 402.0,209.2 404.0,223.5 404.2,217.2 408.3,207.6 410.7,203.6 412.3,219.5 415.6,202.1 418.9,212.4 422.1,218.8 423.7,218.8 427.0,211.6 428.3,199.6 428.6,209.2 429.4,223.5 431.1,225.1 433.5,215.5 435.2,210.0 436.1,218.0 436.9,228.3 439.3,229.9 440.9,221.9 441.8,201.3 445.0,209.2 449.1,215.5 453.2,231.5 456.4,228.3 458.0,227.5 459.7,202.9 460.5,233.0 462.1,234.7 462.9,210.8 463.7,217.2 464.9,223.5 467.0,225.1 471.4,218.0 474.4,215.5 477.1,214.0 480.4,221.1 487.7,221.1 488.5,210.8 489.3,229.9 490.6,226.7 491.8,234.7 492.6,223.5 493.4,197.3 494.2,218.8 495.8,234.7 497.5,228.3 499.1,223.5 500.5,215.5 501.6,233.0 504.1,228.3 506.5,225.1 509.0,225.9 511.4,229.9 512.2,202.1 513.0,237.8 514.7,228.3 516.3,211.6 517.1,225.1 518.7,220.3 522.0,221.9 523.6,229.9 526.9,223.5 528.5,217.2 529.3,222.8 530.1,231.5 531.8,232.2 533.2,217.2 533.8,225.9" fill="none" stroke="#ffc996" stroke-width="0.6" stroke-linejoin="round"/>
<path d="M346.1 232.9h0M346.6 223.9h0M347.1 227.0h0M347.4 226.9h0M347.9 225.2h0M348.4 219.9h0M348.8 225.4h0M349.2 234.0h0M349.7 232.0h0M350.2 236.7h0M350.7 238.1h0M351.1 238.5h0M351.6 238.7h0M352.1 232.8h0M352.8 228.8h0M353.1 225.3h0M353.7 223.8h0M354.3 224.7h0M354.7 225.2h0M355.2 230.5h0M355.5 232.9h0M356.0 233.6h0M356.4 236.2h0M356.8 237.9h0M357.3 235.8h0M357.8 233.0h0M358.2 230.8h0M358.6 227.4h0M359.2 225.8h0M359.7 221.3h0M360.2 223.4h0M360.6 224.7h0M361.2 227.6h0M361.7 233.4h0M362.2 236.6h0M362.7 235.7h0M363.3 233.4h0M363.9 234.7h0M364.3 229.0h0M364.9 228.0h0M365.3 225.0h0M365.7 223.2h0M366.3 227.1h0M366.7 229.5h0M367.1 231.3h0M367.5 234.0h0M368.1 238.0h0M368.5 237.0h0M369.0 237.9h0M369.3 235.0h0M369.9 228.0h0M370.4 227.3h0M371.0 224.0h0M371.4 222.8h0M371.9 224.1h0M372.3 225.4h0M372.7 226.8h0M373.3 235.5h0M373.7 234.2h0M374.2 235.8h0M374.6 234.4h0M375.2 230.6h0M375.5 232.1h0M376.0 228.4h0M376.5 225.1h0M377.2 229.5h0M377.6 223.2h0M378.1 225.5h0M378.7 229.5h0M379.1 232.3h0M379.7 234.3h0M380.3 234.7h0M380.9 236.9h0M381.5 231.1h0M381.9 226.1h0M382.4 226.2h0M382.9 221.3h0M383.3 224.3h0M383.9 227.0h0M384.3 228.2h0M384.8 233.9h0M385.3 233.3h0M385.9 234.5h0M386.3 237.5h0M386.9 236.8h0M387.4 233.2h0M387.9 227.5h0M388.3 224.7h0M388.7 225.5h0M389.3 224.0h0M389.8 227.0h0M390.4 226.5h0M390.8 230.8h0M391.2 237.5h0M391.6 233.7h0M392.1 235.3h0M392.5 232.8h0M393.0 233.9h0M393.4 231.5h0M393.9 224.0h0M394.5 226.4h0M395.0 221.7h0M395.4 222.0h0M395.8 223.5h0M396.2 228.3h0M396.7 234.6h0M397.3 235.8h0M397.7 238.7h0M398.2 229.6h0M398.6 234.6h0M399.2 233.2h0M399.6 219.9h0M400.0 224.6h0M400.5 226.8h0M400.9 223.5h0M401.5 224.7h0M401.9 228.7h0M402.3 229.8h0M402.9 233.5h0M403.3 236.3h0M403.9 237.2h0M404.3 236.6h0M404.9 231.1h0M405.5 231.0h0M405.9 224.4h0M406.2 224.6h0M406.8 225.6h0M407.2 224.4h0M407.8 229.2h0M408.4 229.1h0M408.8 230.6h0M409.2 232.5h0M409.6 236.8h0M410.2 234.3h0M410.7 231.4h0M411.2 230.6h0M411.6 227.9h0M412.0 224.6h0M412.5 223.7h0M413.1 223.6h0M413.7 227.0h0M414.0 228.9h0M414.6 232.2h0M414.9 233.3h0M415.4 237.2h0M415.8 234.6h0M416.3 233.6h0M416.8 231.3h0M417.2 224.8h0M417.6 223.2h0M418.2 220.9h0M418.6 222.0h0M419.0 222.2h0M419.4 225.5h0M420.0 231.4h0M420.5 233.3h0M421.0 234.6h0M421.6 233.8h0M422.0 233.7h0M422.4 234.5h0M422.8 232.6h0M423.2 225.0h0M423.6 225.4h0M424.1 224.2h0M424.5 221.5h0M424.9 228.1h0M425.5 231.3h0M426.1 232.0h0M426.5 233.3h0M426.9 233.3h0M427.4 236.7h0M428.0 233.1h0M428.5 224.6h0M429.1 230.0h0M429.7 226.5h0M430.1 223.0h0M430.6 225.5h0M431.0 227.6h0M431.6 229.2h0M432.0 226.8h0M432.5 236.0h0M432.9 237.2h0M433.3 236.0h0M433.7 233.4h0M434.2 232.9h0M434.7 228.3h0M435.0 227.8h0M435.5 226.5h0M435.9 224.3h0M436.2 222.6h0M436.7 224.6h0M437.3 230.0h0M437.8 231.8h0M438.3 230.4h0M438.9 236.8h0M439.4 236.9h0M439.7 234.3h0M440.3 232.7h0M440.8 230.6h0M441.4 229.1h0M441.9 222.9h0M442.5 225.3h0M443.1 228.2h0M443.6 229.0h0M444.1 235.0h0M444.7 234.2h0M445.3 234.5h0M445.8 232.5h0M446.2 230.6h0M446.8 228.9h0M447.2 224.2h0M447.7 227.0h0M448.3 225.1h0M448.7 225.8h0M449.2 230.0h0M449.7 231.4h0M450.0 232.3h0M450.4 235.2h0M451.0 235.5h0M451.4 234.3h0M451.8 230.5h0M452.3 228.2h0M452.8 223.8h0M453.3 224.7h0M453.9 223.4h0M454.4 225.6h0M454.9 227.9h0M455.4 229.4h0M456.0 232.6h0M456.6 238.7h0M457.0 234.6h0M457.4 237.6h0M457.9 232.3h0M458.4 228.3h0M459.0 223.2h0M459.6 226.7h0M460.1 223.4h0M460.5 224.7h0M460.9 231.4h0M461.3 230.7h0M461.6 233.4h0M462.2 235.5h0M462.7 235.6h0M463.2 235.6h0M463.8 231.6h0M464.2 227.6h0M464.7 229.3h0M465.3 225.5h0M465.7 224.2h0M466.2 229.3h0M466.6 227.7h0M467.0 230.8h0M467.5 234.7h0M467.9 238.7h0M468.4 236.8h0M468.8 235.5h0M469.4 235.2h0M469.8 234.0h0M470.4 227.8h0M470.8 224.1h0M471.3 226.9h0M471.8 223.1h0M472.2 224.5h0M472.7 229.2h0M473.1 235.6h0M473.6 234.6h0M474.1 238.7h0M474.7 238.7h0M475.2 230.9h0M475.6 230.8h0M476.0 227.7h0M476.4 225.8h0M476.9 224.7h0M477.4 222.8h0M477.8 222.2h0M478.4 230.0h0M478.8 232.7h0M479.2 236.3h0M479.7 236.0h0M480.1 235.8h0M480.6 234.5h0M481.1 234.8h0M481.6 230.8h0M482.2 227.1h0M482.6 225.0h0M483.2 225.1h0M483.7 225.5h0M484.3 231.0h0M484.7 228.6h0M485.3 234.3h0M485.8 237.9h0M486.3 238.7h0M486.7 235.7h0M487.2 232.3h0M487.8 230.8h0M488.4 226.3h0M488.9 222.1h0M489.5 222.9h0M490.0 226.6h0M490.3 231.4h0M490.9 232.0h0M491.5 238.6h0M491.9 234.8h0M492.4 236.2h0M492.8 234.6h0M493.4 231.9h0M493.8 228.5h0M494.4 221.8h0M494.8 224.2h0M495.4 224.9h0M495.9 226.9h0M496.3 230.4h0M496.9 231.5h0M497.5 237.4h0M498.0 228.5h0M498.5 226.4h0M499.1 230.1h0M499.7 229.8h0M500.2 224.4h0M500.5 226.1h0M500.9 222.6h0M501.3 224.9h0M501.7 224.5h0M502.3 232.4h0M502.8 232.9h0M503.3 235.5h0M503.7 234.9h0M504.2 236.3h0M504.5 234.2h0M505.0 229.2h0M505.5 227.6h0M505.9 223.8h0M506.4 228.9h0M506.9 225.9h0M507.5 224.5h0M508.0 229.4h0M508.5 232.0h0M509.0 235.8h0M509.4 234.9h0M510.0 229.6h0M510.6 235.7h0M511.0 228.8h0M511.4 226.6h0M511.8 227.1h0M512.2 223.8h0M512.7 224.7h0M513.2 228.7h0M513.7 229.5h0M514.3 231.0h0M514.9 233.6h0M515.3 233.4h0M515.9 235.2h0M516.4 238.7h0M517.0 232.6h0M517.4 226.1h0M517.8 224.7h0M518.2 220.8h0M518.7 226.3h0M519.3 226.0h0M519.7 229.9h0M520.0 229.8h0M520.4 230.4h0M520.9 237.6h0M521.4 234.8h0M521.9 234.9h0M522.4 234.5h0M523.0 228.9h0M523.5 227.0h0M524.1 221.6h0M524.5 226.4h0M524.9 229.2h0M525.3 227.3h0M525.8 230.3h0M526.2 234.7h0M526.6 234.6h0M527.0 238.7h0M527.4 238.4h0M527.8 235.1h0M528.4 231.0h0M528.9 226.6h0M529.2 227.9h0M529.8 225.7h0M530.3 222.5h0M530.6 223.5h0M531.0 225.9h0M531.4 231.3h0M531.8 234.1h0M532.3 235.0h0M532.8 237.0h0" fill="none" stroke="#3f9dd6" stroke-width="1.20" stroke-linecap="round"/>
<path d="M347.1 231.5h0M349.2 233.9h0M351.7 222.8h0M353.3 221.9h0M359.5 198.4h0M364.7 215.5h0M365.0 221.1h0M368.9 221.9h0M373.7 221.9h0M375.9 195.7h0M376.2 221.9h0M380.3 226.7h0M386.0 225.9h0M388.4 215.5h0M388.9 234.7h0M393.3 221.9h0M397.4 225.1h0M399.8 202.1h0M402.0 209.2h0M404.0 223.5h0M404.2 217.2h0M408.3 207.6h0M410.7 203.6h0M412.3 219.5h0M415.6 202.1h0M418.9 212.4h0M422.1 218.8h0M423.7 218.8h0M427.0 211.6h0M428.3 199.6h0M428.6 209.2h0M429.4 223.5h0M431.1 225.1h0M433.5 215.5h0M435.2 210.0h0M436.1 218.0h0M436.9 228.3h0M439.3 229.9h0M440.9 221.9h0M441.8 201.3h0M445.0 209.2h0M449.1 215.5h0M453.2 231.5h0M456.4 228.3h0M458.0 227.5h0M459.7 202.9h0M460.5 233.0h0M462.1 234.7h0M462.9 210.8h0M463.7 217.2h0M464.9 223.5h0M467.0 225.1h0M471.4 218.0h0M474.4 215.5h0M477.1 214.0h0M480.4 221.1h0M487.7 221.1h0M488.5 210.8h0M489.3 229.9h0M490.6 226.7h0M491.8 234.7h0M492.6 223.5h0M493.4 197.3h0M494.2 218.8h0M495.8 234.7h0M497.5 228.3h0M499.1 223.5h0M500.5 215.5h0M501.6 233.0h0M504.1 228.3h0M506.5 225.1h0M509.0 225.9h0M511.4 229.9h0M512.2 202.1h0M513.0 237.8h0M514.7 228.3h0M516.3 211.6h0M517.1 225.1h0M518.7 220.3h0M522.0 221.9h0M523.6 229.9h0M526.9 223.5h0M528.5 217.2h0M529.3 222.8h0M530.1 231.5h0M531.8 232.2h0M533.2 217.2h0M533.8 225.9h0" fill="none" stroke="#ff9f47" stroke-width="1.00" stroke-linecap="round"/>
<rect x="336.5" y="194.5" width="206" height="49" fill="none" stroke="#e0e0e0" stroke-width="1"/>
<text x="0" y="0" transform="translate(335.5,244.85) scale(0.69,1)" text-anchor="end" font-size="8" fill="#333333" stroke="#333333" stroke-width="0.3" font-family='"Liberation Sans", Arial, sans-serif'>1</text>
<text x="0" y="0" transform="translate(335.5,236.65) scale(0.69,1)" text-anchor="end" font-size="8" fill="#333333" stroke="#333333" stroke-width="0.3" font-family='"Liberation Sans", Arial, sans-serif'>2</text>
<text x="0" y="0" transform="translate(335.5,228.45) scale(0.69,1)" text-anchor="end" font-size="8" fill="#333333" stroke="#333333" stroke-width="0.3" font-family='"Liberation Sans", Arial, sans-serif'>3</text>
<text x="0" y="0" transform="translate(335.5,220.25) scale(0.69,1)" text-anchor="end" font-size="8" fill="#333333" stroke="#333333" stroke-width="0.3" font-family='"Liberation Sans", Arial, sans-serif'>4</text>
<text x="0" y="0" transform="translate(335.5,212.05) scale(0.69,1)" text-anchor="end" font-size="8" fill="#333333" stroke="#333333" stroke-width="0.3" font-family='"Liberation Sans", Arial, sans-serif'>5</text>
<text x="0" y="0" transform="translate(335.5,203.85) scale(0.69,1)" text-anchor="end" font-size="8" fill="#333333" stroke="#333333" stroke-width="0.3" font-family='"Liberation Sans", Arial, sans-serif'>6</text>
<text x="0" y="0" transform="translate(352,250.85) scale(0.69,1)" text-anchor="middle" font-size="8" fill="#333333" stroke="#333333" stroke-width="0.3" font-family='"Liberation Sans", Arial, sans-serif'>1992</text>
<text x="0" y="0" transform="translate(375.5,250.85) scale(0.69,1)" text-anchor="middle" font-size="8" fill="#333333" stroke="#333333" stroke-width="0.3" font-family='"Liberation Sans", Arial, sans-serif'>1996</text>
<text x="0" y="0" transform="translate(399,250.85) scale(0.69,1)" text-anchor="middle" font-size="8" fill="#333333" stroke="#333333" stroke-width="0.3" font-family='"Liberation Sans", Arial, sans-serif'>2000</text>
<text x="0" y="0" transform="translate(422.5,250.85) scale(0.69,1)" text-anchor="middle" font-size="8" fill="#333333" stroke="#333333" stroke-width="0.3" font-family='"Liberation Sans", Arial, sans-serif'>2004</text>
<text x="0" y="0" transform="translate(446,250.85) scale(0.69,1)" text-anchor="middle" font-size="8" fill="#333333" stroke="#333333" stroke-width="0.3" font-family='"Liberation Sans", Arial, sans-serif'>2008</text>
<text x="0" y="0" transform="translate(469.5,250.85) scale(0.69,1)" text-anchor="middle" font-size="8" fill="#333333" stroke="#333333" stroke-width="0.3" font-family='"Liberation Sans", Arial, sans-serif'>2012</text>
<text x="0" y="0" transform="translate(493,250.85) scale(0.69,1)" text-anchor="middle" font-size="8" fill="#333333" stroke="#333333" stroke-width="0.3" font-family='"Liberation Sans", Arial, sans-serif'>2016</text>
<text x="0" y="0" transform="translate(516.5,250.85) scale(0.69,1)" text-anchor="middle" font-size="8" fill="#333333" stroke="#333333" stroke-width="0.3" font-family='"Liberation Sans", Arial, sans-serif'>2020</text>
<text x="0" y="0" transform="translate(540,250.85) scale(0.69,1)" text-anchor="middle" font-size="8" fill="#333333" stroke="#333333" stroke-width="0.3" font-family='"Liberation Sans", Arial, sans-serif'>2024</text>
<rect x="401.2" y="179.5" width="77.8" height="13" rx="2.2" fill="#c0c0c0"/>
<text x="440.1" y="189.3" text-anchor="middle" font-size="10.6" textLength="17.2" lengthAdjust="spacingAndGlyphs" fill="#050505" stroke="#050505" stroke-width="0.42" font-family='"Liberation Sans", Arial, sans-serif'>WS</text>
<text x="312" y="202.3" textLength="17" lengthAdjust="spacingAndGlyphs" font-size="7.8" font-weight="bold" fill="#1a1a1a" font-family='"Liberation Sans", Arial, sans-serif'>(m/s)</text>
<line x1="339.5" y1="317" x2="542.5" y2="317" stroke="#f2f2f2" stroke-width="0.8"/>
<line x1="339.5" y1="311.38" x2="542.5" y2="311.38" stroke="#f2f2f2" stroke-width="0.8"/>
<line x1="339.5" y1="305.75" x2="542.5" y2="305.75" stroke="#f2f2f2" stroke-width="0.8"/>
<line x1="339.5" y1="300.12" x2="542.5" y2="300.12" stroke="#f2f2f2" stroke-width="0.8"/>
<line x1="339.5" y1="294.5" x2="542.5" y2="294.5" stroke="#f2f2f2" stroke-width="0.8"/>
<line x1="339.5" y1="288.88" x2="542.5" y2="288.88" stroke="#f2f2f2" stroke-width="0.8"/>
<line x1="339.5" y1="283.25" x2="542.5" y2="283.25" stroke="#f2f2f2" stroke-width="0.8"/>
<line x1="339.5" y1="277.62" x2="542.5" y2="277.62" stroke="#f2f2f2" stroke-width="0.8"/>
<line x1="339.5" y1="272" x2="542.5" y2="272" stroke="#f2f2f2" stroke-width="0.8"/>
<line x1="355" y1="270" x2="355" y2="319" stroke="#f2f2f2" stroke-width="0.8"/>
<line x1="378.07" y1="270" x2="378.07" y2="319" stroke="#f2f2f2" stroke-width="0.8"/>
<line x1="401.14" y1="270" x2="401.14" y2="319" stroke="#f2f2f2" stroke-width="0.8"/>
<line x1="424.21" y1="270" x2="424.21" y2="319" stroke="#f2f2f2" stroke-width="0.8"/>
<line x1="447.29" y1="270" x2="447.29" y2="319" stroke="#f2f2f2" stroke-width="0.8"/>
<line x1="470.36" y1="270" x2="470.36" y2="319" stroke="#f2f2f2" stroke-width="0.8"/>
<line x1="493.43" y1="270" x2="493.43" y2="319" stroke="#f2f2f2" stroke-width="0.8"/>
<line x1="516.5" y1="270" x2="516.5" y2="319" stroke="#f2f2f2" stroke-width="0.8"/>
<line x1="539.57" y1="270" x2="539.57" y2="319" stroke="#f2f2f2" stroke-width="0.8"/>
<polyline points="349.2,313.6 349.8,315.7 350.2,312.3 350.6,314.3 351.2,312.8 351.8,313.8 352.2,312.6 352.8,314.9 353.2,314.0 353.6,313.8 353.9,313.8 354.5,314.7 354.8,314.4 355.2,311.6 355.7,315.8 356.2,314.0 356.6,308.4 357.1,313.6 357.6,314.7 358.1,313.5 358.6,314.2 359.1,314.4 359.5,313.5 360.0,313.8 360.4,314.8 361.0,314.8 361.3,315.0 361.7,314.3 362.2,307.3 362.6,314.7 363.1,314.3 363.5,315.4 364.0,314.2 364.4,314.8 364.9,308.0 365.4,315.1 365.9,313.6 366.5,312.7 366.9,314.5 367.4,310.0 367.8,313.9 368.1,313.3 368.5,313.0 368.9,314.5 369.4,313.8 369.8,316.8 370.2,313.5 370.7,312.9 371.1,314.6 371.6,313.2 372.0,311.8 372.6,307.9 372.9,314.2 373.2,315.6 373.8,314.7 374.3,314.6 374.9,315.4 375.2,313.1 375.6,314.3 376.1,314.2 376.6,314.0 377.1,312.7 377.6,314.4 378.2,312.9 378.7,315.4 379.2,316.0 379.6,314.4 380.0,313.9 380.5,313.8 380.8,315.3 381.3,313.3 381.6,313.9 382.2,311.9 382.6,316.9 383.1,313.4 383.6,313.8 384.0,311.3 384.5,315.3 385.1,314.5 385.5,315.2 385.9,315.3 386.4,312.5 386.9,313.1 387.4,312.4 387.8,313.3 388.4,311.7 388.9,315.1 389.4,312.5 389.8,310.6 390.3,314.2 390.8,312.9 391.1,312.2 391.6,315.5 392.0,315.1 392.4,314.9 392.8,314.5 393.4,315.3 393.9,306.5 394.3,313.3 394.7,315.2 395.2,314.4 395.5,314.5 396.0,315.9 396.4,313.2 396.8,312.7 397.3,315.0 397.9,313.8 398.3,314.7 398.8,314.2 399.3,314.9 399.8,313.2 400.3,313.8 401.0,305.5 401.4,315.0 401.9,315.2 402.4,312.7 403.0,312.5 403.4,314.2 403.8,312.8 404.3,314.4 404.7,315.6 405.3,315.1 405.7,315.4 406.1,312.8 406.6,313.3 407.0,314.9 407.4,316.7 407.8,313.3 408.4,316.0 409.0,315.3 409.4,314.7 409.9,314.0 410.3,314.0 410.9,314.2 411.3,314.5 411.9,314.2 412.4,310.3 412.9,313.9 413.2,299.4 413.9,314.4 414.2,312.5 414.7,314.5 415.0,313.7 415.6,312.6 416.1,315.5 416.5,312.4 417.0,314.0 417.4,312.0 417.9,315.0 418.3,315.3 418.8,314.6 419.1,314.8 419.6,313.1 420.2,315.4 420.8,312.4 421.4,315.3 421.8,306.8 422.2,316.1 422.7,312.1 423.0,314.7 423.6,314.6 424.2,314.1 424.7,315.3 425.1,313.6 425.6,313.2 426.1,314.2 426.6,315.1 427.1,315.6 427.5,315.2 428.0,314.5 428.5,313.0 429.1,316.2 429.6,313.4 430.0,314.3 430.6,315.5 431.2,314.5 431.6,313.9 432.1,314.1 432.7,313.7 433.3,314.0 433.8,312.7 434.2,314.5 434.7,314.7 435.2,314.5 435.7,311.9 436.3,309.2 436.8,315.0 437.3,313.4 437.8,316.0 438.3,315.9 438.8,316.7 439.2,313.0 439.7,313.9 440.2,314.7 440.6,315.7 441.2,316.7 441.5,305.9 442.0,314.7 442.5,312.3 443.0,313.2 443.4,310.8 443.8,314.0 444.3,314.6 444.7,312.5 445.2,315.1 445.6,312.9 446.0,311.6 446.6,312.3 446.9,301.8 447.5,316.0 447.9,314.6 448.3,315.3 448.7,312.6 449.3,314.5 449.8,312.5 450.2,314.0 450.6,313.3 451.0,313.7 451.4,313.1 451.8,312.6 452.2,315.0 452.8,314.9 453.1,313.5 453.4,304.3 454.0,312.2 454.4,313.9 454.9,313.8 455.4,314.5 455.8,316.3 456.4,311.7 456.8,314.4 457.3,312.3 457.8,313.1 458.2,313.7 458.8,315.1 459.1,312.4 459.6,313.8 460.2,314.8 460.6,312.7 461.1,314.5 461.7,312.9 462.3,315.6 462.9,312.7 463.2,314.2 463.6,315.0 464.1,312.8 464.7,311.3 465.1,314.2 465.6,315.2 466.0,314.7 466.4,313.4 466.9,315.5 467.5,311.1 468.1,314.1 468.5,315.1 469.0,312.9 469.3,314.9 469.8,313.9 470.2,316.0 470.6,312.2 470.9,313.7 471.3,308.3 471.9,314.9 472.5,314.9 473.0,313.8 473.4,313.4 473.9,314.5 474.5,314.8 474.9,314.7 475.5,314.9 475.9,314.2 476.4,312.3 477.0,313.7 477.4,313.6 478.0,314.1 478.4,315.7 479.0,315.4 479.5,314.7 479.9,313.8 480.4,315.9 480.9,312.5 481.4,315.1 481.9,314.5 482.5,313.9 482.9,313.1 483.3,312.9 483.9,312.2 484.5,312.4 485.0,314.3 485.4,314.3 485.9,315.0 486.4,312.8 486.9,312.6 487.4,314.9 487.8,316.0 488.2,314.2 488.7,313.0 489.2,316.9 489.7,315.1 490.3,315.3 490.9,315.7 491.2,310.2 491.8,315.7 492.3,312.1 492.7,314.8 493.2,306.7 493.6,313.0 494.1,313.8 494.6,314.7 495.0,312.8 495.4,315.5 495.9,313.4 496.5,313.1 496.9,312.6 497.5,313.8 498.1,313.1 498.5,312.7 498.8,311.4 499.2,313.4 499.8,312.7 500.2,306.7 500.7,312.8 501.3,314.1 501.8,313.8 502.3,314.9 502.8,313.2 503.3,312.3 503.8,315.2 504.2,314.1 504.6,312.7 505.1,314.6 505.4,314.7 505.9,315.4 506.3,312.7 506.7,314.9 507.3,314.0 507.8,314.2 508.2,314.7 508.6,310.8 509.1,312.9 509.6,312.6 510.1,314.3 510.7,314.0 511.1,312.3 511.7,316.5 512.2,314.1 512.8,314.0 513.1,310.0 513.7,312.0 514.2,315.7 514.6,315.3 515.2,313.6 515.7,314.1 516.0,309.2 516.5,316.6 517.0,314.5 517.4,313.4 517.8,313.6 518.2,316.2 518.7,314.3 519.3,313.1 519.7,313.5 520.3,316.3 520.8,313.8 521.4,314.8 521.8,314.9 522.3,312.7 522.5,301.0 523.2,314.6 523.7,315.3 524.2,314.0 524.6,314.7 525.1,313.4 525.7,310.8 526.2,313.5 526.6,314.5 527.2,314.1 527.6,314.8 528.1,314.6 528.6,292.1 529.3,312.1 529.7,314.5 530.2,314.2 530.7,311.5 531.1,316.0 531.5,312.2 532.0,312.3 533.4,297.0" fill="none" stroke="#b2dbf2" stroke-width="0.55" stroke-linejoin="round"/>
<polyline points="349.6,308.1 351.2,300.6 353.7,296.3 355.3,310.6 356.9,312.3 360.2,311.0 363.4,310.3 365.9,311.5 368.3,308.9 370.8,312.3 373.2,307.3 374.5,300.6 375.6,312.3 378.1,308.9 378.6,284.5 379.4,308.9 381.3,312.3 384.5,307.3 387.8,294.7 389.4,300.6 391.0,307.3 393.5,312.3 395.9,294.7 397.5,305.6 400.0,307.3 400.8,294.7 401.6,300.6 403.2,310.6 404.9,307.3 405.9,302.2 407.5,307.3 408.3,314.0 410.0,311.5 412.4,310.6 413.2,286.2 414.0,310.6 415.7,309.8 417.3,298.0 418.9,299.7 423.8,303.0 425.1,291.2 426.3,307.3 427.9,312.3 430.3,303.0 432.0,308.1 435.2,297.1 436.7,300.6 438.4,310.6 441.6,307.3 443.3,308.9 448.1,305.6 453.0,303.0 454.7,310.6 457.9,296.3 459.5,300.6 462.0,309.8 464.4,283.7 465.2,300.6 466.9,307.3 469.3,308.9 472.6,312.3 476.1,311.5 480.9,308.9 484.2,298.0 487.5,273.6 489.1,310.6 489.8,290.4 490.6,305.6 491.9,307.3 493.1,271.9 493.9,305.6 495.5,292.9 497.1,308.9 498.8,303.9 500.4,307.3 501.2,301.4 502.0,311.5 505.3,312.3 510.2,313.2 512.6,311.5 515.9,301.4 517.5,316.5 518.3,309.8 521.6,305.6 522.4,289.6 524.8,311.5 526.4,308.9 528.1,281.1 528.9,305.6 530.0,285.3 531.3,311.5 533.0,312.3" fill="none" stroke="#ffc996" stroke-width="0.6" stroke-linejoin="round"/>
<path d="M349.2 313.6h0M349.8 315.7h0M350.2 312.3h0M350.6 314.3h0M351.2 312.8h0M351.8 313.8h0M352.2 312.6h0M352.8 314.9h0M353.2 314.0h0M353.6 313.8h0M353.9 313.8h0M354.5 314.7h0M354.8 314.4h0M355.2 311.6h0M355.7 315.8h0M356.2 314.0h0M356.6 308.4h0M357.1 313.6h0M357.6 314.7h0M358.1 313.5h0M358.6 314.2h0M359.1 314.4h0M359.5 313.5h0M360.0 313.8h0M360.4 314.8h0M361.0 314.8h0M361.3 315.0h0M361.7 314.3h0M362.2 307.3h0M362.6 314.7h0M363.1 314.3h0M363.5 315.4h0M364.0 314.2h0M364.4 314.8h0M364.9 308.0h0M365.4 315.1h0M365.9 313.6h0M366.5 312.7h0M366.9 314.5h0M367.4 310.0h0M367.8 313.9h0M368.1 313.3h0M368.5 313.0h0M368.9 314.5h0M369.4 313.8h0M369.8 316.8h0M370.2 313.5h0M370.7 312.9h0M371.1 314.6h0M371.6 313.2h0M372.0 311.8h0M372.6 307.9h0M372.9 314.2h0M373.2 315.6h0M373.8 314.7h0M374.3 314.6h0M374.9 315.4h0M375.2 313.1h0M375.6 314.3h0M376.1 314.2h0M376.6 314.0h0M377.1 312.7h0M377.6 314.4h0M378.2 312.9h0M378.7 315.4h0M379.2 316.0h0M379.6 314.4h0M380.0 313.9h0M380.5 313.8h0M380.8 315.3h0M381.3 313.3h0M381.6 313.9h0M382.2 311.9h0M382.6 316.9h0M383.1 313.4h0M383.6 313.8h0M384.0 311.3h0M384.5 315.3h0M385.1 314.5h0M385.5 315.2h0M385.9 315.3h0M386.4 312.5h0M386.9 313.1h0M387.4 312.4h0M387.8 313.3h0M388.4 311.7h0M388.9 315.1h0M389.4 312.5h0M389.8 310.6h0M390.3 314.2h0M390.8 312.9h0M391.1 312.2h0M391.6 315.5h0M392.0 315.1h0M392.4 314.9h0M392.8 314.5h0M393.4 315.3h0M393.9 306.5h0M394.3 313.3h0M394.7 315.2h0M395.2 314.4h0M395.5 314.5h0M396.0 315.9h0M396.4 313.2h0M396.8 312.7h0M397.3 315.0h0M397.9 313.8h0M398.3 314.7h0M398.8 314.2h0M399.3 314.9h0M399.8 313.2h0M400.3 313.8h0M401.0 305.5h0M401.4 315.0h0M401.9 315.2h0M402.4 312.7h0M403.0 312.5h0M403.4 314.2h0M403.8 312.8h0M404.3 314.4h0M404.7 315.6h0M405.3 315.1h0M405.7 315.4h0M406.1 312.8h0M406.6 313.3h0M407.0 314.9h0M407.4 316.7h0M407.8 313.3h0M408.4 316.0h0M409.0 315.3h0M409.4 314.7h0M409.9 314.0h0M410.3 314.0h0M410.9 314.2h0M411.3 314.5h0M411.9 314.2h0M412.4 310.3h0M412.9 313.9h0M413.2 299.4h0M413.9 314.4h0M414.2 312.5h0M414.7 314.5h0M415.0 313.7h0M415.6 312.6h0M416.1 315.5h0M416.5 312.4h0M417.0 314.0h0M417.4 312.0h0M417.9 315.0h0M418.3 315.3h0M418.8 314.6h0M419.1 314.8h0M419.6 313.1h0M420.2 315.4h0M420.8 312.4h0M421.4 315.3h0M421.8 306.8h0M422.2 316.1h0M422.7 312.1h0M423.0 314.7h0M423.6 314.6h0M424.2 314.1h0M424.7 315.3h0M425.1 313.6h0M425.6 313.2h0M426.1 314.2h0M426.6 315.1h0M427.1 315.6h0M427.5 315.2h0M428.0 314.5h0M428.5 313.0h0M429.1 316.2h0M429.6 313.4h0M430.0 314.3h0M430.6 315.5h0M431.2 314.5h0M431.6 313.9h0M432.1 314.1h0M432.7 313.7h0M433.3 314.0h0M433.8 312.7h0M434.2 314.5h0M434.7 314.7h0M435.2 314.5h0M435.7 311.9h0M436.3 309.2h0M436.8 315.0h0M437.3 313.4h0M437.8 316.0h0M438.3 315.9h0M438.8 316.7h0M439.2 313.0h0M439.7 313.9h0M440.2 314.7h0M440.6 315.7h0M441.2 316.7h0M441.5 305.9h0M442.0 314.7h0M442.5 312.3h0M443.0 313.2h0M443.4 310.8h0M443.8 314.0h0M444.3 314.6h0M444.7 312.5h0M445.2 315.1h0M445.6 312.9h0M446.0 311.6h0M446.6 312.3h0M446.9 301.8h0M447.5 316.0h0M447.9 314.6h0M448.3 315.3h0M448.7 312.6h0M449.3 314.5h0M449.8 312.5h0M450.2 314.0h0M450.6 313.3h0M451.0 313.7h0M451.4 313.1h0M451.8 312.6h0M452.2 315.0h0M452.8 314.9h0M453.1 313.5h0M453.4 304.3h0M454.0 312.2h0M454.4 313.9h0M454.9 313.8h0M455.4 314.5h0M455.8 316.3h0M456.4 311.7h0M456.8 314.4h0M457.3 312.3h0M457.8 313.1h0M458.2 313.7h0M458.8 315.1h0M459.1 312.4h0M459.6 313.8h0M460.2 314.8h0M460.6 312.7h0M461.1 314.5h0M461.7 312.9h0M462.3 315.6h0M462.9 312.7h0M463.2 314.2h0M463.6 315.0h0M464.1 312.8h0M464.7 311.3h0M465.1 314.2h0M465.6 315.2h0M466.0 314.7h0M466.4 313.4h0M466.9 315.5h0M467.5 311.1h0M468.1 314.1h0M468.5 315.1h0M469.0 312.9h0M469.3 314.9h0M469.8 313.9h0M470.2 316.0h0M470.6 312.2h0M470.9 313.7h0M471.3 308.3h0M471.9 314.9h0M472.5 314.9h0M473.0 313.8h0M473.4 313.4h0M473.9 314.5h0M474.5 314.8h0M474.9 314.7h0M475.5 314.9h0M475.9 314.2h0M476.4 312.3h0M477.0 313.7h0M477.4 313.6h0M478.0 314.1h0M478.4 315.7h0M479.0 315.4h0M479.5 314.7h0M479.9 313.8h0M480.4 315.9h0M480.9 312.5h0M481.4 315.1h0M481.9 314.5h0M482.5 313.9h0M482.9 313.1h0M483.3 312.9h0M483.9 312.2h0M484.5 312.4h0M485.0 314.3h0M485.4 314.3h0M485.9 315.0h0M486.4 312.8h0M486.9 312.6h0M487.4 314.9h0M487.8 316.0h0M488.2 314.2h0M488.7 313.0h0M489.2 316.9h0M489.7 315.1h0M490.3 315.3h0M490.9 315.7h0M491.2 310.2h0M491.8 315.7h0M492.3 312.1h0M492.7 314.8h0M493.2 306.7h0M493.6 313.0h0M494.1 313.8h0M494.6 314.7h0M495.0 312.8h0M495.4 315.5h0M495.9 313.4h0M496.5 313.1h0M496.9 312.6h0M497.5 313.8h0M498.1 313.1h0M498.5 312.7h0M498.8 311.4h0M499.2 313.4h0M499.8 312.7h0M500.2 306.7h0M500.7 312.8h0M501.3 314.1h0M501.8 313.8h0M502.3 314.9h0M502.8 313.2h0M503.3 312.3h0M503.8 315.2h0M504.2 314.1h0M504.6 312.7h0M505.1 314.6h0M505.4 314.7h0M505.9 315.4h0M506.3 312.7h0M506.7 314.9h0M507.3 314.0h0M507.8 314.2h0M508.2 314.7h0M508.6 310.8h0M509.1 312.9h0M509.6 312.6h0M510.1 314.3h0M510.7 314.0h0M511.1 312.3h0M511.7 316.5h0M512.2 314.1h0M512.8 314.0h0M513.1 310.0h0M513.7 312.0h0M514.2 315.7h0M514.6 315.3h0M515.2 313.6h0M515.7 314.1h0M516.0 309.2h0M516.5 316.6h0M517.0 314.5h0M517.4 313.4h0M517.8 313.6h0M518.2 316.2h0M518.7 314.3h0M519.3 313.1h0M519.7 313.5h0M520.3 316.3h0M520.8 313.8h0M521.4 314.8h0M521.8 314.9h0M522.3 312.7h0M522.5 301.0h0M523.2 314.6h0M523.7 315.3h0M524.2 314.0h0M524.6 314.7h0M525.1 313.4h0M525.7 310.8h0M526.2 313.5h0M526.6 314.5h0M527.2 314.1h0M527.6 314.8h0M528.1 314.6h0M528.6 292.1h0M529.3 312.1h0M529.7 314.5h0M530.2 314.2h0M530.7 311.5h0M531.1 316.0h0M531.5 312.2h0M532.0 312.3h0M533.4 297.0h0" fill="none" stroke="#3f9dd6" stroke-width="1.20" stroke-linecap="round"/>
<path d="M349.6 308.1h0M351.2 300.6h0M353.7 296.3h0M355.3 310.6h0M356.9 312.3h0M360.2 311.0h0M363.4 310.3h0M365.9 311.5h0M368.3 308.9h0M370.8 312.3h0M373.2 307.3h0M374.5 300.6h0M375.6 312.3h0M378.1 308.9h0M378.6 284.5h0M379.4 308.9h0M381.3 312.3h0M384.5 307.3h0M387.8 294.7h0M389.4 300.6h0M391.0 307.3h0M393.5 312.3h0M395.9 294.7h0M397.5 305.6h0M400.0 307.3h0M400.8 294.7h0M401.6 300.6h0M403.2 310.6h0M404.9 307.3h0M405.9 302.2h0M407.5 307.3h0M408.3 314.0h0M410.0 311.5h0M412.4 310.6h0M413.2 286.2h0M414.0 310.6h0M415.7 309.8h0M417.3 298.0h0M418.9 299.7h0M423.8 303.0h0M425.1 291.2h0M426.3 307.3h0M427.9 312.3h0M430.3 303.0h0M432.0 308.1h0M435.2 297.1h0M436.7 300.6h0M438.4 310.6h0M441.6 307.3h0M443.3 308.9h0M448.1 305.6h0M453.0 303.0h0M454.7 310.6h0M457.9 296.3h0M459.5 300.6h0M462.0 309.8h0M464.4 283.7h0M465.2 300.6h0M466.9 307.3h0M469.3 308.9h0M472.6 312.3h0M476.1 311.5h0M480.9 308.9h0M484.2 298.0h0M487.5 273.6h0M489.1 310.6h0M489.8 290.4h0M490.6 305.6h0M491.9 307.3h0M493.1 271.9h0M493.9 305.6h0M495.5 292.9h0M497.1 308.9h0M498.8 303.9h0M500.4 307.3h0M501.2 301.4h0M502.0 311.5h0M505.3 312.3h0M510.2 313.2h0M512.6 311.5h0M515.9 301.4h0M517.5 316.5h0M518.3 309.8h0M521.6 305.6h0M522.4 289.6h0M524.8 311.5h0M526.4 308.9h0M528.1 281.1h0M528.9 305.6h0M530.0 285.3h0M531.3 311.5h0M533.0 312.3h0" fill="none" stroke="#ff9f47" stroke-width="1.00" stroke-linecap="round"/>
<rect x="339.5" y="270" width="203" height="49" fill="none" stroke="#e0e0e0" stroke-width="1"/>
<text x="0" y="0" transform="translate(338.5,319.85) scale(0.69,1)" text-anchor="end" font-size="8" fill="#333333" stroke="#333333" stroke-width="0.3" font-family='"Liberation Sans", Arial, sans-serif'>0</text>
<text x="0" y="0" transform="translate(338.5,314.23) scale(0.69,1)" text-anchor="end" font-size="8" fill="#333333" stroke="#333333" stroke-width="0.3" font-family='"Liberation Sans", Arial, sans-serif'>5</text>
<text x="0" y="0" transform="translate(338.5,308.6) scale(0.69,1)" text-anchor="end" font-size="8" fill="#333333" stroke="#333333" stroke-width="0.3" font-family='"Liberation Sans", Arial, sans-serif'>10</text>
<text x="0" y="0" transform="translate(338.5,302.98) scale(0.69,1)" text-anchor="end" font-size="8" fill="#333333" stroke="#333333" stroke-width="0.3" font-family='"Liberation Sans", Arial, sans-serif'>15</text>
<text x="0" y="0" transform="translate(338.5,297.35) scale(0.69,1)" text-anchor="end" font-size="8" fill="#333333" stroke="#333333" stroke-width="0.3" font-family='"Liberation Sans", Arial, sans-serif'>20</text>
<text x="0" y="0" transform="translate(338.5,291.73) scale(0.69,1)" text-anchor="end" font-size="8" fill="#333333" stroke="#333333" stroke-width="0.3" font-family='"Liberation Sans", Arial, sans-serif'>25</text>
<text x="0" y="0" transform="translate(338.5,286.1) scale(0.69,1)" text-anchor="end" font-size="8" fill="#333333" stroke="#333333" stroke-width="0.3" font-family='"Liberation Sans", Arial, sans-serif'>30</text>
<text x="0" y="0" transform="translate(338.5,280.48) scale(0.69,1)" text-anchor="end" font-size="8" fill="#333333" stroke="#333333" stroke-width="0.3" font-family='"Liberation Sans", Arial, sans-serif'>35</text>
<text x="0" y="0" transform="translate(338.5,274.85) scale(0.69,1)" text-anchor="end" font-size="8" fill="#333333" stroke="#333333" stroke-width="0.3" font-family='"Liberation Sans", Arial, sans-serif'>40</text>
<text x="0" y="0" transform="translate(355,326.35) scale(0.69,1)" text-anchor="middle" font-size="8" fill="#333333" stroke="#333333" stroke-width="0.3" font-family='"Liberation Sans", Arial, sans-serif'>1992</text>
<text x="0" y="0" transform="translate(378.07,326.35) scale(0.69,1)" text-anchor="middle" font-size="8" fill="#333333" stroke="#333333" stroke-width="0.3" font-family='"Liberation Sans", Arial, sans-serif'>1996</text>
<text x="0" y="0" transform="translate(401.14,326.35) scale(0.69,1)" text-anchor="middle" font-size="8" fill="#333333" stroke="#333333" stroke-width="0.3" font-family='"Liberation Sans", Arial, sans-serif'>2000</text>
<text x="0" y="0" transform="translate(424.21,326.35) scale(0.69,1)" text-anchor="middle" font-size="8" fill="#333333" stroke="#333333" stroke-width="0.3" font-family='"Liberation Sans", Arial, sans-serif'>2004</text>
<text x="0" y="0" transform="translate(447.29,326.35) scale(0.69,1)" text-anchor="middle" font-size="8" fill="#333333" stroke="#333333" stroke-width="0.3" font-family='"Liberation Sans", Arial, sans-serif'>2008</text>
<text x="0" y="0" transform="translate(470.36,326.35) scale(0.69,1)" text-anchor="middle" font-size="8" fill="#333333" stroke="#333333" stroke-width="0.3" font-family='"Liberation Sans", Arial, sans-serif'>2012</text>
<text x="0" y="0" transform="translate(493.43,326.35) scale(0.69,1)" text-anchor="middle" font-size="8" fill="#333333" stroke="#333333" stroke-width="0.3" font-family='"Liberation Sans", Arial, sans-serif'>2016</text>
<text x="0" y="0" transform="translate(516.5,326.35) scale(0.69,1)" text-anchor="middle" font-size="8" fill="#333333" stroke="#333333" stroke-width="0.3" font-family='"Liberation Sans", Arial, sans-serif'>2020</text>
<text x="0" y="0" transform="translate(539.57,326.35) scale(0.69,1)" text-anchor="middle" font-size="8" fill="#333333" stroke="#333333" stroke-width="0.3" font-family='"Liberation Sans", Arial, sans-serif'>2024</text>
<rect x="401.5" y="254.8" width="77.5" height="13.2" rx="2.2" fill="#c0c0c0"/>
<text x="440.25" y="264.8" text-anchor="middle" font-size="10.6" textLength="64.2" lengthAdjust="spacingAndGlyphs" fill="#050505" stroke="#050505" stroke-width="0.42" font-family='"Liberation Sans", Arial, sans-serif'>N_PCP_DAYS</text>
<text x="311" y="274.3" textLength="18.5" lengthAdjust="spacingAndGlyphs" font-size="7.8" font-weight="bold" fill="#1a1a1a" font-family='"Liberation Sans", Arial, sans-serif'>(days)</text>
<path d="M246.5 145.3 H275.5 V125 L304.5 165.8 L275.5 206 V185.8 H246.5 Z" fill="#fff" stroke="#4a4a4a" stroke-width="1" stroke-linejoin="miter"/>
</svg>
</body></html>
